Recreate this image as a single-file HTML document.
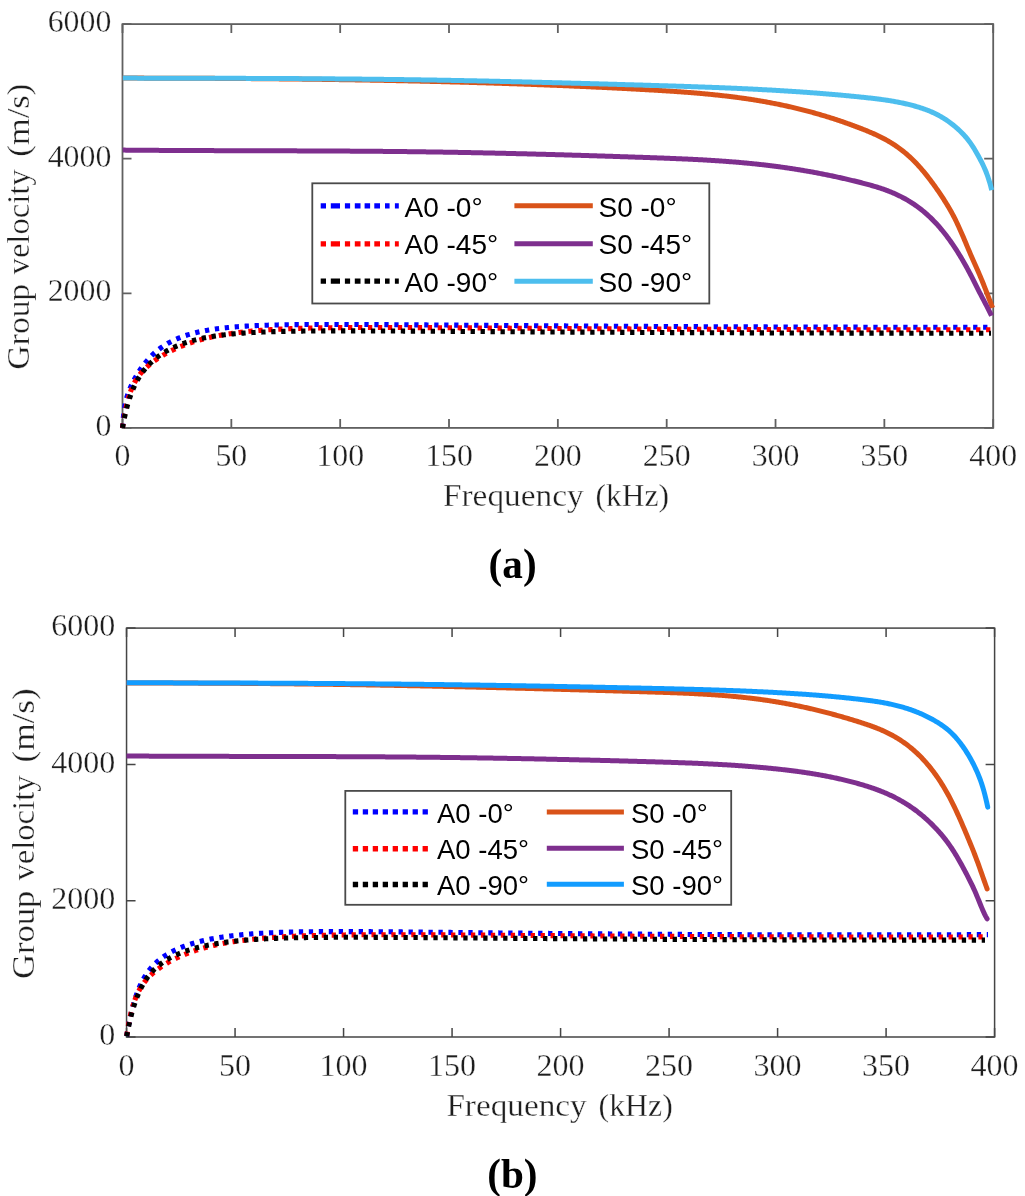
<!DOCTYPE html>
<html><head><meta charset="utf-8"><title>Group velocity</title>
<style>
html,body{margin:0;padding:0;background:#fff;}
svg{display:block;}
text{font-family:'Liberation Serif', 'DejaVu Serif', serif;fill:#1e1e1e;stroke:#fff;stroke-width:0.3px;paint-order:normal;}
text.sans{font-family:'Liberation Sans', Arial, sans-serif;fill:#000;stroke:none;}
text.lab{fill:#000;font-weight:bold;stroke:none;}
</style></head>
<body>
<svg width="1025" height="1196" viewBox="0 0 1025 1196">
<rect width="1025" height="1196" fill="#fff"/>
<rect x="122.5" y="24.1" width="870.70" height="403.80" fill="none" stroke="#606060" stroke-width="1.8"/>
<path d="M122.50,427.9V418.90M122.50,24.1V33.10M231.34,427.9V418.90M231.34,24.1V33.10M340.18,427.9V418.90M340.18,24.1V33.10M449.01,427.9V418.90M449.01,24.1V33.10M557.85,427.9V418.90M557.85,24.1V33.10M666.69,427.9V418.90M666.69,24.1V33.10M775.53,427.9V418.90M775.53,24.1V33.10M884.36,427.9V418.90M884.36,24.1V33.10M993.20,427.9V418.90M993.20,24.1V33.10M122.5,427.90H131.50M993.2,427.90H984.20M122.5,293.30H131.50M993.2,293.30H984.20M122.5,158.70H131.50M993.2,158.70H984.20M122.5,24.10H131.50M993.2,24.10H984.20" stroke="#606060" stroke-width="1.8" fill="none"/>
<clipPath id="clipa"><rect x="119.5" y="21.1" width="876.7" height="409.79999999999995"/></clipPath>
<clipPath id="clipsa"><rect x="122.5" y="21.1" width="873.7" height="409.79999999999995"/></clipPath>
<g clip-path="url(#clipa)" fill="none">
<path d="M122.50,427.90L122.70,425.09L122.90,422.52L123.10,420.17L123.30,418.02L123.50,416.05L123.70,414.23L123.90,412.55L124.10,411.00L124.30,409.56L124.50,408.22L124.70,406.97L124.90,405.80L125.10,404.71L125.30,403.68L125.50,402.71L125.70,401.79L125.90,400.91L126.10,400.08L126.30,399.29L126.50,398.54L126.70,397.81L126.90,397.11L127.10,396.44L127.30,395.79L127.50,395.16L127.70,394.56L127.90,393.96L128.10,393.39L128.30,392.83L128.50,392.28L128.70,391.75L128.90,391.22L129.10,390.71L129.30,390.21L129.50,389.71L129.70,389.22L129.90,388.75L130.10,388.28L130.30,387.81L130.50,387.35L130.70,386.90L130.90,386.46L131.10,386.01L131.30,385.58L131.50,385.15L131.70,384.72L131.90,384.30L132.10,383.89L132.30,383.47L132.50,383.06L132.70,382.66L132.90,382.26L133.10,381.86L133.30,381.47L133.50,381.08L133.70,380.69L133.90,380.31L134.10,379.93L134.30,379.55L134.50,379.18L134.70,378.81L134.90,378.44L135.10,378.08L135.30,377.72L135.50,377.36L135.70,377.00L135.90,376.65L136.10,376.30L136.30,375.95L136.50,375.61L136.70,375.27L136.90,374.93L137.10,374.59L137.30,374.25L137.50,373.92L137.70,373.59L137.90,373.27L138.10,372.94L138.30,372.62L138.50,372.30L138.70,371.99L138.90,371.67L139.10,371.36L139.30,371.05L139.50,370.74L139.70,370.44L139.90,370.13L140.10,369.83L140.30,369.53L140.50,369.24L140.70,368.94L140.90,368.65L141.10,368.36L141.30,368.07L141.50,367.79L141.70,367.50L141.90,367.22L142.10,366.94L142.30,366.67L142.50,366.39L142.70,366.12L142.90,365.85L143.10,365.58L143.30,365.31L143.50,365.04L143.70,364.78L143.90,364.52L144.10,364.26L144.30,364.00L144.50,363.74L144.70,363.49L144.90,363.24L145.10,362.99L145.30,362.74L145.50,362.49L145.70,362.25L145.90,362.00L146.10,361.76L146.30,361.52L146.50,361.28L146.70,361.05L146.90,360.81L147.10,360.58L147.30,360.35L147.50,360.12L148.50,358.99L149.50,357.90L150.50,356.85L151.50,355.84L152.50,354.86L153.50,353.92L154.50,353.01L155.50,352.12L156.50,351.27L157.50,350.45L158.50,349.65L159.50,348.88L160.50,348.14L161.50,347.42L162.50,346.72L163.50,346.05L164.50,345.39L165.50,344.76L166.50,344.15L167.50,343.56L168.50,342.99L169.50,342.43L170.50,341.90L171.50,341.38L172.50,340.87L173.50,340.39L174.50,339.91L175.50,339.45L176.50,339.01L177.50,338.58L178.50,338.16L179.50,337.76L180.50,337.37L181.50,336.99L182.50,336.62L183.50,336.26L184.50,335.91L185.50,335.58L186.50,335.25L187.50,334.93L188.50,334.62L189.50,334.33L190.50,334.04L191.50,333.76L192.50,333.48L193.50,333.22L194.50,332.96L195.50,332.71L196.50,332.47L197.50,332.23L198.50,332.00L199.50,331.78L200.50,331.56L201.50,331.36L202.50,331.15L203.50,330.95L204.50,330.76L205.50,330.57L206.50,330.39L207.50,330.22L208.50,330.05L209.50,329.88L210.50,329.72L211.50,329.56L212.50,329.41L213.50,329.26L214.50,329.11L215.50,328.97L216.50,328.84L217.50,328.70L218.50,328.57L219.50,328.45L220.50,328.33L221.50,328.21L222.50,328.09L223.50,327.98L224.50,327.87L225.50,327.77L226.50,327.66L227.50,327.56L228.50,327.47L229.50,327.37L230.50,327.28L231.50,327.19L232.50,327.10L233.50,327.02L234.50,326.94L235.50,326.86L236.50,326.78L237.50,326.70L238.50,326.63L239.50,326.56L240.50,326.49L241.50,326.42L242.50,326.36L243.50,326.29L244.50,326.23L245.50,326.17L246.50,326.11L247.50,326.05L248.50,326.00L249.50,325.95L250.50,325.89L251.50,325.84L252.50,325.79L253.50,325.75L254.50,325.70L255.50,325.65L256.50,325.61L257.50,325.57L258.50,325.53L259.50,325.49L260.50,325.45L261.50,325.41L262.50,325.37L263.50,325.34L264.50,325.30L265.50,325.27L266.50,325.24L267.50,325.21L268.50,325.17L269.50,325.14L270.50,325.12L271.50,325.09L272.50,325.06L273.50,325.04L274.50,325.01L275.50,324.99L276.50,324.96L277.50,324.94L278.50,324.92L279.50,324.90L280.50,324.87L281.50,324.85L282.50,324.84L283.50,324.82L284.50,324.80L285.50,324.78L286.50,324.76L287.50,324.75L288.50,324.73L289.50,324.72L290.50,324.70L291.50,324.69L292.50,324.67L293.50,324.66L294.50,324.65L295.50,324.64L296.50,324.63L297.50,324.61L298.50,324.60L299.50,324.59L300.50,324.58L301.50,324.58L302.50,324.57L303.50,324.56L304.50,324.55L305.50,324.54L306.50,324.54L307.50,324.53L308.50,324.52L309.50,324.52L310.50,324.51L311.50,324.50L312.50,324.50L313.50,324.49L314.50,324.49L315.50,324.49L316.50,324.48L317.50,324.48L318.50,324.47L319.50,324.47L320.50,324.47L321.50,324.47L322.50,324.46L323.50,324.46L324.50,324.46L325.50,324.46L326.50,324.46L327.50,324.46L328.50,324.45L329.50,324.45L330.50,324.45L331.50,324.45L332.50,324.45L333.50,324.45L334.50,324.45L335.50,324.45L336.50,324.45L337.50,324.46L338.50,324.46L339.50,324.46L340.50,324.46L341.50,324.46L342.50,324.46L343.50,324.46L344.50,324.47L345.50,324.47L346.50,324.47L347.50,324.47L348.50,324.48L349.50,324.48L350.50,324.48L351.50,324.48L352.50,324.49L353.50,324.49L354.50,324.49L355.50,324.50L356.50,324.50L357.50,324.51L358.50,324.51L359.50,324.51L360.50,324.52L361.50,324.52L362.50,324.53L363.50,324.53L364.50,324.53L365.50,324.54L366.50,324.54L367.50,324.55L368.50,324.55L369.50,324.56L370.50,324.56L371.50,324.57L372.50,324.57L373.50,324.58L374.50,324.58L375.50,324.59L376.50,324.59L377.50,324.60L378.50,324.61L379.50,324.61L380.50,324.62L381.50,324.62L382.50,324.63L383.50,324.63L384.50,324.64L385.50,324.65L386.50,324.65L387.50,324.66L388.50,324.66L389.50,324.67L390.50,324.68L391.50,324.68L392.50,324.69L393.50,324.69L394.50,324.70L395.50,324.71L396.50,324.71L397.50,324.72L398.50,324.73L399.50,324.73L400.50,324.74L401.50,324.75L402.50,324.75L403.50,324.76L404.50,324.77L405.50,324.77L406.50,324.78L407.50,324.79L408.50,324.79L409.50,324.80L410.50,324.81L411.50,324.82L412.50,324.82L413.50,324.83L414.50,324.84L415.50,324.84L416.50,324.85L417.50,324.86L418.50,324.86L419.50,324.87L420.50,324.88L421.50,324.89L422.50,324.89L423.50,324.90L424.50,324.91L425.50,324.92L426.50,324.92L427.50,324.93L428.50,324.94L429.50,324.94L430.50,324.95L431.50,324.96L432.50,324.97L433.50,324.97L434.50,324.98L435.50,324.99L436.50,325.00L437.50,325.00L438.50,325.01L439.50,325.02L440.50,325.03L441.50,325.03L442.50,325.04L443.50,325.05L444.50,325.05L445.50,325.06L446.50,325.07L447.50,325.08L448.50,325.08L449.50,325.09L450.50,325.10L451.50,325.11L452.50,325.11L453.50,325.12L454.50,325.13L455.50,325.14L456.50,325.14L457.50,325.15L458.50,325.16L459.50,325.17L460.50,325.17L461.50,325.18L462.50,325.19L463.50,325.20L464.50,325.20L465.50,325.21L466.50,325.22L467.50,325.23L468.50,325.23L469.50,325.24L470.50,325.25L471.50,325.26L472.50,325.26L473.50,325.27L474.50,325.28L475.50,325.29L476.50,325.29L477.50,325.30L478.50,325.31L479.50,325.32L480.50,325.32L481.50,325.33L482.50,325.34L483.50,325.35L484.50,325.35L485.50,325.36L486.50,325.37L487.50,325.38L488.50,325.38L489.50,325.39L490.50,325.40L491.50,325.40L492.50,325.41L493.50,325.42L494.50,325.43L495.50,325.43L496.50,325.44L497.50,325.45L498.50,325.46L499.50,325.46L500.50,325.47L501.50,325.48L502.50,325.48L503.50,325.49L504.50,325.50L505.50,325.51L506.50,325.51L507.50,325.52L508.50,325.53L509.50,325.54L510.50,325.54L511.50,325.55L512.50,325.56L513.50,325.56L514.50,325.57L515.50,325.58L516.50,325.59L517.50,325.59L518.50,325.60L519.50,325.61L520.50,325.61L521.50,325.62L522.50,325.63L523.50,325.63L524.50,325.64L525.50,325.65L526.50,325.66L527.50,325.66L528.50,325.67L529.50,325.68L530.50,325.68L531.50,325.69L532.50,325.70L533.50,325.70L534.50,325.71L535.50,325.72L536.50,325.73L537.50,325.73L538.50,325.74L539.50,325.75L540.50,325.75L541.50,325.76L542.50,325.77L543.50,325.77L544.50,325.78L545.50,325.79L546.50,325.79L547.50,325.80L548.50,325.81L549.50,325.81L550.50,325.82L551.50,325.83L552.50,325.83L553.50,325.84L554.50,325.85L555.50,325.85L556.50,325.86L557.50,325.87L558.50,325.87L559.50,325.88L560.50,325.89L561.50,325.89L562.50,325.90L563.50,325.91L564.50,325.91L565.50,325.92L566.50,325.93L567.50,325.93L568.50,325.94L569.50,325.95L570.50,325.95L571.50,325.96L572.50,325.96L573.50,325.97L574.50,325.98L575.50,325.98L576.50,325.99L577.50,326.00L578.50,326.00L579.50,326.01L580.50,326.02L581.50,326.02L582.50,326.03L583.50,326.03L584.50,326.04L585.50,326.05L586.50,326.05L587.50,326.06L588.50,326.07L589.50,326.07L590.50,326.08L591.50,326.08L592.50,326.09L593.50,326.10L594.50,326.10L595.50,326.11L596.50,326.11L597.50,326.12L598.50,326.13L599.50,326.13L600.50,326.14L601.50,326.14L602.50,326.15L603.50,326.16L604.50,326.16L605.50,326.17L606.50,326.17L607.50,326.18L608.50,326.19L609.50,326.19L610.50,326.20L611.50,326.20L612.50,326.21L613.50,326.22L614.50,326.22L615.50,326.23L616.50,326.23L617.50,326.24L618.50,326.24L619.50,326.25L620.50,326.26L621.50,326.26L622.50,326.27L623.50,326.27L624.50,326.28L625.50,326.28L626.50,326.29L627.50,326.29L628.50,326.30L629.50,326.31L630.50,326.31L631.50,326.32L632.50,326.32L633.50,326.33L634.50,326.33L635.50,326.34L636.50,326.34L637.50,326.35L638.50,326.36L639.50,326.36L640.50,326.37L641.50,326.37L642.50,326.38L643.50,326.38L644.50,326.39L645.50,326.39L646.50,326.40L647.50,326.40L648.50,326.41L649.50,326.41L650.50,326.42L651.50,326.42L652.50,326.43L653.50,326.44L654.50,326.44L655.50,326.45L656.50,326.45L657.50,326.46L658.50,326.46L659.50,326.47L660.50,326.47L661.50,326.48L662.50,326.48L663.50,326.49L664.50,326.49L665.50,326.50L666.50,326.50L667.50,326.51L668.50,326.51L669.50,326.52L670.50,326.52L671.50,326.53L672.50,326.53L673.50,326.54L674.50,326.54L675.50,326.55L676.50,326.55L677.50,326.56L678.50,326.56L679.50,326.57L680.50,326.57L681.50,326.57L682.50,326.58L683.50,326.58L684.50,326.59L685.50,326.59L686.50,326.60L687.50,326.60L688.50,326.61L689.50,326.61L690.50,326.62L691.50,326.62L692.50,326.63L693.50,326.63L694.50,326.64L695.50,326.64L696.50,326.64L697.50,326.65L698.50,326.65L699.50,326.66L700.50,326.66L701.50,326.67L702.50,326.67L703.50,326.68L704.50,326.68L705.50,326.68L706.50,326.69L707.50,326.69L708.50,326.70L709.50,326.70L710.50,326.71L711.50,326.71L712.50,326.72L713.50,326.72L714.50,326.72L715.50,326.73L716.50,326.73L717.50,326.74L718.50,326.74L719.50,326.74L720.50,326.75L721.50,326.75L722.50,326.76L723.50,326.76L724.50,326.77L725.50,326.77L726.50,326.77L727.50,326.78L728.50,326.78L729.50,326.79L730.50,326.79L731.50,326.79L732.50,326.80L733.50,326.80L734.50,326.81L735.50,326.81L736.50,326.81L737.50,326.82L738.50,326.82L739.50,326.82L740.50,326.83L741.50,326.83L742.50,326.84L743.50,326.84L744.50,326.84L745.50,326.85L746.50,326.85L747.50,326.86L748.50,326.86L749.50,326.86L750.50,326.87L751.50,326.87L752.50,326.87L753.50,326.88L754.50,326.88L755.50,326.88L756.50,326.89L757.50,326.89L758.50,326.90L759.50,326.90L760.50,326.90L761.50,326.91L762.50,326.91L763.50,326.91L764.50,326.92L765.50,326.92L766.50,326.92L767.50,326.93L768.50,326.93L769.50,326.93L770.50,326.94L771.50,326.94L772.50,326.94L773.50,326.95L774.50,326.95L775.50,326.95L776.50,326.96L777.50,326.96L778.50,326.96L779.50,326.97L780.50,326.97L781.50,326.97L782.50,326.98L783.50,326.98L784.50,326.98L785.50,326.99L786.50,326.99L787.50,326.99L788.50,327.00L789.50,327.00L790.50,327.00L791.50,327.00L792.50,327.01L793.50,327.01L794.50,327.01L795.50,327.02L796.50,327.02L797.50,327.02L798.50,327.03L799.50,327.03L800.50,327.03L801.50,327.03L802.50,327.04L803.50,327.04L804.50,327.04L805.50,327.05L806.50,327.05L807.50,327.05L808.50,327.05L809.50,327.06L810.50,327.06L811.50,327.06L812.50,327.06L813.50,327.07L814.50,327.07L815.50,327.07L816.50,327.08L817.50,327.08L818.50,327.08L819.50,327.08L820.50,327.09L821.50,327.09L822.50,327.09L823.50,327.09L824.50,327.10L825.50,327.10L826.50,327.10L827.50,327.10L828.50,327.11L829.50,327.11L830.50,327.11L831.50,327.11L832.50,327.12L833.50,327.12L834.50,327.12L835.50,327.12L836.50,327.13L837.50,327.13L838.50,327.13L839.50,327.13L840.50,327.13L841.50,327.14L842.50,327.14L843.50,327.14L844.50,327.14L845.50,327.15L846.50,327.15L847.50,327.15L848.50,327.15L849.50,327.15L850.50,327.16L851.50,327.16L852.50,327.16L853.50,327.16L854.50,327.16L855.50,327.17L856.50,327.17L857.50,327.17L858.50,327.17L859.50,327.17L860.50,327.18L861.50,327.18L862.50,327.18L863.50,327.18L864.50,327.18L865.50,327.19L866.50,327.19L867.50,327.19L868.50,327.19L869.50,327.19L870.50,327.20L871.50,327.20L872.50,327.20L873.50,327.20L874.50,327.20L875.50,327.20L876.50,327.21L877.50,327.21L878.50,327.21L879.50,327.21L880.50,327.21L881.50,327.21L882.50,327.22L883.50,327.22L884.50,327.22L885.50,327.22L886.50,327.22L887.50,327.22L888.50,327.23L889.50,327.23L890.50,327.23L891.50,327.23L892.50,327.23L893.50,327.23L894.50,327.23L895.50,327.24L896.50,327.24L897.50,327.24L898.50,327.24L899.50,327.24L900.50,327.24L901.50,327.24L902.50,327.25L903.50,327.25L904.50,327.25L905.50,327.25L906.50,327.25L907.50,327.25L908.50,327.25L909.50,327.25L910.50,327.25L911.50,327.26L912.50,327.26L913.50,327.26L914.50,327.26L915.50,327.26L916.50,327.26L917.50,327.26L918.50,327.26L919.50,327.26L920.50,327.27L921.50,327.27L922.50,327.27L923.50,327.27L924.50,327.27L925.50,327.27L926.50,327.27L927.50,327.27L928.50,327.27L929.50,327.27L930.50,327.28L931.50,327.28L932.50,327.28L933.50,327.28L934.50,327.28L935.50,327.28L936.50,327.28L937.50,327.28L938.50,327.28L939.50,327.28L940.50,327.28L941.50,327.28L942.50,327.28L943.50,327.28L944.50,327.29L945.50,327.29L946.50,327.29L947.50,327.29L948.50,327.29L949.50,327.29L950.50,327.29L951.50,327.29L952.50,327.29L953.50,327.29L954.50,327.29L955.50,327.29L956.50,327.29L957.50,327.29L958.50,327.29L959.50,327.29L960.50,327.29L961.50,327.29L962.50,327.29L963.50,327.29L964.50,327.30L965.50,327.30L966.50,327.30L967.50,327.30L968.50,327.30L969.50,327.30L970.50,327.30L971.50,327.30L972.50,327.30L973.50,327.30L974.50,327.30L975.50,327.30L976.50,327.30L977.50,327.30L978.50,327.30L979.50,327.30L980.50,327.30L981.50,327.30L982.50,327.30L983.50,327.30L984.50,327.30L985.50,327.30L986.50,327.30L987.50,327.30L988.50,327.30L989.50,327.30L990.50,327.30L991.00,327.30" stroke="#0000FF" stroke-width="5.1" stroke-linejoin="round" stroke-dasharray="4.3 5.68" stroke-dashoffset="0"/>
<path d="M122.50,427.90L122.70,426.47L122.90,425.07L123.10,423.72L123.30,422.40L123.50,421.12L123.70,419.87L123.90,418.65L124.10,417.46L124.30,416.31L124.50,415.19L124.70,414.09L124.90,413.03L125.10,411.99L125.30,410.97L125.50,409.99L125.70,409.02L125.90,408.09L126.10,407.17L126.30,406.28L126.50,405.41L126.70,404.56L126.90,403.73L127.10,402.92L127.30,402.13L127.50,401.36L127.70,400.61L127.90,399.88L128.10,399.16L128.30,398.46L128.50,397.77L128.70,397.10L128.90,396.45L129.10,395.81L129.30,395.18" stroke="#FF0000" stroke-width="5.1" stroke-linejoin="round" stroke-dasharray="4.3 5.67" stroke-dashoffset="0"/>
<path d="M129.30,395.18L129.50,394.57L129.70,393.97L129.90,393.38L130.10,392.81L130.30,392.25L130.50,391.70L130.70,391.16L130.90,390.63L131.10,390.12L131.30,389.61L131.50,389.12L131.70,388.63L131.90,388.15L132.10,387.69L132.30,387.23L132.50,386.78L132.70,386.34L132.90,385.90L133.10,385.48L133.30,385.06L133.50,384.65L133.70,384.25L133.90,383.85L134.10,383.46L134.30,383.08L134.50,382.70L134.70,382.33L134.90,381.97L135.10,381.61L135.30,381.26L135.50,380.91L135.70,380.57L135.90,380.24L136.10,379.91L136.30,379.58L136.50,379.26L136.70,378.95L136.90,378.63L137.10,378.33L137.30,378.03L137.50,377.73L137.70,377.43L137.90,377.14L138.10,376.86L138.30,376.57L138.50,376.30L138.70,376.02L138.90,375.75L139.10,375.48L139.30,375.22L139.50,374.95L139.70,374.70L139.90,374.44L140.10,374.19L140.30,373.94L140.50,373.69L140.70,373.45L140.90,373.21L141.10,372.97L141.30,372.73L141.50,372.50L141.70,372.27L141.90,372.04L142.10,371.81L142.30,371.59L142.50,371.37L142.70,371.15L142.90,370.93L143.10,370.71L143.30,370.50L143.50,370.29L143.70,370.08L143.90,369.87L144.10,369.67L144.30,369.46L144.50,369.26L144.70,369.06L144.90,368.86L145.10,368.66L145.30,368.47L145.50,368.27L145.70,368.08L145.90,367.89L146.10,367.70L146.30,367.51L146.50,367.33L146.70,367.14L146.90,366.96L147.10,366.78L147.30,366.60L147.50,366.42L148.50,365.54L149.50,364.69L150.50,363.86L151.50,363.07L152.50,362.29L153.50,361.54L154.50,360.80L155.50,360.09L156.50,359.39L157.50,358.71L158.50,358.05L159.50,357.40L160.50,356.77L161.50,356.15L162.50,355.55L163.50,354.95L164.50,354.37L165.50,353.81L166.50,353.25L167.50,352.71L168.50,352.18L169.50,351.66L170.50,351.15L171.50,350.65L172.50,350.16L173.50,349.68L174.50,349.21L175.50,348.75L176.50,348.30L177.50,347.85L178.50,347.42L179.50,347.00L180.50,346.58L181.50,346.17L182.50,345.77L183.50,345.38L184.50,345.00L185.50,344.62L186.50,344.26L187.50,343.89L188.50,343.54L189.50,343.19L190.50,342.85L191.50,342.52L192.50,342.19L193.50,341.87L194.50,341.56L195.50,341.25L196.50,340.95L197.50,340.66L198.50,340.37L199.50,340.09L200.50,339.81L201.50,339.54L202.50,339.27L203.50,339.01L204.50,338.75L205.50,338.50L206.50,338.26L207.50,338.02L208.50,337.78L209.50,337.55L210.50,337.32L211.50,337.10L212.50,336.88L213.50,336.67L214.50,336.46L215.50,336.26L216.50,336.06L217.50,335.86L218.50,335.67L219.50,335.48L220.50,335.30L221.50,335.12L222.50,334.94L223.50,334.77L224.50,334.60L225.50,334.43L226.50,334.27L227.50,334.11L228.50,333.95L229.50,333.80L230.50,333.65L231.50,333.50L232.50,333.36L233.50,333.22L234.50,333.08L235.50,332.94L236.50,332.81L237.50,332.68L238.50,332.56L239.50,332.43L240.50,332.31L241.50,332.19L242.50,332.07L243.50,331.96L244.50,331.85L245.50,331.74L246.50,331.63L247.50,331.53L248.50,331.43L249.50,331.33L250.50,331.23L251.50,331.13L252.50,331.04L253.50,330.95L254.50,330.86L255.50,330.77L256.50,330.68L257.50,330.60L258.50,330.51L259.50,330.43L260.50,330.35L261.50,330.28L262.50,330.20L263.50,330.13L264.50,330.06L265.50,329.98L266.50,329.92L267.50,329.85L268.50,329.78L269.50,329.72L270.50,329.65L271.50,329.59L272.50,329.53L273.50,329.47L274.50,329.42L275.50,329.36L276.50,329.30L277.50,329.25L278.50,329.20L279.50,329.15L280.50,329.10L281.50,329.05L282.50,329.00L283.50,328.95L284.50,328.91L285.50,328.86L286.50,328.82L287.50,328.78L288.50,328.73L289.50,328.69L290.50,328.65L291.50,328.62L292.50,328.58L293.50,328.54L294.50,328.51L295.50,328.47L296.50,328.44L297.50,328.40L298.50,328.37L299.50,328.34L300.50,328.31L301.50,328.28L302.50,328.25L303.50,328.22L304.50,328.19L305.50,328.17L306.50,328.14L307.50,328.11L308.50,328.09L309.50,328.07L310.50,328.04L311.50,328.02L312.50,328.00L313.50,327.98L314.50,327.95L315.50,327.93L316.50,327.91L317.50,327.89L318.50,327.88L319.50,327.86L320.50,327.84L321.50,327.82L322.50,327.81L323.50,327.79L324.50,327.77L325.50,327.76L326.50,327.75L327.50,327.73L328.50,327.72L329.50,327.70L330.50,327.69L331.50,327.68L332.50,327.67L333.50,327.66L334.50,327.64L335.50,327.63L336.50,327.62L337.50,327.61L338.50,327.60L339.50,327.59L340.50,327.59L341.50,327.58L342.50,327.57L343.50,327.56L344.50,327.55L345.50,327.55L346.50,327.54L347.50,327.53L348.50,327.53L349.50,327.52L350.50,327.52L351.50,327.51L352.50,327.51L353.50,327.50L354.50,327.50L355.50,327.49L356.50,327.49L357.50,327.48L358.50,327.48L359.50,327.48L360.50,327.47L361.50,327.47L362.50,327.47L363.50,327.47L364.50,327.47L365.50,327.46L366.50,327.46L367.50,327.46L368.50,327.46L369.50,327.46L370.50,327.46L371.50,327.46L372.50,327.46L373.50,327.46L374.50,327.46L375.50,327.46L376.50,327.46L377.50,327.46L378.50,327.46L379.50,327.46L380.50,327.46L381.50,327.46L382.50,327.46L383.50,327.46L384.50,327.46L385.50,327.47L386.50,327.47L387.50,327.47L388.50,327.47L389.50,327.47L390.50,327.48L391.50,327.48L392.50,327.48L393.50,327.48L394.50,327.49L395.50,327.49L396.50,327.49L397.50,327.50L398.50,327.50L399.50,327.50L400.50,327.51L401.50,327.51L402.50,327.51L403.50,327.52L404.50,327.52L405.50,327.53L406.50,327.53L407.50,327.53L408.50,327.54L409.50,327.54L410.50,327.55L411.50,327.55L412.50,327.56L413.50,327.56L414.50,327.56L415.50,327.57L416.50,327.57L417.50,327.58L418.50,327.58L419.50,327.59L420.50,327.59L421.50,327.60L422.50,327.60L423.50,327.61L424.50,327.61L425.50,327.62L426.50,327.63L427.50,327.63L428.50,327.64L429.50,327.64L430.50,327.65L431.50,327.65L432.50,327.66L433.50,327.66L434.50,327.67L435.50,327.68L436.50,327.68L437.50,327.69L438.50,327.69L439.50,327.70L440.50,327.71L441.50,327.71L442.50,327.72L443.50,327.72L444.50,327.73L445.50,327.74L446.50,327.74L447.50,327.75L448.50,327.76L449.50,327.76L450.50,327.77L451.50,327.78L452.50,327.78L453.50,327.79L454.50,327.79L455.50,327.80L456.50,327.81L457.50,327.81L458.50,327.82L459.50,327.83L460.50,327.83L461.50,327.84L462.50,327.85L463.50,327.85L464.50,327.86L465.50,327.87L466.50,327.87L467.50,327.88L468.50,327.89L469.50,327.89L470.50,327.90L471.50,327.91L472.50,327.91L473.50,327.92L474.50,327.93L475.50,327.93L476.50,327.94L477.50,327.95L478.50,327.96L479.50,327.96L480.50,327.97L481.50,327.98L482.50,327.98L483.50,327.99L484.50,328.00L485.50,328.00L486.50,328.01L487.50,328.02L488.50,328.02L489.50,328.03L490.50,328.04L491.50,328.05L492.50,328.05L493.50,328.06L494.50,328.07L495.50,328.07L496.50,328.08L497.50,328.09L498.50,328.09L499.50,328.10L500.50,328.11L501.50,328.11L502.50,328.12L503.50,328.13L504.50,328.14L505.50,328.14L506.50,328.15L507.50,328.16L508.50,328.16L509.50,328.17L510.50,328.18L511.50,328.18L512.50,328.19L513.50,328.20L514.50,328.20L515.50,328.21L516.50,328.22L517.50,328.22L518.50,328.23L519.50,328.24L520.50,328.25L521.50,328.25L522.50,328.26L523.50,328.27L524.50,328.27L525.50,328.28L526.50,328.29L527.50,328.29L528.50,328.30L529.50,328.31L530.50,328.31L531.50,328.32L532.50,328.33L533.50,328.33L534.50,328.34L535.50,328.35L536.50,328.35L537.50,328.36L538.50,328.37L539.50,328.37L540.50,328.38L541.50,328.39L542.50,328.39L543.50,328.40L544.50,328.41L545.50,328.41L546.50,328.42L547.50,328.43L548.50,328.43L549.50,328.44L550.50,328.45L551.50,328.45L552.50,328.46L553.50,328.47L554.50,328.47L555.50,328.48L556.50,328.49L557.50,328.49L558.50,328.50L559.50,328.51L560.50,328.51L561.50,328.52L562.50,328.52L563.50,328.53L564.50,328.54L565.50,328.54L566.50,328.55L567.50,328.56L568.50,328.56L569.50,328.57L570.50,328.58L571.50,328.58L572.50,328.59L573.50,328.59L574.50,328.60L575.50,328.61L576.50,328.61L577.50,328.62L578.50,328.63L579.50,328.63L580.50,328.64L581.50,328.64L582.50,328.65L583.50,328.66L584.50,328.66L585.50,328.67L586.50,328.67L587.50,328.68L588.50,328.69L589.50,328.69L590.50,328.70L591.50,328.70L592.50,328.71L593.50,328.72L594.50,328.72L595.50,328.73L596.50,328.73L597.50,328.74L598.50,328.75L599.50,328.75L600.50,328.76L601.50,328.76L602.50,328.77L603.50,328.78L604.50,328.78L605.50,328.79L606.50,328.79L607.50,328.80L608.50,328.80L609.50,328.81L610.50,328.82L611.50,328.82L612.50,328.83L613.50,328.83L614.50,328.84L615.50,328.84L616.50,328.85L617.50,328.86L618.50,328.86L619.50,328.87L620.50,328.87L621.50,328.88L622.50,328.88L623.50,328.89L624.50,328.89L625.50,328.90L626.50,328.91L627.50,328.91L628.50,328.92L629.50,328.92L630.50,328.93L631.50,328.93L632.50,328.94L633.50,328.94L634.50,328.95L635.50,328.95L636.50,328.96L637.50,328.96L638.50,328.97L639.50,328.97L640.50,328.98L641.50,328.98L642.50,328.99L643.50,329.00L644.50,329.00L645.50,329.01L646.50,329.01L647.50,329.02L648.50,329.02L649.50,329.03L650.50,329.03L651.50,329.04L652.50,329.04L653.50,329.05L654.50,329.05L655.50,329.06L656.50,329.06L657.50,329.07L658.50,329.07L659.50,329.08L660.50,329.08L661.50,329.08L662.50,329.09L663.50,329.09L664.50,329.10L665.50,329.10L666.50,329.11L667.50,329.11L668.50,329.12L669.50,329.12L670.50,329.13L671.50,329.13L672.50,329.14L673.50,329.14L674.50,329.15L675.50,329.15L676.50,329.16L677.50,329.16L678.50,329.16L679.50,329.17L680.50,329.17L681.50,329.18L682.50,329.18L683.50,329.19L684.50,329.19L685.50,329.20L686.50,329.20L687.50,329.20L688.50,329.21L689.50,329.21L690.50,329.22L691.50,329.22L692.50,329.23L693.50,329.23L694.50,329.23L695.50,329.24L696.50,329.24L697.50,329.25L698.50,329.25L699.50,329.26L700.50,329.26L701.50,329.26L702.50,329.27L703.50,329.27L704.50,329.28L705.50,329.28L706.50,329.28L707.50,329.29L708.50,329.29L709.50,329.30L710.50,329.30L711.50,329.30L712.50,329.31L713.50,329.31L714.50,329.32L715.50,329.32L716.50,329.32L717.50,329.33L718.50,329.33L719.50,329.34L720.50,329.34L721.50,329.34L722.50,329.35L723.50,329.35L724.50,329.35L725.50,329.36L726.50,329.36L727.50,329.37L728.50,329.37L729.50,329.37L730.50,329.38L731.50,329.38L732.50,329.38L733.50,329.39L734.50,329.39L735.50,329.39L736.50,329.40L737.50,329.40L738.50,329.40L739.50,329.41L740.50,329.41L741.50,329.41L742.50,329.42L743.50,329.42L744.50,329.42L745.50,329.43L746.50,329.43L747.50,329.43L748.50,329.44L749.50,329.44L750.50,329.44L751.50,329.45L752.50,329.45L753.50,329.45L754.50,329.46L755.50,329.46L756.50,329.46L757.50,329.47L758.50,329.47L759.50,329.47L760.50,329.48L761.50,329.48L762.50,329.48L763.50,329.48L764.50,329.49L765.50,329.49L766.50,329.49L767.50,329.50L768.50,329.50L769.50,329.50L770.50,329.51L771.50,329.51L772.50,329.51L773.50,329.51L774.50,329.52L775.50,329.52L776.50,329.52L777.50,329.52L778.50,329.53L779.50,329.53L780.50,329.53L781.50,329.54L782.50,329.54L783.50,329.54L784.50,329.54L785.50,329.55L786.50,329.55L787.50,329.55L788.50,329.55L789.50,329.56L790.50,329.56L791.50,329.56L792.50,329.56L793.50,329.57L794.50,329.57L795.50,329.57L796.50,329.57L797.50,329.58L798.50,329.58L799.50,329.58L800.50,329.58L801.50,329.59L802.50,329.59L803.50,329.59L804.50,329.59L805.50,329.59L806.50,329.60L807.50,329.60L808.50,329.60L809.50,329.60L810.50,329.61L811.50,329.61L812.50,329.61L813.50,329.61L814.50,329.61L815.50,329.62L816.50,329.62L817.50,329.62L818.50,329.62L819.50,329.62L820.50,329.63L821.50,329.63L822.50,329.63L823.50,329.63L824.50,329.63L825.50,329.64L826.50,329.64L827.50,329.64L828.50,329.64L829.50,329.64L830.50,329.64L831.50,329.65L832.50,329.65L833.50,329.65L834.50,329.65L835.50,329.65L836.50,329.65L837.50,329.66L838.50,329.66L839.50,329.66L840.50,329.66L841.50,329.66L842.50,329.66L843.50,329.67L844.50,329.67L845.50,329.67L846.50,329.67L847.50,329.67L848.50,329.67L849.50,329.67L850.50,329.68L851.50,329.68L852.50,329.68L853.50,329.68L854.50,329.68L855.50,329.68L856.50,329.68L857.50,329.69L858.50,329.69L859.50,329.69L860.50,329.69L861.50,329.69L862.50,329.69L863.50,329.69L864.50,329.69L865.50,329.70L866.50,329.70L867.50,329.70L868.50,329.70L869.50,329.70L870.50,329.70L871.50,329.70L872.50,329.70L873.50,329.70L874.50,329.70L875.50,329.71L876.50,329.71L877.50,329.71L878.50,329.71L879.50,329.71L880.50,329.71L881.50,329.71L882.50,329.71L883.50,329.71L884.50,329.71L885.50,329.71L886.50,329.71L887.50,329.72L888.50,329.72L889.50,329.72L890.50,329.72L891.50,329.72L892.50,329.72L893.50,329.72L894.50,329.72L895.50,329.72L896.50,329.72L897.50,329.72L898.50,329.72L899.50,329.72L900.50,329.72L901.50,329.72L902.50,329.72L903.50,329.72L904.50,329.73L905.50,329.73L906.50,329.73L907.50,329.73L908.50,329.73L909.50,329.73L910.50,329.73L911.50,329.73L912.50,329.73L913.50,329.73L914.50,329.73L915.50,329.73L916.50,329.73L917.50,329.73L918.50,329.73L919.50,329.73L920.50,329.73L921.50,329.73L922.50,329.73L923.50,329.73L924.50,329.73L925.50,329.73L926.50,329.73L927.50,329.73L928.50,329.73L929.50,329.73L930.50,329.73L931.50,329.73L932.50,329.73L933.50,329.73L934.50,329.73L935.50,329.73L936.50,329.73L937.50,329.73L938.50,329.73L939.50,329.73L940.50,329.73L941.50,329.73L942.50,329.73L943.50,329.73L944.50,329.73L945.50,329.73L946.50,329.73L947.50,329.73L948.50,329.73L949.50,329.73L950.50,329.72L951.50,329.72L952.50,329.72L953.50,329.72L954.50,329.72L955.50,329.72L956.50,329.72L957.50,329.72L958.50,329.72L959.50,329.72L960.50,329.72L961.50,329.72L962.50,329.72L963.50,329.72L964.50,329.72L965.50,329.72L966.50,329.72L967.50,329.71L968.50,329.71L969.50,329.71L970.50,329.71L971.50,329.71L972.50,329.71L973.50,329.71L974.50,329.71L975.50,329.71L976.50,329.71L977.50,329.71L978.50,329.71L979.50,329.70L980.50,329.70L981.50,329.70L982.50,329.70L983.50,329.70L984.50,329.70L985.50,329.70L986.50,329.70L987.50,329.70L988.50,329.70L989.50,329.69L990.50,329.69L991.00,329.69" stroke="#FF0000" stroke-width="5.1" stroke-linejoin="round" stroke-dasharray="4.3 5.67" stroke-dashoffset="36.46"/>
<path d="M122.50,427.90L122.70,426.76L122.90,425.64L123.10,424.55L123.30,423.48L123.50,422.42L123.70,421.39L123.90,420.38L124.10,419.39L124.30,418.42L124.50,417.47L124.70,416.54L124.90,415.62L125.10,414.72L125.30,413.84L125.50,412.97L125.70,412.12L125.90,411.29L126.10,410.47L126.30,409.66L126.50,408.87L126.70,408.09L126.90,407.33L127.10,406.58L127.30,405.85L127.50,405.12L127.70,404.41L127.90,403.71L128.10,403.02L128.30,402.35L128.50,401.68L128.70,401.03L128.90,400.39L129.10,399.75L129.30,399.13L129.50,398.52L129.70,397.91L129.90,397.32L130.10,396.73L130.30,396.16L130.50,395.59L130.70,395.03L130.90,394.48L131.10,393.94L131.30,393.41L131.50,392.88L131.70,392.36L131.90,391.85L132.10,391.35L132.30,390.85L132.50,390.36L132.70,389.88L132.90,389.40L133.10,388.93L133.30,388.47L133.50,388.01L133.70,387.56L133.90,387.12L134.10,386.68L134.30,386.24L134.50,385.82L134.70,385.39L134.90,384.98L135.10,384.56L135.30,384.16L135.50,383.76L135.70,383.36L135.90,382.97L136.10,382.58L136.30,382.20L136.50,381.82L136.70,381.45L136.90,381.08L137.10,380.71L137.30,380.35L137.50,380.00L137.70,379.64L137.90,379.30L138.10,378.95L138.30,378.61L138.50,378.27L138.70,377.94L138.90,377.61L139.10,377.28L139.30,376.96L139.50,376.64L139.70,376.33L139.90,376.01L140.10,375.70L140.30,375.40L140.50,375.10L140.70,374.80L140.90,374.50L141.10,374.20L141.30,373.91L141.50,373.63L141.70,373.34L141.90,373.06L142.10,372.78L142.30,372.50L142.50,372.23L142.70,371.95L142.90,371.68L143.10,371.42L143.30,371.15L143.50,370.89L143.70,370.63L143.90,370.37L144.10,370.12L144.30,369.87L144.50,369.62L144.70,369.37L144.90,369.12L145.10,368.88L145.30,368.64L145.50,368.40L145.70,368.16L145.90,367.93L146.10,367.69L146.30,367.46L146.50,367.23L146.70,367.00L146.90,366.78L147.10,366.55L147.30,366.33L147.50,366.11L148.50,365.04L149.50,364.00L150.50,363.01L151.50,362.06L152.50,361.14L153.50,360.25L154.50,359.39L155.50,358.56L156.50,357.76L157.50,356.99L158.50,356.25L159.50,355.52L160.50,354.82L161.50,354.15L162.50,353.49L163.50,352.86L164.50,352.24L165.50,351.64L166.50,351.06L167.50,350.50L168.50,349.96L169.50,349.43L170.50,348.92L171.50,348.42L172.50,347.93L173.50,347.46L174.50,347.01L175.50,346.56L176.50,346.13L177.50,345.71L178.50,345.30L179.50,344.91L180.50,344.52L181.50,344.15L182.50,343.79L183.50,343.43L184.50,343.09L185.50,342.75L186.50,342.43L187.50,342.11L188.50,341.80L189.50,341.51L190.50,341.21L191.50,340.93L192.50,340.65L193.50,340.39L194.50,340.12L195.50,339.87L196.50,339.62L197.50,339.38L198.50,339.15L199.50,338.92L200.50,338.70L201.50,338.48L202.50,338.27L203.50,338.07L204.50,337.87L205.50,337.67L206.50,337.48L207.50,337.30L208.50,337.12L209.50,336.94L210.50,336.77L211.50,336.61L212.50,336.45L213.50,336.29L214.50,336.14L215.50,335.99L216.50,335.85L217.50,335.70L218.50,335.57L219.50,335.43L220.50,335.30L221.50,335.18L222.50,335.05L223.50,334.93L224.50,334.81L225.50,334.70L226.50,334.59L227.50,334.48L228.50,334.38L229.50,334.27L230.50,334.17L231.50,334.08L232.50,333.98L233.50,333.89L234.50,333.80L235.50,333.71L236.50,333.63L237.50,333.54L238.50,333.46L239.50,333.38L240.50,333.31L241.50,333.23L242.50,333.16L243.50,333.09L244.50,333.02L245.50,332.95L246.50,332.89L247.50,332.83L248.50,332.76L249.50,332.70L250.50,332.65L251.50,332.59L252.50,332.53L253.50,332.48L254.50,332.43L255.50,332.38L256.50,332.33L257.50,332.28L258.50,332.23L259.50,332.19L260.50,332.14L261.50,332.10L262.50,332.06L263.50,332.02L264.50,331.98L265.50,331.94L266.50,331.90L267.50,331.86L268.50,331.83L269.50,331.79L270.50,331.76L271.50,331.73L272.50,331.70L273.50,331.66L274.50,331.63L275.50,331.61L276.50,331.58L277.50,331.55L278.50,331.52L279.50,331.50L280.50,331.47L281.50,331.45L282.50,331.43L283.50,331.40L284.50,331.38L285.50,331.36L286.50,331.34L287.50,331.32L288.50,331.30L289.50,331.28L290.50,331.26L291.50,331.24L292.50,331.23L293.50,331.21L294.50,331.20L295.50,331.18L296.50,331.17L297.50,331.15L298.50,331.14L299.50,331.12L300.50,331.11L301.50,331.10L302.50,331.09L303.50,331.07L304.50,331.06L305.50,331.05L306.50,331.04L307.50,331.03L308.50,331.02L309.50,331.01L310.50,331.01L311.50,331.00L312.50,330.99L313.50,330.98L314.50,330.97L315.50,330.97L316.50,330.96L317.50,330.95L318.50,330.95L319.50,330.94L320.50,330.94L321.50,330.93L322.50,330.93L323.50,330.92L324.50,330.92L325.50,330.91L326.50,330.91L327.50,330.91L328.50,330.90L329.50,330.90L330.50,330.90L331.50,330.90L332.50,330.89L333.50,330.89L334.50,330.89L335.50,330.89L336.50,330.89L337.50,330.88L338.50,330.88L339.50,330.88L340.50,330.88L341.50,330.88L342.50,330.88L343.50,330.88L344.50,330.88L345.50,330.88L346.50,330.88L347.50,330.88L348.50,330.88L349.50,330.88L350.50,330.88L351.50,330.89L352.50,330.89L353.50,330.89L354.50,330.89L355.50,330.89L356.50,330.89L357.50,330.90L358.50,330.90L359.50,330.90L360.50,330.90L361.50,330.90L362.50,330.91L363.50,330.91L364.50,330.91L365.50,330.91L366.50,330.92L367.50,330.92L368.50,330.92L369.50,330.93L370.50,330.93L371.50,330.93L372.50,330.94L373.50,330.94L374.50,330.94L375.50,330.95L376.50,330.95L377.50,330.96L378.50,330.96L379.50,330.96L380.50,330.97L381.50,330.97L382.50,330.98L383.50,330.98L384.50,330.98L385.50,330.99L386.50,330.99L387.50,331.00L388.50,331.00L389.50,331.01L390.50,331.01L391.50,331.02L392.50,331.02L393.50,331.03L394.50,331.03L395.50,331.04L396.50,331.04L397.50,331.05L398.50,331.05L399.50,331.06L400.50,331.06L401.50,331.07L402.50,331.07L403.50,331.08L404.50,331.08L405.50,331.09L406.50,331.09L407.50,331.10L408.50,331.11L409.50,331.11L410.50,331.12L411.50,331.12L412.50,331.13L413.50,331.13L414.50,331.14L415.50,331.14L416.50,331.15L417.50,331.16L418.50,331.16L419.50,331.17L420.50,331.17L421.50,331.18L422.50,331.19L423.50,331.19L424.50,331.20L425.50,331.20L426.50,331.21L427.50,331.22L428.50,331.22L429.50,331.23L430.50,331.23L431.50,331.24L432.50,331.25L433.50,331.25L434.50,331.26L435.50,331.26L436.50,331.27L437.50,331.28L438.50,331.28L439.50,331.29L440.50,331.29L441.50,331.30L442.50,331.31L443.50,331.31L444.50,331.32L445.50,331.33L446.50,331.33L447.50,331.34L448.50,331.34L449.50,331.35L450.50,331.36L451.50,331.36L452.50,331.37L453.50,331.38L454.50,331.38L455.50,331.39L456.50,331.40L457.50,331.40L458.50,331.41L459.50,331.41L460.50,331.42L461.50,331.43L462.50,331.43L463.50,331.44L464.50,331.45L465.50,331.45L466.50,331.46L467.50,331.47L468.50,331.47L469.50,331.48L470.50,331.48L471.50,331.49L472.50,331.50L473.50,331.50L474.50,331.51L475.50,331.52L476.50,331.52L477.50,331.53L478.50,331.53L479.50,331.54L480.50,331.55L481.50,331.55L482.50,331.56L483.50,331.57L484.50,331.57L485.50,331.58L486.50,331.59L487.50,331.59L488.50,331.60L489.50,331.60L490.50,331.61L491.50,331.62L492.50,331.62L493.50,331.63L494.50,331.64L495.50,331.64L496.50,331.65L497.50,331.65L498.50,331.66L499.50,331.67L500.50,331.67L501.50,331.68L502.50,331.69L503.50,331.69L504.50,331.70L505.50,331.70L506.50,331.71L507.50,331.72L508.50,331.72L509.50,331.73L510.50,331.74L511.50,331.74L512.50,331.75L513.50,331.75L514.50,331.76L515.50,331.77L516.50,331.77L517.50,331.78L518.50,331.78L519.50,331.79L520.50,331.80L521.50,331.80L522.50,331.81L523.50,331.81L524.50,331.82L525.50,331.83L526.50,331.83L527.50,331.84L528.50,331.85L529.50,331.85L530.50,331.86L531.50,331.86L532.50,331.87L533.50,331.87L534.50,331.88L535.50,331.89L536.50,331.89L537.50,331.90L538.50,331.90L539.50,331.91L540.50,331.92L541.50,331.92L542.50,331.93L543.50,331.93L544.50,331.94L545.50,331.95L546.50,331.95L547.50,331.96L548.50,331.96L549.50,331.97L550.50,331.97L551.50,331.98L552.50,331.99L553.50,331.99L554.50,332.00L555.50,332.00L556.50,332.01L557.50,332.01L558.50,332.02L559.50,332.03L560.50,332.03L561.50,332.04L562.50,332.04L563.50,332.05L564.50,332.05L565.50,332.06L566.50,332.07L567.50,332.07L568.50,332.08L569.50,332.08L570.50,332.09L571.50,332.09L572.50,332.10L573.50,332.10L574.50,332.11L575.50,332.12L576.50,332.12L577.50,332.13L578.50,332.13L579.50,332.14L580.50,332.14L581.50,332.15L582.50,332.15L583.50,332.16L584.50,332.16L585.50,332.17L586.50,332.17L587.50,332.18L588.50,332.19L589.50,332.19L590.50,332.20L591.50,332.20L592.50,332.21L593.50,332.21L594.50,332.22L595.50,332.22L596.50,332.23L597.50,332.23L598.50,332.24L599.50,332.24L600.50,332.25L601.50,332.25L602.50,332.26L603.50,332.26L604.50,332.27L605.50,332.27L606.50,332.28L607.50,332.28L608.50,332.29L609.50,332.29L610.50,332.30L611.50,332.30L612.50,332.31L613.50,332.31L614.50,332.32L615.50,332.32L616.50,332.33L617.50,332.33L618.50,332.34L619.50,332.34L620.50,332.35L621.50,332.35L622.50,332.36L623.50,332.36L624.50,332.37L625.50,332.37L626.50,332.38L627.50,332.38L628.50,332.39L629.50,332.39L630.50,332.40L631.50,332.40L632.50,332.41L633.50,332.41L634.50,332.42L635.50,332.42L636.50,332.43L637.50,332.43L638.50,332.43L639.50,332.44L640.50,332.44L641.50,332.45L642.50,332.45L643.50,332.46L644.50,332.46L645.50,332.47L646.50,332.47L647.50,332.48L648.50,332.48L649.50,332.48L650.50,332.49L651.50,332.49L652.50,332.50L653.50,332.50L654.50,332.51L655.50,332.51L656.50,332.52L657.50,332.52L658.50,332.52L659.50,332.53L660.50,332.53L661.50,332.54L662.50,332.54L663.50,332.55L664.50,332.55L665.50,332.55L666.50,332.56L667.50,332.56L668.50,332.57L669.50,332.57L670.50,332.58L671.50,332.58L672.50,332.58L673.50,332.59L674.50,332.59L675.50,332.60L676.50,332.60L677.50,332.61L678.50,332.61L679.50,332.61L680.50,332.62L681.50,332.62L682.50,332.63L683.50,332.63L684.50,332.63L685.50,332.64L686.50,332.64L687.50,332.65L688.50,332.65L689.50,332.65L690.50,332.66L691.50,332.66L692.50,332.67L693.50,332.67L694.50,332.67L695.50,332.68L696.50,332.68L697.50,332.68L698.50,332.69L699.50,332.69L700.50,332.70L701.50,332.70L702.50,332.70L703.50,332.71L704.50,332.71L705.50,332.71L706.50,332.72L707.50,332.72L708.50,332.73L709.50,332.73L710.50,332.73L711.50,332.74L712.50,332.74L713.50,332.74L714.50,332.75L715.50,332.75L716.50,332.75L717.50,332.76L718.50,332.76L719.50,332.77L720.50,332.77L721.50,332.77L722.50,332.78L723.50,332.78L724.50,332.78L725.50,332.79L726.50,332.79L727.50,332.79L728.50,332.80L729.50,332.80L730.50,332.80L731.50,332.81L732.50,332.81L733.50,332.81L734.50,332.82L735.50,332.82L736.50,332.82L737.50,332.83L738.50,332.83L739.50,332.83L740.50,332.84L741.50,332.84L742.50,332.84L743.50,332.85L744.50,332.85L745.50,332.85L746.50,332.85L747.50,332.86L748.50,332.86L749.50,332.86L750.50,332.87L751.50,332.87L752.50,332.87L753.50,332.88L754.50,332.88L755.50,332.88L756.50,332.89L757.50,332.89L758.50,332.89L759.50,332.89L760.50,332.90L761.50,332.90L762.50,332.90L763.50,332.91L764.50,332.91L765.50,332.91L766.50,332.91L767.50,332.92L768.50,332.92L769.50,332.92L770.50,332.93L771.50,332.93L772.50,332.93L773.50,332.93L774.50,332.94L775.50,332.94L776.50,332.94L777.50,332.94L778.50,332.95L779.50,332.95L780.50,332.95L781.50,332.96L782.50,332.96L783.50,332.96L784.50,332.96L785.50,332.97L786.50,332.97L787.50,332.97L788.50,332.97L789.50,332.98L790.50,332.98L791.50,332.98L792.50,332.98L793.50,332.99L794.50,332.99L795.50,332.99L796.50,332.99L797.50,333.00L798.50,333.00L799.50,333.00L800.50,333.00L801.50,333.01L802.50,333.01L803.50,333.01L804.50,333.01L805.50,333.01L806.50,333.02L807.50,333.02L808.50,333.02L809.50,333.02L810.50,333.03L811.50,333.03L812.50,333.03L813.50,333.03L814.50,333.03L815.50,333.04L816.50,333.04L817.50,333.04L818.50,333.04L819.50,333.05L820.50,333.05L821.50,333.05L822.50,333.05L823.50,333.05L824.50,333.06L825.50,333.06L826.50,333.06L827.50,333.06L828.50,333.06L829.50,333.07L830.50,333.07L831.50,333.07L832.50,333.07L833.50,333.07L834.50,333.08L835.50,333.08L836.50,333.08L837.50,333.08L838.50,333.08L839.50,333.08L840.50,333.09L841.50,333.09L842.50,333.09L843.50,333.09L844.50,333.09L845.50,333.09L846.50,333.10L847.50,333.10L848.50,333.10L849.50,333.10L850.50,333.10L851.50,333.11L852.50,333.11L853.50,333.11L854.50,333.11L855.50,333.11L856.50,333.11L857.50,333.11L858.50,333.12L859.50,333.12L860.50,333.12L861.50,333.12L862.50,333.12L863.50,333.12L864.50,333.13L865.50,333.13L866.50,333.13L867.50,333.13L868.50,333.13L869.50,333.13L870.50,333.13L871.50,333.13L872.50,333.14L873.50,333.14L874.50,333.14L875.50,333.14L876.50,333.14L877.50,333.14L878.50,333.14L879.50,333.15L880.50,333.15L881.50,333.15L882.50,333.15L883.50,333.15L884.50,333.15L885.50,333.15L886.50,333.15L887.50,333.15L888.50,333.16L889.50,333.16L890.50,333.16L891.50,333.16L892.50,333.16L893.50,333.16L894.50,333.16L895.50,333.16L896.50,333.16L897.50,333.17L898.50,333.17L899.50,333.17L900.50,333.17L901.50,333.17L902.50,333.17L903.50,333.17L904.50,333.17L905.50,333.17L906.50,333.17L907.50,333.17L908.50,333.18L909.50,333.18L910.50,333.18L911.50,333.18L912.50,333.18L913.50,333.18L914.50,333.18L915.50,333.18L916.50,333.18L917.50,333.18L918.50,333.18L919.50,333.18L920.50,333.18L921.50,333.18L922.50,333.19L923.50,333.19L924.50,333.19L925.50,333.19L926.50,333.19L927.50,333.19L928.50,333.19L929.50,333.19L930.50,333.19L931.50,333.19L932.50,333.19L933.50,333.19L934.50,333.19L935.50,333.19L936.50,333.19L937.50,333.19L938.50,333.19L939.50,333.19L940.50,333.19L941.50,333.19L942.50,333.20L943.50,333.20L944.50,333.20L945.50,333.20L946.50,333.20L947.50,333.20L948.50,333.20L949.50,333.20L950.50,333.20L951.50,333.20L952.50,333.20L953.50,333.20L954.50,333.20L955.50,333.20L956.50,333.20L957.50,333.20L958.50,333.20L959.50,333.20L960.50,333.20L961.50,333.20L962.50,333.20L963.50,333.20L964.50,333.20L965.50,333.20L966.50,333.20L967.50,333.20L968.50,333.20L969.50,333.20L970.50,333.20L971.50,333.20L972.50,333.20L973.50,333.20L974.50,333.20L975.50,333.20L976.50,333.20L977.50,333.20L978.50,333.20L979.50,333.20L980.50,333.20L981.50,333.20L982.50,333.20L983.50,333.20L984.50,333.20L985.50,333.20L986.50,333.20L987.50,333.20L988.50,333.20L989.50,333.20L990.50,333.20L991.00,333.19" stroke="#000000" stroke-width="5.1" stroke-linejoin="round" stroke-dasharray="4.3 5.67" stroke-dashoffset="0"/>
<path d="M122.50,78.10L122.70,78.10L122.90,78.10L123.10,78.10L123.30,78.10L123.50,78.10L123.70,78.10L123.90,78.10L124.10,78.10L124.30,78.10L124.50,78.10L124.70,78.10L124.90,78.10L125.10,78.10L125.30,78.10L125.50,78.10L125.70,78.10L125.90,78.10L126.10,78.10L126.30,78.10L126.50,78.10L126.70,78.10L126.90,78.10L127.10,78.10L127.30,78.10L127.50,78.10L127.70,78.10L127.90,78.10L128.10,78.10L128.30,78.10L128.50,78.10L128.70,78.10L128.90,78.10L129.10,78.11L129.30,78.11L129.50,78.11L129.70,78.11L129.90,78.11L130.10,78.11L130.30,78.11L130.50,78.11L130.70,78.11L130.90,78.11L131.10,78.11L131.30,78.11L131.50,78.11L131.70,78.11L131.90,78.11L132.10,78.11L132.30,78.11L132.50,78.11L132.70,78.11L132.90,78.11L133.10,78.11L133.30,78.11L133.50,78.11L133.70,78.11L133.90,78.11L134.10,78.11L134.30,78.11L134.50,78.11L134.70,78.11L134.90,78.11L135.10,78.11L135.30,78.11L135.50,78.11L135.70,78.11L135.90,78.11L136.10,78.11L136.30,78.11L136.50,78.11L136.70,78.11L136.90,78.11L137.10,78.11L137.30,78.11L137.50,78.12L137.70,78.12L137.90,78.12L138.10,78.12L138.30,78.12L138.50,78.12L138.70,78.12L138.90,78.12L139.10,78.12L139.30,78.12L139.50,78.12L139.70,78.12L139.90,78.12L140.10,78.12L140.30,78.12L140.50,78.12L140.70,78.12L140.90,78.12L141.10,78.12L141.30,78.12L141.50,78.12L141.70,78.12L141.90,78.12L142.10,78.12L142.30,78.12L142.50,78.12L142.70,78.12L142.90,78.12L143.10,78.12L143.30,78.12L143.50,78.12L143.70,78.12L143.90,78.12L144.10,78.13L144.30,78.13L144.50,78.13L144.70,78.13L144.90,78.13L145.10,78.13L145.30,78.13L145.50,78.13L145.70,78.13L145.90,78.13L146.10,78.13L146.30,78.13L146.50,78.13L146.70,78.13L146.90,78.13L147.10,78.13L147.30,78.13L147.50,78.13L148.50,78.13L149.50,78.14L150.50,78.14L151.50,78.14L152.50,78.14L153.50,78.14L154.50,78.15L155.50,78.15L156.50,78.15L157.50,78.15L158.50,78.15L159.50,78.16L160.50,78.16L161.50,78.16L162.50,78.16L163.50,78.17L164.50,78.17L165.50,78.17L166.50,78.18L167.50,78.18L168.50,78.18L169.50,78.18L170.50,78.19L171.50,78.19L172.50,78.19L173.50,78.20L174.50,78.20L175.50,78.20L176.50,78.21L177.50,78.21L178.50,78.21L179.50,78.22L180.50,78.22L181.50,78.22L182.50,78.23L183.50,78.23L184.50,78.23L185.50,78.24L186.50,78.24L187.50,78.25L188.50,78.25L189.50,78.25L190.50,78.26L191.50,78.26L192.50,78.27L193.50,78.27L194.50,78.28L195.50,78.28L196.50,78.28L197.50,78.29L198.50,78.29L199.50,78.30L200.50,78.30L201.50,78.31L202.50,78.31L203.50,78.32L204.50,78.32L205.50,78.33L206.50,78.33L207.50,78.34L208.50,78.34L209.50,78.35L210.50,78.35L211.50,78.36L212.50,78.36L213.50,78.37L214.50,78.37L215.50,78.38L216.50,78.39L217.50,78.39L218.50,78.40L219.50,78.40L220.50,78.41L221.50,78.42L222.50,78.42L223.50,78.43L224.50,78.43L225.50,78.44L226.50,78.45L227.50,78.45L228.50,78.46L229.50,78.47L230.50,78.47L231.50,78.48L232.50,78.49L233.50,78.49L234.50,78.50L235.50,78.51L236.50,78.51L237.50,78.52L238.50,78.53L239.50,78.53L240.50,78.54L241.50,78.55L242.50,78.56L243.50,78.56L244.50,78.57L245.50,78.58L246.50,78.59L247.50,78.59L248.50,78.60L249.50,78.61L250.50,78.62L251.50,78.63L252.50,78.63L253.50,78.64L254.50,78.65L255.50,78.66L256.50,78.67L257.50,78.67L258.50,78.68L259.50,78.69L260.50,78.70L261.50,78.71L262.50,78.72L263.50,78.73L264.50,78.74L265.50,78.74L266.50,78.75L267.50,78.76L268.50,78.77L269.50,78.78L270.50,78.79L271.50,78.80L272.50,78.81L273.50,78.82L274.50,78.83L275.50,78.84L276.50,78.85L277.50,78.86L278.50,78.87L279.50,78.88L280.50,78.89L281.50,78.90L282.50,78.91L283.50,78.92L284.50,78.93L285.50,78.94L286.50,78.95L287.50,78.96L288.50,78.97L289.50,78.98L290.50,78.99L291.50,79.00L292.50,79.02L293.50,79.03L294.50,79.04L295.50,79.05L296.50,79.06L297.50,79.07L298.50,79.08L299.50,79.09L300.50,79.11L301.50,79.12L302.50,79.13L303.50,79.14L304.50,79.15L305.50,79.17L306.50,79.18L307.50,79.19L308.50,79.20L309.50,79.22L310.50,79.23L311.50,79.24L312.50,79.25L313.50,79.27L314.50,79.28L315.50,79.29L316.50,79.30L317.50,79.32L318.50,79.33L319.50,79.34L320.50,79.36L321.50,79.37L322.50,79.38L323.50,79.40L324.50,79.41L325.50,79.42L326.50,79.44L327.50,79.45L328.50,79.47L329.50,79.48L330.50,79.49L331.50,79.51L332.50,79.52L333.50,79.54L334.50,79.55L335.50,79.57L336.50,79.58L337.50,79.60L338.50,79.61L339.50,79.63L340.50,79.64L341.50,79.66L342.50,79.67L343.50,79.69L344.50,79.70L345.50,79.72L346.50,79.73L347.50,79.75L348.50,79.76L349.50,79.78L350.50,79.80L351.50,79.81L352.50,79.83L353.50,79.84L354.50,79.86L355.50,79.88L356.50,79.89L357.50,79.91L358.50,79.93L359.50,79.94L360.50,79.96L361.50,79.98L362.50,79.99L363.50,80.01L364.50,80.03L365.50,80.05L366.50,80.06L367.50,80.08L368.50,80.10L369.50,80.12L370.50,80.13L371.50,80.15L372.50,80.17L373.50,80.19L374.50,80.21L375.50,80.22L376.50,80.24L377.50,80.26L378.50,80.28L379.50,80.30L380.50,80.32L381.50,80.33L382.50,80.35L383.50,80.37L384.50,80.39L385.50,80.41L386.50,80.43L387.50,80.45L388.50,80.47L389.50,80.49L390.50,80.51L391.50,80.53L392.50,80.55L393.50,80.57L394.50,80.59L395.50,80.61L396.50,80.63L397.50,80.65L398.50,80.67L399.50,80.69L400.50,80.71L401.50,80.73L402.50,80.75L403.50,80.77L404.50,80.79L405.50,80.82L406.50,80.84L407.50,80.86L408.50,80.88L409.50,80.90L410.50,80.92L411.50,80.95L412.50,80.97L413.50,80.99L414.50,81.01L415.50,81.03L416.50,81.06L417.50,81.08L418.50,81.10L419.50,81.12L420.50,81.15L421.50,81.17L422.50,81.19L423.50,81.21L424.50,81.24L425.50,81.26L426.50,81.28L427.50,81.31L428.50,81.33L429.50,81.36L430.50,81.38L431.50,81.40L432.50,81.43L433.50,81.45L434.50,81.48L435.50,81.50L436.50,81.52L437.50,81.55L438.50,81.57L439.50,81.60L440.50,81.62L441.50,81.65L442.50,81.67L443.50,81.70L444.50,81.72L445.50,81.75L446.50,81.77L447.50,81.80L448.50,81.83L449.50,81.85L450.50,81.88L451.50,81.90L452.50,81.93L453.50,81.96L454.50,81.98L455.50,82.01L456.50,82.04L457.50,82.06L458.50,82.09L459.50,82.12L460.50,82.14L461.50,82.17L462.50,82.20L463.50,82.23L464.50,82.25L465.50,82.28L466.50,82.31L467.50,82.34L468.50,82.37L469.50,82.39L470.50,82.42L471.50,82.45L472.50,82.48L473.50,82.51L474.50,82.54L475.50,82.57L476.50,82.60L477.50,82.63L478.50,82.65L479.50,82.68L480.50,82.71L481.50,82.74L482.50,82.77L483.50,82.80L484.50,82.83L485.50,82.86L486.50,82.89L487.50,82.93L488.50,82.96L489.50,82.99L490.50,83.02L491.50,83.05L492.50,83.08L493.50,83.11L494.50,83.14L495.50,83.17L496.50,83.21L497.50,83.24L498.50,83.27L499.50,83.30L500.50,83.33L501.50,83.37L502.50,83.40L503.50,83.43L504.50,83.46L505.50,83.50L506.50,83.53L507.50,83.56L508.50,83.60L509.50,83.63L510.50,83.66L511.50,83.70L512.50,83.73L513.50,83.77L514.50,83.80L515.50,83.84L516.50,83.87L517.50,83.90L518.50,83.94L519.50,83.97L520.50,84.01L521.50,84.04L522.50,84.08L523.50,84.12L524.50,84.15L525.50,84.19L526.50,84.22L527.50,84.26L528.50,84.30L529.50,84.33L530.50,84.37L531.50,84.40L532.50,84.44L533.50,84.48L534.50,84.52L535.50,84.55L536.50,84.59L537.50,84.63L538.50,84.67L539.50,84.70L540.50,84.74L541.50,84.78L542.50,84.82L543.50,84.86L544.50,84.90L545.50,84.93L546.50,84.97L547.50,85.01L548.50,85.05L549.50,85.09L550.50,85.13L551.50,85.17L552.50,85.21L553.50,85.25L554.50,85.29L555.50,85.33L556.50,85.37L557.50,85.41L558.50,85.45L559.50,85.49L560.50,85.53L561.50,85.58L562.50,85.62L563.50,85.66L564.50,85.70L565.50,85.74L566.50,85.78L567.50,85.83L568.50,85.87L569.50,85.91L570.50,85.95L571.50,86.00L572.50,86.04L573.50,86.08L574.50,86.13L575.50,86.17L576.50,86.21L577.50,86.26L578.50,86.30L579.50,86.35L580.50,86.39L581.50,86.44L582.50,86.48L583.50,86.53L584.50,86.57L585.50,86.62L586.50,86.66L587.50,86.71L588.50,86.75L589.50,86.80L590.50,86.85L591.50,86.89L592.50,86.94L593.50,86.98L594.50,87.03L595.50,87.08L596.50,87.13L597.50,87.17L598.50,87.22L599.50,87.27L600.50,87.32L601.50,87.36L602.50,87.41L603.50,87.46L604.50,87.51L605.50,87.56L606.50,87.61L607.50,87.66L608.50,87.71L609.50,87.75L610.50,87.80L611.50,87.85L612.50,87.90L613.50,87.95L614.50,88.00L615.50,88.06L616.50,88.11L617.50,88.16L618.50,88.21L619.50,88.26L620.50,88.31L621.50,88.36L622.50,88.41L623.50,88.47L624.50,88.52L625.50,88.57L626.50,88.62L627.50,88.68L628.50,88.73L629.50,88.78L630.50,88.84L631.50,88.89L632.50,88.94L633.50,89.00L634.50,89.05L635.50,89.11L636.50,89.16L637.50,89.21L638.50,89.27L639.50,89.32L640.50,89.38L641.50,89.43L642.50,89.49L643.50,89.55L644.50,89.60L645.50,89.66L646.50,89.71L647.50,89.77L648.50,89.83L649.50,89.89L650.50,89.94L651.50,90.00L652.50,90.06L653.50,90.12L654.50,90.17L655.50,90.23L656.50,90.29L657.50,90.35L658.50,90.41L659.50,90.47L660.50,90.53L661.50,90.59L662.50,90.66L663.50,90.72L664.50,90.78L665.50,90.84L666.50,90.91L667.50,90.97L668.50,91.04L669.50,91.10L670.50,91.17L671.50,91.23L672.50,91.30L673.50,91.37L674.50,91.43L675.50,91.50L676.50,91.57L677.50,91.64L678.50,91.71L679.50,91.78L680.50,91.85L681.50,91.92L682.50,92.00L683.50,92.07L684.50,92.15L685.50,92.22L686.50,92.30L687.50,92.37L688.50,92.45L689.50,92.53L690.50,92.61L691.50,92.69L692.50,92.77L693.50,92.85L694.50,92.93L695.50,93.02L696.50,93.10L697.50,93.18L698.50,93.27L699.50,93.36L700.50,93.45L701.50,93.53L702.50,93.62L703.50,93.71L704.50,93.81L705.50,93.90L706.50,93.99L707.50,94.09L708.50,94.18L709.50,94.28L710.50,94.38L711.50,94.48L712.50,94.58L713.50,94.68L714.50,94.78L715.50,94.89L716.50,94.99L717.50,95.10L718.50,95.20L719.50,95.31L720.50,95.42L721.50,95.53L722.50,95.64L723.50,95.76L724.50,95.87L725.50,95.99L726.50,96.10L727.50,96.22L728.50,96.34L729.50,96.46L730.50,96.59L731.50,96.71L732.50,96.84L733.50,96.96L734.50,97.09L735.50,97.22L736.50,97.35L737.50,97.48L738.50,97.62L739.50,97.75L740.50,97.89L741.50,98.03L742.50,98.17L743.50,98.31L744.50,98.45L745.50,98.59L746.50,98.74L747.50,98.89L748.50,99.04L749.50,99.19L750.50,99.34L751.50,99.49L752.50,99.65L753.50,99.81L754.50,99.97L755.50,100.13L756.50,100.29L757.50,100.45L758.50,100.62L759.50,100.79L760.50,100.96L761.50,101.13L762.50,101.30L763.50,101.48L764.50,101.65L765.50,101.83L766.50,102.01L767.50,102.19L768.50,102.38L769.50,102.56L770.50,102.75L771.50,102.94L772.50,103.13L773.50,103.33L774.50,103.52L775.50,103.72L776.50,103.92L777.50,104.12L778.50,104.32L779.50,104.53L780.50,104.74L781.50,104.94L782.50,105.16L783.50,105.37L784.50,105.58L785.50,105.80L786.50,106.02L787.50,106.24L788.50,106.47L789.50,106.69L790.50,106.92L791.50,107.15L792.50,107.38L793.50,107.62L794.50,107.85L795.50,108.09L796.50,108.33L797.50,108.57L798.50,108.82L799.50,109.06L800.50,109.31L801.50,109.56L802.50,109.82L803.50,110.07L804.50,110.33L805.50,110.59L806.50,110.85L807.50,111.11L808.50,111.38L809.50,111.64L810.50,111.92L811.50,112.19L812.50,112.46L813.50,112.74L814.50,113.02L815.50,113.30L816.50,113.58L817.50,113.87L818.50,114.15L819.50,114.44L820.50,114.74L821.50,115.03L822.50,115.33L823.50,115.63L824.50,115.93L825.50,116.23L826.50,116.54L827.50,116.84L828.50,117.15L829.50,117.47L830.50,117.78L831.50,118.10L832.50,118.42L833.50,118.74L834.50,119.06L835.50,119.39L836.50,119.72L837.50,120.05L838.50,120.38L839.50,120.72L840.50,121.06L841.50,121.40L842.50,121.74L843.50,122.08L844.50,122.43L845.50,122.78L846.50,123.13L847.50,123.49L848.50,123.84L849.50,124.20L850.50,124.57L851.50,124.93L852.50,125.30L853.50,125.67L854.50,126.04L855.50,126.41L856.50,126.79L857.50,127.17L858.50,127.55L859.50,127.93L860.50,128.32L861.50,128.70L862.50,129.10L863.50,129.49L864.50,129.89L865.50,130.29L866.50,130.69L867.50,131.10L868.50,131.51L869.50,131.93L870.50,132.35L871.50,132.78L872.50,133.21L873.50,133.65L874.50,134.10L875.50,134.55L876.50,135.01L877.50,135.48L878.50,135.95L879.50,136.44L880.50,136.93L881.50,137.43L882.50,137.95L883.50,138.47L884.50,139.00L885.50,139.54L886.50,140.10L887.50,140.66L888.50,141.24L889.50,141.83L890.50,142.43L891.50,143.04L892.50,143.67L893.50,144.31L894.50,144.96L895.50,145.63L896.50,146.31L897.50,147.01L898.50,147.72L899.50,148.45L900.50,149.19L901.50,149.95L902.50,150.73L903.50,151.52L904.50,152.33L905.50,153.16L906.50,154.01L907.50,154.88L908.50,155.76L909.50,156.66L910.50,157.59L911.50,158.53L912.50,159.49L913.50,160.48L914.50,161.48L915.50,162.51L916.50,163.56L917.50,164.62L918.50,165.71L919.50,166.82L920.50,167.95L921.50,169.10L922.50,170.27L923.50,171.46L924.50,172.66L925.50,173.89L926.50,175.14L927.50,176.40L928.50,177.68L929.50,178.98L930.50,180.30L931.50,181.63L932.50,182.99L933.50,184.36L934.50,185.74L935.50,187.15L936.50,188.57L937.50,190.00L938.50,191.46L939.50,192.93L940.50,194.41L941.50,195.91L942.50,197.43L943.50,198.97L944.50,200.53L945.50,202.12L946.50,203.73L947.50,205.38L948.50,207.06L949.50,208.77L950.50,210.52L951.50,212.32L952.50,214.15L953.50,216.03L954.50,217.96L955.50,219.94L956.50,221.98L957.50,224.06L958.50,226.21L959.50,228.41L960.50,230.65L961.50,232.94L962.50,235.25L963.50,237.60L964.50,239.96L965.50,242.34L966.50,244.72L967.50,247.10L968.50,249.47L969.50,251.83L970.50,254.16L971.50,256.47L972.50,258.75L973.50,261.01L974.50,263.26L975.50,265.51L976.50,267.76L977.50,270.03L978.50,272.31L979.50,274.63L980.50,276.97L981.50,279.36L982.50,281.80L983.50,284.29L984.50,286.83L985.50,289.40L986.50,292.00L987.50,294.61L988.50,297.24L989.50,299.86L990.50,302.48L991.50,305.08L992.50,307.65L992.60,307.91" stroke="#D95319" stroke-width="5.0" stroke-linejoin="round" clip-path="url(#clipsa)"/>
<path d="M122.50,150.10L122.70,150.10L122.90,150.10L123.10,150.10L123.30,150.11L123.50,150.11L123.70,150.11L123.90,150.11L124.10,150.11L124.30,150.12L124.50,150.12L124.70,150.12L124.90,150.12L125.10,150.12L125.30,150.12L125.50,150.13L125.70,150.13L125.90,150.13L126.10,150.13L126.30,150.13L126.50,150.14L126.70,150.14L126.90,150.14L127.10,150.14L127.30,150.14L127.50,150.14L127.70,150.15L127.90,150.15L128.10,150.15L128.30,150.15L128.50,150.15L128.70,150.15L128.90,150.16L129.10,150.16L129.30,150.16L129.50,150.16L129.70,150.16L129.90,150.16L130.10,150.17L130.30,150.17L130.50,150.17L130.70,150.17L130.90,150.17L131.10,150.17L131.30,150.18L131.50,150.18L131.70,150.18L131.90,150.18L132.10,150.18L132.30,150.18L132.50,150.19L132.70,150.19L132.90,150.19L133.10,150.19L133.30,150.19L133.50,150.19L133.70,150.20L133.90,150.20L134.10,150.20L134.30,150.20L134.50,150.20L134.70,150.20L134.90,150.21L135.10,150.21L135.30,150.21L135.50,150.21L135.70,150.21L135.90,150.21L136.10,150.22L136.30,150.22L136.50,150.22L136.70,150.22L136.90,150.22L137.10,150.22L137.30,150.23L137.50,150.23L137.70,150.23L137.90,150.23L138.10,150.23L138.30,150.23L138.50,150.23L138.70,150.24L138.90,150.24L139.10,150.24L139.30,150.24L139.50,150.24L139.70,150.24L139.90,150.25L140.10,150.25L140.30,150.25L140.50,150.25L140.70,150.25L140.90,150.25L141.10,150.25L141.30,150.26L141.50,150.26L141.70,150.26L141.90,150.26L142.10,150.26L142.30,150.26L142.50,150.26L142.70,150.27L142.90,150.27L143.10,150.27L143.30,150.27L143.50,150.27L143.70,150.27L143.90,150.27L144.10,150.28L144.30,150.28L144.50,150.28L144.70,150.28L144.90,150.28L145.10,150.28L145.30,150.29L145.50,150.29L145.70,150.29L145.90,150.29L146.10,150.29L146.30,150.29L146.50,150.29L146.70,150.29L146.90,150.30L147.10,150.30L147.30,150.30L147.50,150.30L148.50,150.31L149.50,150.31L150.50,150.32L151.50,150.33L152.50,150.33L153.50,150.34L154.50,150.35L155.50,150.35L156.50,150.36L157.50,150.37L158.50,150.37L159.50,150.38L160.50,150.38L161.50,150.39L162.50,150.40L163.50,150.40L164.50,150.41L165.50,150.41L166.50,150.42L167.50,150.43L168.50,150.43L169.50,150.44L170.50,150.44L171.50,150.45L172.50,150.45L173.50,150.46L174.50,150.46L175.50,150.47L176.50,150.47L177.50,150.48L178.50,150.48L179.50,150.49L180.50,150.49L181.50,150.50L182.50,150.50L183.50,150.51L184.50,150.51L185.50,150.52L186.50,150.52L187.50,150.52L188.50,150.53L189.50,150.53L190.50,150.54L191.50,150.54L192.50,150.55L193.50,150.55L194.50,150.55L195.50,150.56L196.50,150.56L197.50,150.57L198.50,150.57L199.50,150.57L200.50,150.58L201.50,150.58L202.50,150.59L203.50,150.59L204.50,150.59L205.50,150.60L206.50,150.60L207.50,150.60L208.50,150.61L209.50,150.61L210.50,150.61L211.50,150.62L212.50,150.62L213.50,150.62L214.50,150.63L215.50,150.63L216.50,150.63L217.50,150.64L218.50,150.64L219.50,150.64L220.50,150.65L221.50,150.65L222.50,150.65L223.50,150.66L224.50,150.66L225.50,150.66L226.50,150.67L227.50,150.67L228.50,150.67L229.50,150.68L230.50,150.68L231.50,150.68L232.50,150.68L233.50,150.69L234.50,150.69L235.50,150.69L236.50,150.70L237.50,150.70L238.50,150.70L239.50,150.70L240.50,150.71L241.50,150.71L242.50,150.71L243.50,150.72L244.50,150.72L245.50,150.72L246.50,150.72L247.50,150.73L248.50,150.73L249.50,150.73L250.50,150.74L251.50,150.74L252.50,150.74L253.50,150.74L254.50,150.75L255.50,150.75L256.50,150.75L257.50,150.76L258.50,150.76L259.50,150.76L260.50,150.76L261.50,150.77L262.50,150.77L263.50,150.77L264.50,150.78L265.50,150.78L266.50,150.78L267.50,150.78L268.50,150.79L269.50,150.79L270.50,150.79L271.50,150.80L272.50,150.80L273.50,150.80L274.50,150.80L275.50,150.81L276.50,150.81L277.50,150.81L278.50,150.82L279.50,150.82L280.50,150.82L281.50,150.83L282.50,150.83L283.50,150.83L284.50,150.83L285.50,150.84L286.50,150.84L287.50,150.84L288.50,150.85L289.50,150.85L290.50,150.85L291.50,150.86L292.50,150.86L293.50,150.86L294.50,150.87L295.50,150.87L296.50,150.87L297.50,150.88L298.50,150.88L299.50,150.89L300.50,150.89L301.50,150.89L302.50,150.90L303.50,150.90L304.50,150.90L305.50,150.91L306.50,150.91L307.50,150.92L308.50,150.92L309.50,150.92L310.50,150.93L311.50,150.93L312.50,150.94L313.50,150.94L314.50,150.94L315.50,150.95L316.50,150.95L317.50,150.96L318.50,150.96L319.50,150.96L320.50,150.97L321.50,150.97L322.50,150.98L323.50,150.98L324.50,150.99L325.50,150.99L326.50,151.00L327.50,151.00L328.50,151.01L329.50,151.01L330.50,151.02L331.50,151.02L332.50,151.03L333.50,151.03L334.50,151.04L335.50,151.04L336.50,151.05L337.50,151.05L338.50,151.06L339.50,151.06L340.50,151.07L341.50,151.08L342.50,151.08L343.50,151.09L344.50,151.09L345.50,151.10L346.50,151.11L347.50,151.11L348.50,151.12L349.50,151.12L350.50,151.13L351.50,151.14L352.50,151.14L353.50,151.15L354.50,151.16L355.50,151.16L356.50,151.17L357.50,151.18L358.50,151.18L359.50,151.19L360.50,151.20L361.50,151.20L362.50,151.21L363.50,151.22L364.50,151.23L365.50,151.23L366.50,151.24L367.50,151.25L368.50,151.26L369.50,151.26L370.50,151.27L371.50,151.28L372.50,151.29L373.50,151.30L374.50,151.30L375.50,151.31L376.50,151.32L377.50,151.33L378.50,151.34L379.50,151.35L380.50,151.36L381.50,151.37L382.50,151.37L383.50,151.38L384.50,151.39L385.50,151.40L386.50,151.41L387.50,151.42L388.50,151.43L389.50,151.44L390.50,151.45L391.50,151.46L392.50,151.47L393.50,151.48L394.50,151.49L395.50,151.50L396.50,151.51L397.50,151.52L398.50,151.53L399.50,151.54L400.50,151.55L401.50,151.56L402.50,151.58L403.50,151.59L404.50,151.60L405.50,151.61L406.50,151.62L407.50,151.63L408.50,151.64L409.50,151.66L410.50,151.67L411.50,151.68L412.50,151.69L413.50,151.70L414.50,151.72L415.50,151.73L416.50,151.74L417.50,151.76L418.50,151.77L419.50,151.78L420.50,151.79L421.50,151.81L422.50,151.82L423.50,151.84L424.50,151.85L425.50,151.86L426.50,151.88L427.50,151.89L428.50,151.91L429.50,151.92L430.50,151.93L431.50,151.95L432.50,151.96L433.50,151.98L434.50,151.99L435.50,152.01L436.50,152.02L437.50,152.04L438.50,152.05L439.50,152.07L440.50,152.09L441.50,152.10L442.50,152.12L443.50,152.13L444.50,152.15L445.50,152.17L446.50,152.18L447.50,152.20L448.50,152.22L449.50,152.23L450.50,152.25L451.50,152.27L452.50,152.28L453.50,152.30L454.50,152.32L455.50,152.34L456.50,152.35L457.50,152.37L458.50,152.39L459.50,152.41L460.50,152.43L461.50,152.45L462.50,152.46L463.50,152.48L464.50,152.50L465.50,152.52L466.50,152.54L467.50,152.56L468.50,152.58L469.50,152.60L470.50,152.62L471.50,152.63L472.50,152.65L473.50,152.67L474.50,152.69L475.50,152.71L476.50,152.73L477.50,152.75L478.50,152.77L479.50,152.79L480.50,152.82L481.50,152.84L482.50,152.86L483.50,152.88L484.50,152.90L485.50,152.92L486.50,152.94L487.50,152.96L488.50,152.98L489.50,153.00L490.50,153.03L491.50,153.05L492.50,153.07L493.50,153.09L494.50,153.11L495.50,153.14L496.50,153.16L497.50,153.18L498.50,153.20L499.50,153.23L500.50,153.25L501.50,153.27L502.50,153.29L503.50,153.32L504.50,153.34L505.50,153.36L506.50,153.39L507.50,153.41L508.50,153.43L509.50,153.46L510.50,153.48L511.50,153.50L512.50,153.53L513.50,153.55L514.50,153.58L515.50,153.60L516.50,153.63L517.50,153.65L518.50,153.67L519.50,153.70L520.50,153.72L521.50,153.75L522.50,153.77L523.50,153.80L524.50,153.82L525.50,153.85L526.50,153.87L527.50,153.90L528.50,153.92L529.50,153.95L530.50,153.98L531.50,154.00L532.50,154.03L533.50,154.05L534.50,154.08L535.50,154.11L536.50,154.13L537.50,154.16L538.50,154.19L539.50,154.21L540.50,154.24L541.50,154.26L542.50,154.29L543.50,154.32L544.50,154.35L545.50,154.37L546.50,154.40L547.50,154.43L548.50,154.45L549.50,154.48L550.50,154.51L551.50,154.54L552.50,154.56L553.50,154.59L554.50,154.62L555.50,154.65L556.50,154.68L557.50,154.70L558.50,154.73L559.50,154.76L560.50,154.79L561.50,154.82L562.50,154.85L563.50,154.87L564.50,154.90L565.50,154.93L566.50,154.96L567.50,154.99L568.50,155.02L569.50,155.05L570.50,155.08L571.50,155.11L572.50,155.14L573.50,155.17L574.50,155.20L575.50,155.23L576.50,155.25L577.50,155.28L578.50,155.31L579.50,155.34L580.50,155.37L581.50,155.40L582.50,155.43L583.50,155.46L584.50,155.50L585.50,155.53L586.50,155.56L587.50,155.59L588.50,155.62L589.50,155.65L590.50,155.68L591.50,155.71L592.50,155.74L593.50,155.77L594.50,155.80L595.50,155.83L596.50,155.87L597.50,155.90L598.50,155.93L599.50,155.96L600.50,155.99L601.50,156.02L602.50,156.05L603.50,156.09L604.50,156.12L605.50,156.15L606.50,156.18L607.50,156.21L608.50,156.25L609.50,156.28L610.50,156.31L611.50,156.34L612.50,156.37L613.50,156.41L614.50,156.44L615.50,156.47L616.50,156.50L617.50,156.54L618.50,156.57L619.50,156.60L620.50,156.64L621.50,156.67L622.50,156.70L623.50,156.73L624.50,156.77L625.50,156.80L626.50,156.83L627.50,156.87L628.50,156.90L629.50,156.93L630.50,156.97L631.50,157.00L632.50,157.04L633.50,157.07L634.50,157.10L635.50,157.14L636.50,157.17L637.50,157.20L638.50,157.24L639.50,157.27L640.50,157.31L641.50,157.34L642.50,157.37L643.50,157.41L644.50,157.44L645.50,157.48L646.50,157.51L647.50,157.55L648.50,157.58L649.50,157.62L650.50,157.65L651.50,157.69L652.50,157.72L653.50,157.76L654.50,157.79L655.50,157.83L656.50,157.86L657.50,157.90L658.50,157.94L659.50,157.97L660.50,158.01L661.50,158.04L662.50,158.08L663.50,158.12L664.50,158.16L665.50,158.19L666.50,158.23L667.50,158.27L668.50,158.31L669.50,158.35L670.50,158.39L671.50,158.43L672.50,158.47L673.50,158.51L674.50,158.55L675.50,158.59L676.50,158.63L677.50,158.67L678.50,158.71L679.50,158.76L680.50,158.80L681.50,158.84L682.50,158.89L683.50,158.93L684.50,158.98L685.50,159.02L686.50,159.07L687.50,159.11L688.50,159.16L689.50,159.21L690.50,159.26L691.50,159.30L692.50,159.35L693.50,159.40L694.50,159.45L695.50,159.50L696.50,159.55L697.50,159.61L698.50,159.66L699.50,159.71L700.50,159.76L701.50,159.82L702.50,159.87L703.50,159.93L704.50,159.99L705.50,160.04L706.50,160.10L707.50,160.16L708.50,160.22L709.50,160.28L710.50,160.34L711.50,160.40L712.50,160.46L713.50,160.52L714.50,160.59L715.50,160.65L716.50,160.72L717.50,160.78L718.50,160.85L719.50,160.91L720.50,160.98L721.50,161.05L722.50,161.12L723.50,161.19L724.50,161.26L725.50,161.34L726.50,161.41L727.50,161.48L728.50,161.56L729.50,161.64L730.50,161.71L731.50,161.79L732.50,161.87L733.50,161.95L734.50,162.03L735.50,162.11L736.50,162.19L737.50,162.28L738.50,162.36L739.50,162.45L740.50,162.54L741.50,162.62L742.50,162.71L743.50,162.80L744.50,162.89L745.50,162.99L746.50,163.08L747.50,163.17L748.50,163.27L749.50,163.37L750.50,163.46L751.50,163.56L752.50,163.66L753.50,163.76L754.50,163.87L755.50,163.97L756.50,164.07L757.50,164.18L758.50,164.29L759.50,164.40L760.50,164.51L761.50,164.62L762.50,164.73L763.50,164.84L764.50,164.96L765.50,165.07L766.50,165.19L767.50,165.31L768.50,165.43L769.50,165.55L770.50,165.67L771.50,165.80L772.50,165.92L773.50,166.05L774.50,166.18L775.50,166.31L776.50,166.44L777.50,166.57L778.50,166.70L779.50,166.84L780.50,166.97L781.50,167.11L782.50,167.25L783.50,167.39L784.50,167.53L785.50,167.68L786.50,167.82L787.50,167.97L788.50,168.12L789.50,168.26L790.50,168.41L791.50,168.57L792.50,168.72L793.50,168.87L794.50,169.03L795.50,169.19L796.50,169.35L797.50,169.51L798.50,169.67L799.50,169.83L800.50,170.00L801.50,170.16L802.50,170.33L803.50,170.50L804.50,170.67L805.50,170.84L806.50,171.01L807.50,171.19L808.50,171.36L809.50,171.54L810.50,171.72L811.50,171.90L812.50,172.08L813.50,172.27L814.50,172.45L815.50,172.64L816.50,172.82L817.50,173.01L818.50,173.20L819.50,173.40L820.50,173.59L821.50,173.78L822.50,173.98L823.50,174.18L824.50,174.38L825.50,174.58L826.50,174.78L827.50,174.98L828.50,175.19L829.50,175.40L830.50,175.60L831.50,175.81L832.50,176.03L833.50,176.24L834.50,176.45L835.50,176.67L836.50,176.88L837.50,177.10L838.50,177.32L839.50,177.54L840.50,177.77L841.50,177.99L842.50,178.22L843.50,178.44L844.50,178.67L845.50,178.90L846.50,179.14L847.50,179.37L848.50,179.60L849.50,179.84L850.50,180.08L851.50,180.32L852.50,180.56L853.50,180.80L854.50,181.04L855.50,181.29L856.50,181.54L857.50,181.78L858.50,182.03L859.50,182.29L860.50,182.54L861.50,182.79L862.50,183.05L863.50,183.31L864.50,183.57L865.50,183.83L866.50,184.09L867.50,184.36L868.50,184.63L869.50,184.91L870.50,185.19L871.50,185.47L872.50,185.75L873.50,186.04L874.50,186.34L875.50,186.64L876.50,186.94L877.50,187.25L878.50,187.56L879.50,187.89L880.50,188.21L881.50,188.55L882.50,188.88L883.50,189.23L884.50,189.58L885.50,189.94L886.50,190.31L887.50,190.69L888.50,191.07L889.50,191.46L890.50,191.86L891.50,192.27L892.50,192.69L893.50,193.12L894.50,193.55L895.50,194.00L896.50,194.46L897.50,194.92L898.50,195.40L899.50,195.89L900.50,196.38L901.50,196.89L902.50,197.41L903.50,197.95L904.50,198.49L905.50,199.05L906.50,199.62L907.50,200.20L908.50,200.79L909.50,201.40L910.50,202.02L911.50,202.65L912.50,203.30L913.50,203.96L914.50,204.64L915.50,205.33L916.50,206.03L917.50,206.76L918.50,207.49L919.50,208.24L920.50,209.01L921.50,209.80L922.50,210.60L923.50,211.42L924.50,212.26L925.50,213.12L926.50,213.99L927.50,214.88L928.50,215.80L929.50,216.73L930.50,217.68L931.50,218.65L932.50,219.64L933.50,220.65L934.50,221.69L935.50,222.74L936.50,223.82L937.50,224.92L938.50,226.04L939.50,227.18L940.50,228.35L941.50,229.54L942.50,230.75L943.50,231.99L944.50,233.25L945.50,234.53L946.50,235.83L947.50,237.16L948.50,238.52L949.50,239.89L950.50,241.30L951.50,242.72L952.50,244.17L953.50,245.64L954.50,247.14L955.50,248.66L956.50,250.20L957.50,251.77L958.50,253.36L959.50,254.98L960.50,256.63L961.50,258.29L962.50,259.99L963.50,261.71L964.50,263.46L965.50,265.23L966.50,267.03L967.50,268.86L968.50,270.72L969.50,272.60L970.50,274.51L971.50,276.45L972.50,278.41L973.50,280.38L974.50,282.37L975.50,284.36L976.50,286.35L977.50,288.33L978.50,290.31L979.50,292.27L980.50,294.22L981.50,296.14L982.50,298.04L983.50,299.93L984.50,301.82L985.50,303.71L986.50,305.62L987.50,307.56L988.50,309.54L989.50,311.57L990.50,313.65L991.50,315.80" stroke="#7E2F8E" stroke-width="5.0" stroke-linejoin="round" clip-path="url(#clipsa)"/>
<path d="M122.50,78.10L122.70,78.10L122.90,78.10L123.10,78.10L123.30,78.10L123.50,78.10L123.70,78.10L123.90,78.10L124.10,78.10L124.30,78.10L124.50,78.10L124.70,78.10L124.90,78.10L125.10,78.10L125.30,78.10L125.50,78.10L125.70,78.11L125.90,78.11L126.10,78.11L126.30,78.11L126.50,78.11L126.70,78.11L126.90,78.11L127.10,78.11L127.30,78.11L127.50,78.11L127.70,78.11L127.90,78.11L128.10,78.11L128.30,78.11L128.50,78.11L128.70,78.11L128.90,78.11L129.10,78.11L129.30,78.11L129.50,78.11L129.70,78.11L129.90,78.11L130.10,78.11L130.30,78.11L130.50,78.11L130.70,78.11L130.90,78.11L131.10,78.11L131.30,78.11L131.50,78.12L131.70,78.12L131.90,78.12L132.10,78.12L132.30,78.12L132.50,78.12L132.70,78.12L132.90,78.12L133.10,78.12L133.30,78.12L133.50,78.12L133.70,78.12L133.90,78.12L134.10,78.12L134.30,78.12L134.50,78.12L134.70,78.12L134.90,78.12L135.10,78.12L135.30,78.12L135.50,78.12L135.70,78.12L135.90,78.12L136.10,78.12L136.30,78.12L136.50,78.12L136.70,78.12L136.90,78.12L137.10,78.12L137.30,78.12L137.50,78.13L137.70,78.13L137.90,78.13L138.10,78.13L138.30,78.13L138.50,78.13L138.70,78.13L138.90,78.13L139.10,78.13L139.30,78.13L139.50,78.13L139.70,78.13L139.90,78.13L140.10,78.13L140.30,78.13L140.50,78.13L140.70,78.13L140.90,78.13L141.10,78.13L141.30,78.13L141.50,78.13L141.70,78.13L141.90,78.13L142.10,78.13L142.30,78.13L142.50,78.13L142.70,78.13L142.90,78.13L143.10,78.13L143.30,78.13L143.50,78.14L143.70,78.14L143.90,78.14L144.10,78.14L144.30,78.14L144.50,78.14L144.70,78.14L144.90,78.14L145.10,78.14L145.30,78.14L145.50,78.14L145.70,78.14L145.90,78.14L146.10,78.14L146.30,78.14L146.50,78.14L146.70,78.14L146.90,78.14L147.10,78.14L147.30,78.14L147.50,78.14L148.50,78.14L149.50,78.15L150.50,78.15L151.50,78.15L152.50,78.15L153.50,78.15L154.50,78.15L155.50,78.16L156.50,78.16L157.50,78.16L158.50,78.16L159.50,78.16L160.50,78.16L161.50,78.17L162.50,78.17L163.50,78.17L164.50,78.17L165.50,78.17L166.50,78.17L167.50,78.18L168.50,78.18L169.50,78.18L170.50,78.18L171.50,78.18L172.50,78.19L173.50,78.19L174.50,78.19L175.50,78.19L176.50,78.19L177.50,78.20L178.50,78.20L179.50,78.20L180.50,78.20L181.50,78.20L182.50,78.20L183.50,78.21L184.50,78.21L185.50,78.21L186.50,78.21L187.50,78.21L188.50,78.22L189.50,78.22L190.50,78.22L191.50,78.22L192.50,78.23L193.50,78.23L194.50,78.23L195.50,78.23L196.50,78.23L197.50,78.24L198.50,78.24L199.50,78.24L200.50,78.24L201.50,78.25L202.50,78.25L203.50,78.25L204.50,78.25L205.50,78.25L206.50,78.26L207.50,78.26L208.50,78.26L209.50,78.26L210.50,78.27L211.50,78.27L212.50,78.27L213.50,78.27L214.50,78.28L215.50,78.28L216.50,78.28L217.50,78.29L218.50,78.29L219.50,78.29L220.50,78.29L221.50,78.30L222.50,78.30L223.50,78.30L224.50,78.30L225.50,78.31L226.50,78.31L227.50,78.31L228.50,78.32L229.50,78.32L230.50,78.32L231.50,78.33L232.50,78.33L233.50,78.33L234.50,78.33L235.50,78.34L236.50,78.34L237.50,78.34L238.50,78.35L239.50,78.35L240.50,78.35L241.50,78.36L242.50,78.36L243.50,78.37L244.50,78.37L245.50,78.37L246.50,78.38L247.50,78.38L248.50,78.38L249.50,78.39L250.50,78.39L251.50,78.39L252.50,78.40L253.50,78.40L254.50,78.41L255.50,78.41L256.50,78.41L257.50,78.42L258.50,78.42L259.50,78.43L260.50,78.43L261.50,78.43L262.50,78.44L263.50,78.44L264.50,78.45L265.50,78.45L266.50,78.46L267.50,78.46L268.50,78.46L269.50,78.47L270.50,78.47L271.50,78.48L272.50,78.48L273.50,78.49L274.50,78.49L275.50,78.50L276.50,78.50L277.50,78.51L278.50,78.51L279.50,78.52L280.50,78.52L281.50,78.53L282.50,78.53L283.50,78.54L284.50,78.54L285.50,78.55L286.50,78.55L287.50,78.56L288.50,78.56L289.50,78.57L290.50,78.57L291.50,78.58L292.50,78.59L293.50,78.59L294.50,78.60L295.50,78.60L296.50,78.61L297.50,78.62L298.50,78.62L299.50,78.63L300.50,78.63L301.50,78.64L302.50,78.65L303.50,78.65L304.50,78.66L305.50,78.66L306.50,78.67L307.50,78.68L308.50,78.68L309.50,78.69L310.50,78.70L311.50,78.70L312.50,78.71L313.50,78.72L314.50,78.72L315.50,78.73L316.50,78.74L317.50,78.74L318.50,78.75L319.50,78.76L320.50,78.77L321.50,78.77L322.50,78.78L323.50,78.79L324.50,78.80L325.50,78.80L326.50,78.81L327.50,78.82L328.50,78.83L329.50,78.83L330.50,78.84L331.50,78.85L332.50,78.86L333.50,78.87L334.50,78.87L335.50,78.88L336.50,78.89L337.50,78.90L338.50,78.91L339.50,78.92L340.50,78.93L341.50,78.93L342.50,78.94L343.50,78.95L344.50,78.96L345.50,78.97L346.50,78.98L347.50,78.99L348.50,79.00L349.50,79.01L350.50,79.01L351.50,79.02L352.50,79.03L353.50,79.04L354.50,79.05L355.50,79.06L356.50,79.07L357.50,79.08L358.50,79.09L359.50,79.10L360.50,79.11L361.50,79.12L362.50,79.13L363.50,79.14L364.50,79.15L365.50,79.16L366.50,79.17L367.50,79.18L368.50,79.19L369.50,79.20L370.50,79.22L371.50,79.23L372.50,79.24L373.50,79.25L374.50,79.26L375.50,79.27L376.50,79.28L377.50,79.29L378.50,79.31L379.50,79.32L380.50,79.33L381.50,79.34L382.50,79.35L383.50,79.36L384.50,79.38L385.50,79.39L386.50,79.40L387.50,79.41L388.50,79.42L389.50,79.44L390.50,79.45L391.50,79.46L392.50,79.47L393.50,79.49L394.50,79.50L395.50,79.51L396.50,79.53L397.50,79.54L398.50,79.55L399.50,79.57L400.50,79.58L401.50,79.59L402.50,79.61L403.50,79.62L404.50,79.63L405.50,79.65L406.50,79.66L407.50,79.67L408.50,79.69L409.50,79.70L410.50,79.72L411.50,79.73L412.50,79.75L413.50,79.76L414.50,79.77L415.50,79.79L416.50,79.80L417.50,79.82L418.50,79.83L419.50,79.85L420.50,79.86L421.50,79.88L422.50,79.90L423.50,79.91L424.50,79.93L425.50,79.94L426.50,79.96L427.50,79.97L428.50,79.99L429.50,80.01L430.50,80.02L431.50,80.04L432.50,80.06L433.50,80.07L434.50,80.09L435.50,80.10L436.50,80.12L437.50,80.14L438.50,80.16L439.50,80.17L440.50,80.19L441.50,80.21L442.50,80.22L443.50,80.24L444.50,80.26L445.50,80.28L446.50,80.29L447.50,80.31L448.50,80.33L449.50,80.35L450.50,80.37L451.50,80.39L452.50,80.40L453.50,80.42L454.50,80.44L455.50,80.46L456.50,80.48L457.50,80.50L458.50,80.51L459.50,80.53L460.50,80.55L461.50,80.57L462.50,80.59L463.50,80.61L464.50,80.63L465.50,80.65L466.50,80.67L467.50,80.69L468.50,80.71L469.50,80.73L470.50,80.75L471.50,80.77L472.50,80.79L473.50,80.81L474.50,80.83L475.50,80.85L476.50,80.87L477.50,80.89L478.50,80.91L479.50,80.93L480.50,80.95L481.50,80.97L482.50,80.99L483.50,81.01L484.50,81.03L485.50,81.06L486.50,81.08L487.50,81.10L488.50,81.12L489.50,81.14L490.50,81.16L491.50,81.18L492.50,81.21L493.50,81.23L494.50,81.25L495.50,81.27L496.50,81.29L497.50,81.31L498.50,81.34L499.50,81.36L500.50,81.38L501.50,81.40L502.50,81.43L503.50,81.45L504.50,81.47L505.50,81.49L506.50,81.52L507.50,81.54L508.50,81.56L509.50,81.58L510.50,81.61L511.50,81.63L512.50,81.65L513.50,81.68L514.50,81.70L515.50,81.72L516.50,81.75L517.50,81.77L518.50,81.79L519.50,81.82L520.50,81.84L521.50,81.87L522.50,81.89L523.50,81.91L524.50,81.94L525.50,81.96L526.50,81.98L527.50,82.01L528.50,82.03L529.50,82.06L530.50,82.08L531.50,82.11L532.50,82.13L533.50,82.15L534.50,82.18L535.50,82.20L536.50,82.23L537.50,82.25L538.50,82.28L539.50,82.30L540.50,82.33L541.50,82.35L542.50,82.38L543.50,82.40L544.50,82.43L545.50,82.45L546.50,82.48L547.50,82.50L548.50,82.53L549.50,82.56L550.50,82.58L551.50,82.61L552.50,82.63L553.50,82.66L554.50,82.68L555.50,82.71L556.50,82.73L557.50,82.76L558.50,82.79L559.50,82.81L560.50,82.84L561.50,82.87L562.50,82.89L563.50,82.92L564.50,82.94L565.50,82.97L566.50,83.00L567.50,83.02L568.50,83.05L569.50,83.08L570.50,83.10L571.50,83.13L572.50,83.16L573.50,83.18L574.50,83.21L575.50,83.24L576.50,83.26L577.50,83.29L578.50,83.32L579.50,83.34L580.50,83.37L581.50,83.40L582.50,83.43L583.50,83.45L584.50,83.48L585.50,83.51L586.50,83.53L587.50,83.56L588.50,83.59L589.50,83.62L590.50,83.64L591.50,83.67L592.50,83.70L593.50,83.73L594.50,83.75L595.50,83.78L596.50,83.81L597.50,83.84L598.50,83.87L599.50,83.89L600.50,83.92L601.50,83.95L602.50,83.98L603.50,84.01L604.50,84.03L605.50,84.06L606.50,84.09L607.50,84.12L608.50,84.15L609.50,84.17L610.50,84.20L611.50,84.23L612.50,84.26L613.50,84.29L614.50,84.32L615.50,84.34L616.50,84.37L617.50,84.40L618.50,84.43L619.50,84.46L620.50,84.49L621.50,84.52L622.50,84.54L623.50,84.57L624.50,84.60L625.50,84.63L626.50,84.66L627.50,84.69L628.50,84.72L629.50,84.75L630.50,84.78L631.50,84.80L632.50,84.83L633.50,84.86L634.50,84.89L635.50,84.92L636.50,84.95L637.50,84.98L638.50,85.01L639.50,85.04L640.50,85.07L641.50,85.10L642.50,85.12L643.50,85.15L644.50,85.18L645.50,85.21L646.50,85.24L647.50,85.27L648.50,85.30L649.50,85.33L650.50,85.36L651.50,85.39L652.50,85.42L653.50,85.45L654.50,85.48L655.50,85.51L656.50,85.54L657.50,85.57L658.50,85.60L659.50,85.63L660.50,85.66L661.50,85.69L662.50,85.72L663.50,85.75L664.50,85.78L665.50,85.81L666.50,85.84L667.50,85.87L668.50,85.90L669.50,85.93L670.50,85.96L671.50,85.99L672.50,86.02L673.50,86.06L674.50,86.09L675.50,86.12L676.50,86.15L677.50,86.18L678.50,86.21L679.50,86.25L680.50,86.28L681.50,86.31L682.50,86.34L683.50,86.37L684.50,86.41L685.50,86.44L686.50,86.47L687.50,86.51L688.50,86.54L689.50,86.57L690.50,86.61L691.50,86.64L692.50,86.67L693.50,86.71L694.50,86.74L695.50,86.78L696.50,86.81L697.50,86.85L698.50,86.88L699.50,86.92L700.50,86.95L701.50,86.99L702.50,87.02L703.50,87.06L704.50,87.09L705.50,87.13L706.50,87.17L707.50,87.20L708.50,87.24L709.50,87.28L710.50,87.31L711.50,87.35L712.50,87.39L713.50,87.43L714.50,87.47L715.50,87.50L716.50,87.54L717.50,87.58L718.50,87.62L719.50,87.66L720.50,87.70L721.50,87.74L722.50,87.78L723.50,87.82L724.50,87.86L725.50,87.90L726.50,87.94L727.50,87.98L728.50,88.03L729.50,88.07L730.50,88.11L731.50,88.15L732.50,88.20L733.50,88.24L734.50,88.28L735.50,88.33L736.50,88.37L737.50,88.41L738.50,88.46L739.50,88.50L740.50,88.55L741.50,88.59L742.50,88.64L743.50,88.69L744.50,88.73L745.50,88.78L746.50,88.83L747.50,88.87L748.50,88.92L749.50,88.97L750.50,89.02L751.50,89.07L752.50,89.12L753.50,89.17L754.50,89.22L755.50,89.27L756.50,89.32L757.50,89.37L758.50,89.42L759.50,89.47L760.50,89.52L761.50,89.57L762.50,89.63L763.50,89.68L764.50,89.73L765.50,89.79L766.50,89.84L767.50,89.90L768.50,89.95L769.50,90.01L770.50,90.06L771.50,90.12L772.50,90.17L773.50,90.23L774.50,90.29L775.50,90.35L776.50,90.41L777.50,90.46L778.50,90.52L779.50,90.58L780.50,90.64L781.50,90.70L782.50,90.76L783.50,90.82L784.50,90.89L785.50,90.95L786.50,91.01L787.50,91.07L788.50,91.14L789.50,91.20L790.50,91.26L791.50,91.33L792.50,91.39L793.50,91.46L794.50,91.53L795.50,91.59L796.50,91.66L797.50,91.73L798.50,91.79L799.50,91.86L800.50,91.93L801.50,92.00L802.50,92.07L803.50,92.14L804.50,92.21L805.50,92.28L806.50,92.36L807.50,92.43L808.50,92.50L809.50,92.57L810.50,92.65L811.50,92.72L812.50,92.80L813.50,92.87L814.50,92.95L815.50,93.02L816.50,93.10L817.50,93.18L818.50,93.26L819.50,93.33L820.50,93.41L821.50,93.49L822.50,93.57L823.50,93.65L824.50,93.73L825.50,93.82L826.50,93.90L827.50,93.98L828.50,94.06L829.50,94.15L830.50,94.23L831.50,94.32L832.50,94.40L833.50,94.49L834.50,94.58L835.50,94.66L836.50,94.75L837.50,94.84L838.50,94.93L839.50,95.02L840.50,95.11L841.50,95.20L842.50,95.29L843.50,95.38L844.50,95.47L845.50,95.57L846.50,95.66L847.50,95.76L848.50,95.85L849.50,95.95L850.50,96.04L851.50,96.14L852.50,96.24L853.50,96.33L854.50,96.43L855.50,96.53L856.50,96.63L857.50,96.73L858.50,96.83L859.50,96.93L860.50,97.04L861.50,97.14L862.50,97.24L863.50,97.35L864.50,97.45L865.50,97.56L866.50,97.67L867.50,97.78L868.50,97.89L869.50,98.00L870.50,98.11L871.50,98.22L872.50,98.34L873.50,98.46L874.50,98.58L875.50,98.70L876.50,98.82L877.50,98.94L878.50,99.07L879.50,99.20L880.50,99.33L881.50,99.47L882.50,99.61L883.50,99.75L884.50,99.89L885.50,100.04L886.50,100.19L887.50,100.34L888.50,100.49L889.50,100.65L890.50,100.81L891.50,100.98L892.50,101.15L893.50,101.32L894.50,101.50L895.50,101.68L896.50,101.86L897.50,102.05L898.50,102.25L899.50,102.44L900.50,102.64L901.50,102.85L902.50,103.06L903.50,103.28L904.50,103.50L905.50,103.72L906.50,103.95L907.50,104.19L908.50,104.43L909.50,104.67L910.50,104.92L911.50,105.18L912.50,105.44L913.50,105.71L914.50,105.98L915.50,106.26L916.50,106.55L917.50,106.84L918.50,107.14L919.50,107.45L920.50,107.77L921.50,108.09L922.50,108.43L923.50,108.77L924.50,109.12L925.50,109.49L926.50,109.86L927.50,110.24L928.50,110.64L929.50,111.05L930.50,111.47L931.50,111.90L932.50,112.34L933.50,112.80L934.50,113.27L935.50,113.75L936.50,114.25L937.50,114.77L938.50,115.30L939.50,115.84L940.50,116.40L941.50,116.98L942.50,117.57L943.50,118.18L944.50,118.81L945.50,119.45L946.50,120.12L947.50,120.80L948.50,121.49L949.50,122.21L950.50,122.95L951.50,123.70L952.50,124.48L953.50,125.28L954.50,126.09L955.50,126.93L956.50,127.79L957.50,128.66L958.50,129.57L959.50,130.49L960.50,131.45L961.50,132.43L962.50,133.46L963.50,134.51L964.50,135.61L965.50,136.75L966.50,137.93L967.50,139.16L968.50,140.44L969.50,141.77L970.50,143.16L971.50,144.61L972.50,146.11L973.50,147.67L974.50,149.27L975.50,150.93L976.50,152.64L977.50,154.40L978.50,156.21L979.50,158.07L980.50,159.97L981.50,161.91L982.50,163.91L983.50,165.99L984.50,168.18L985.50,170.52L986.50,173.03L987.50,175.75L988.50,178.70L989.50,181.92L990.50,185.44L991.50,189.28L991.70,190.09" stroke="#4DBEEE" stroke-width="5.0" stroke-linejoin="round" clip-path="url(#clipsa)"/>
</g>
<text x="122.50" y="466.3" text-anchor="middle" font-size="31.8">0</text>
<text x="231.34" y="466.3" text-anchor="middle" font-size="31.8">50</text>
<text x="340.18" y="466.3" text-anchor="middle" font-size="31.8">100</text>
<text x="449.01" y="466.3" text-anchor="middle" font-size="31.8">150</text>
<text x="557.85" y="466.3" text-anchor="middle" font-size="31.8">200</text>
<text x="666.69" y="466.3" text-anchor="middle" font-size="31.8">250</text>
<text x="775.53" y="466.3" text-anchor="middle" font-size="31.8">300</text>
<text x="884.36" y="466.3" text-anchor="middle" font-size="31.8">350</text>
<text x="993.20" y="466.3" text-anchor="middle" font-size="31.8">400</text>
<text x="111.3" y="435.70" text-anchor="end" font-size="31.8">0</text>
<text x="111.3" y="301.10" text-anchor="end" font-size="31.8">2000</text>
<text x="111.3" y="166.50" text-anchor="end" font-size="31.8">4000</text>
<text x="111.3" y="31.90" text-anchor="end" font-size="31.8">6000</text>
<text x="443.00" y="505.6" font-size="31" textLength="140.60" lengthAdjust="spacingAndGlyphs">Frequency</text>
<text x="595.40" y="505.6" font-size="31" textLength="73.60" lengthAdjust="spacingAndGlyphs">(kHz)</text>
<g transform="translate(29.2,0) rotate(-90)">
<text x="-369.40" y="0" font-size="31" textLength="85.50" lengthAdjust="spacingAndGlyphs">Group</text>
<text x="-274.40" y="0" font-size="31" textLength="104.90" lengthAdjust="spacingAndGlyphs">velocity</text>
<text x="-156.80" y="0" font-size="31" textLength="73.20" lengthAdjust="spacingAndGlyphs">(m/s)</text>
</g>
<rect x="312.3" y="183.3" width="397.00" height="120.20" fill="#fff" stroke="#4a4a4a" stroke-width="1.8"/>
<path d="M320.7,205.95H326M330.8,205.95H340M344.9,205.95H350.1M354.8,205.95H360.5M364.6,205.95H370.1M374.3,205.95H380M385,205.95H389.6M394.9,205.95H398.8" stroke="#0000FF" stroke-width="5.3" fill="none"/>
<text x="404.5" y="216.6" class="sans" font-size="28">A0 -0°</text>
<path d="M320.7,243.95H326M330.8,243.95H340M344.9,243.95H350.1M354.8,243.95H360.5M364.6,243.95H370.1M374.3,243.95H380M385,243.95H389.6M394.9,243.95H398.8" stroke="#FF0000" stroke-width="5.3" fill="none"/>
<text x="404.5" y="254.2" class="sans" font-size="28">A0 -45°</text>
<path d="M320.7,281.05H326M330.8,281.05H340M344.9,281.05H350.1M354.8,281.05H360.5M364.6,281.05H370.1M374.3,281.05H380M385,281.05H389.6M394.9,281.05H398.8" stroke="#000000" stroke-width="5.3" fill="none"/>
<text x="404.5" y="291.9" class="sans" font-size="28">A0 -90°</text>
<line x1="514.4" y1="205.8" x2="592.8" y2="205.8" stroke="#D95319" stroke-width="5.0"/>
<text x="598.5" y="216.6" class="sans" font-size="28">S0 -0°</text>
<line x1="514.4" y1="243.8" x2="592.8" y2="243.8" stroke="#7E2F8E" stroke-width="5.0"/>
<text x="598.5" y="254.2" class="sans" font-size="28">S0 -45°</text>
<line x1="514.4" y1="281.2" x2="592.8" y2="281.2" stroke="#4DBEEE" stroke-width="5.0"/>
<text x="598.5" y="291.9" class="sans" font-size="28">S0 -90°</text>
<text x="512.6" y="578" text-anchor="middle" class="lab" font-size="41.2">(a)</text>
<rect x="126.55" y="628.1" width="868.05" height="408.90" fill="none" stroke="#454545" stroke-width="1.5"/>
<path d="M126.55,1037.0V1028.00M126.55,628.1V637.10M235.06,1037.0V1028.00M235.06,628.1V637.10M343.56,1037.0V1028.00M343.56,628.1V637.10M452.07,1037.0V1028.00M452.07,628.1V637.10M560.58,1037.0V1028.00M560.58,628.1V637.10M669.08,1037.0V1028.00M669.08,628.1V637.10M777.59,1037.0V1028.00M777.59,628.1V637.10M886.09,1037.0V1028.00M886.09,628.1V637.10M994.60,1037.0V1028.00M994.60,628.1V637.10M126.55,1037.00H135.55M994.6,1037.00H985.60M126.55,900.70H135.55M994.6,900.70H985.60M126.55,764.40H135.55M994.6,764.40H985.60M126.55,628.10H135.55M994.6,628.10H985.60" stroke="#454545" stroke-width="1.5" fill="none"/>
<clipPath id="clipb"><rect x="123.55" y="625.1" width="874.0500000000001" height="414.9"/></clipPath>
<clipPath id="clipsb"><rect x="126.55" y="625.1" width="871.0500000000001" height="414.9"/></clipPath>
<g clip-path="url(#clipb)" fill="none">
<path d="M126.70,1036.07L126.90,1034.86L127.10,1033.67L127.30,1032.49L127.50,1031.34L127.70,1030.20L127.90,1029.08L128.10,1027.99L128.30,1026.91L128.50,1025.85L128.70,1024.80L128.90,1023.77L129.10,1022.76L129.30,1021.77L129.50,1020.79L129.70,1019.83L129.90,1018.88L130.10,1017.95L130.30,1017.04L130.50,1016.14L130.70,1015.25L130.90,1014.38L131.10,1013.52L131.30,1012.67L131.50,1011.84L131.70,1011.02L131.90,1010.21L132.10,1009.42L132.30,1008.64L132.50,1007.87L132.70,1007.11L132.90,1006.36L133.10,1005.63L133.30,1004.90L133.50,1004.19L133.70,1003.49L133.90,1002.80L134.10,1002.12L134.30,1001.45L134.50,1000.78L134.70,1000.13L134.90,999.49L135.10,998.86L135.30,998.24L135.50,997.62L135.70,997.02L135.90,996.42L136.10,995.83L136.30,995.25L136.50,994.68L136.70,994.12L136.90,993.56L137.10,993.01L137.30,992.47L137.50,991.94L137.70,991.42L137.90,990.90L138.10,990.39L138.30,989.89L138.50,989.39L138.70,988.90L138.90,988.42L139.10,987.94L139.30,987.47L139.50,987.00L139.70,986.55L139.90,986.10L140.10,985.65L140.30,985.21L140.50,984.77L140.70,984.35L140.90,983.92L141.10,983.51L141.30,983.09L141.50,982.69L141.70,982.28L141.90,981.89L142.10,981.50L142.30,981.11L142.50,980.73L142.70,980.35L142.90,979.98L143.10,979.61L143.30,979.24L143.50,978.88L143.70,978.53L143.90,978.18L144.10,977.83L144.30,977.49L144.50,977.15L144.70,976.82L144.90,976.49L145.10,976.16L145.30,975.84L145.50,975.52L145.70,975.20L145.90,974.89L146.10,974.58L146.30,974.28L146.50,973.98L146.70,973.68L146.90,973.38L147.10,973.09L147.30,972.81L147.50,972.52L147.70,972.24L147.90,971.96L148.10,971.68L148.30,971.41L148.50,971.14L148.70,970.87L148.90,970.61L149.10,970.35L149.30,970.09L149.50,969.83L149.70,969.58L149.90,969.33L150.10,969.08L150.30,968.84L150.50,968.59L150.70,968.35L150.90,968.11L151.10,967.88L151.30,967.65L151.50,967.41L151.70,967.19L152.70,966.07L153.70,965.01L154.70,964.00L155.70,963.04L156.70,962.11L157.70,961.23L158.70,960.38L159.70,959.56L160.70,958.78L161.70,958.02L162.70,957.30L163.70,956.60L164.70,955.93L165.70,955.28L166.70,954.65L167.70,954.04L168.70,953.45L169.70,952.88L170.70,952.33L171.70,951.80L172.70,951.28L173.70,950.78L174.70,950.29L175.70,949.81L176.70,949.35L177.70,948.91L178.70,948.47L179.70,948.05L180.70,947.64L181.70,947.23L182.70,946.84L183.70,946.46L184.70,946.09L185.70,945.73L186.70,945.38L187.70,945.04L188.70,944.70L189.70,944.38L190.70,944.06L191.70,943.75L192.70,943.44L193.70,943.15L194.70,942.86L195.70,942.58L196.70,942.30L197.70,942.03L198.70,941.77L199.70,941.51L200.70,941.26L201.70,941.02L202.70,940.78L203.70,940.55L204.70,940.32L205.70,940.10L206.70,939.88L207.70,939.67L208.70,939.46L209.70,939.26L210.70,939.06L211.70,938.87L212.70,938.68L213.70,938.49L214.70,938.31L215.70,938.14L216.70,937.96L217.70,937.80L218.70,937.63L219.70,937.47L220.70,937.31L221.70,937.16L222.70,937.01L223.70,936.86L224.70,936.72L225.70,936.58L226.70,936.44L227.70,936.31L228.70,936.18L229.70,936.05L230.70,935.93L231.70,935.81L232.70,935.69L233.70,935.57L234.70,935.46L235.70,935.35L236.70,935.24L237.70,935.14L238.70,935.03L239.70,934.93L240.70,934.84L241.70,934.74L242.70,934.65L243.70,934.55L244.70,934.47L245.70,934.38L246.70,934.29L247.70,934.21L248.70,934.13L249.70,934.05L250.70,933.97L251.70,933.90L252.70,933.83L253.70,933.75L254.70,933.69L255.70,933.62L256.70,933.55L257.70,933.49L258.70,933.42L259.70,933.36L260.70,933.30L261.70,933.24L262.70,933.19L263.70,933.13L264.70,933.08L265.70,933.03L266.70,932.97L267.70,932.92L268.70,932.88L269.70,932.83L270.70,932.78L271.70,932.74L272.70,932.69L273.70,932.65L274.70,932.61L275.70,932.57L276.70,932.53L277.70,932.49L278.70,932.46L279.70,932.42L280.70,932.39L281.70,932.35L282.70,932.32L283.70,932.29L284.70,932.26L285.70,932.23L286.70,932.20L287.70,932.17L288.70,932.14L289.70,932.12L290.70,932.09L291.70,932.07L292.70,932.04L293.70,932.02L294.70,932.00L295.70,931.98L296.70,931.96L297.70,931.93L298.70,931.92L299.70,931.90L300.70,931.88L301.70,931.86L302.70,931.84L303.70,931.83L304.70,931.81L305.70,931.80L306.70,931.78L307.70,931.77L308.70,931.76L309.70,931.74L310.70,931.73L311.70,931.72L312.70,931.71L313.70,931.70L314.70,931.69L315.70,931.68L316.70,931.67L317.70,931.66L318.70,931.65L319.70,931.64L320.70,931.64L321.70,931.63L322.70,931.62L323.70,931.62L324.70,931.61L325.70,931.61L326.70,931.60L327.70,931.60L328.70,931.59L329.70,931.59L330.70,931.59L331.70,931.58L332.70,931.58L333.70,931.58L334.70,931.58L335.70,931.58L336.70,931.57L337.70,931.57L338.70,931.57L339.70,931.57L340.70,931.57L341.70,931.57L342.70,931.57L343.70,931.57L344.70,931.57L345.70,931.57L346.70,931.58L347.70,931.58L348.70,931.58L349.70,931.58L350.70,931.58L351.70,931.59L352.70,931.59L353.70,931.59L354.70,931.60L355.70,931.60L356.70,931.60L357.70,931.61L358.70,931.61L359.70,931.62L360.70,931.62L361.70,931.62L362.70,931.63L363.70,931.63L364.70,931.64L365.70,931.64L366.70,931.65L367.70,931.66L368.70,931.66L369.70,931.67L370.70,931.67L371.70,931.68L372.70,931.69L373.70,931.69L374.70,931.70L375.70,931.71L376.70,931.71L377.70,931.72L378.70,931.73L379.70,931.73L380.70,931.74L381.70,931.75L382.70,931.76L383.70,931.76L384.70,931.77L385.70,931.78L386.70,931.79L387.70,931.80L388.70,931.80L389.70,931.81L390.70,931.82L391.70,931.83L392.70,931.84L393.70,931.85L394.70,931.85L395.70,931.86L396.70,931.87L397.70,931.88L398.70,931.89L399.70,931.90L400.70,931.91L401.70,931.92L402.70,931.93L403.70,931.94L404.70,931.95L405.70,931.95L406.70,931.96L407.70,931.97L408.70,931.98L409.70,931.99L410.70,932.00L411.70,932.01L412.70,932.02L413.70,932.03L414.70,932.04L415.70,932.05L416.70,932.06L417.70,932.07L418.70,932.08L419.70,932.09L420.70,932.10L421.70,932.11L422.70,932.12L423.70,932.13L424.70,932.14L425.70,932.15L426.70,932.16L427.70,932.17L428.70,932.18L429.70,932.19L430.70,932.20L431.70,932.22L432.70,932.23L433.70,932.24L434.70,932.25L435.70,932.26L436.70,932.27L437.70,932.28L438.70,932.29L439.70,932.30L440.70,932.31L441.70,932.32L442.70,932.33L443.70,932.34L444.70,932.35L445.70,932.36L446.70,932.37L447.70,932.38L448.70,932.39L449.70,932.41L450.70,932.42L451.70,932.43L452.70,932.44L453.70,932.45L454.70,932.46L455.70,932.47L456.70,932.48L457.70,932.49L458.70,932.50L459.70,932.51L460.70,932.52L461.70,932.53L462.70,932.54L463.70,932.56L464.70,932.57L465.70,932.58L466.70,932.59L467.70,932.60L468.70,932.61L469.70,932.62L470.70,932.63L471.70,932.64L472.70,932.65L473.70,932.66L474.70,932.67L475.70,932.68L476.70,932.69L477.70,932.70L478.70,932.72L479.70,932.73L480.70,932.74L481.70,932.75L482.70,932.76L483.70,932.77L484.70,932.78L485.70,932.79L486.70,932.80L487.70,932.81L488.70,932.82L489.70,932.83L490.70,932.84L491.70,932.85L492.70,932.86L493.70,932.87L494.70,932.88L495.70,932.89L496.70,932.90L497.70,932.91L498.70,932.92L499.70,932.94L500.70,932.95L501.70,932.96L502.70,932.97L503.70,932.98L504.70,932.99L505.70,933.00L506.70,933.01L507.70,933.02L508.70,933.03L509.70,933.04L510.70,933.05L511.70,933.06L512.70,933.07L513.70,933.08L514.70,933.09L515.70,933.10L516.70,933.11L517.70,933.12L518.70,933.13L519.70,933.14L520.70,933.15L521.70,933.16L522.70,933.17L523.70,933.18L524.70,933.19L525.70,933.20L526.70,933.21L527.70,933.22L528.70,933.23L529.70,933.24L530.70,933.25L531.70,933.26L532.70,933.27L533.70,933.27L534.70,933.28L535.70,933.29L536.70,933.30L537.70,933.31L538.70,933.32L539.70,933.33L540.70,933.34L541.70,933.35L542.70,933.36L543.70,933.37L544.70,933.38L545.70,933.39L546.70,933.40L547.70,933.41L548.70,933.42L549.70,933.43L550.70,933.43L551.70,933.44L552.70,933.45L553.70,933.46L554.70,933.47L555.70,933.48L556.70,933.49L557.70,933.50L558.70,933.51L559.70,933.52L560.70,933.53L561.70,933.53L562.70,933.54L563.70,933.55L564.70,933.56L565.70,933.57L566.70,933.58L567.70,933.59L568.70,933.60L569.70,933.60L570.70,933.61L571.70,933.62L572.70,933.63L573.70,933.64L574.70,933.65L575.70,933.66L576.70,933.66L577.70,933.67L578.70,933.68L579.70,933.69L580.70,933.70L581.70,933.71L582.70,933.72L583.70,933.72L584.70,933.73L585.70,933.74L586.70,933.75L587.70,933.76L588.70,933.76L589.70,933.77L590.70,933.78L591.70,933.79L592.70,933.80L593.70,933.81L594.70,933.81L595.70,933.82L596.70,933.83L597.70,933.84L598.70,933.85L599.70,933.85L600.70,933.86L601.70,933.87L602.70,933.88L603.70,933.88L604.70,933.89L605.70,933.90L606.70,933.91L607.70,933.91L608.70,933.92L609.70,933.93L610.70,933.94L611.70,933.94L612.70,933.95L613.70,933.96L614.70,933.97L615.70,933.97L616.70,933.98L617.70,933.99L618.70,934.00L619.70,934.00L620.70,934.01L621.70,934.02L622.70,934.03L623.70,934.03L624.70,934.04L625.70,934.05L626.70,934.05L627.70,934.06L628.70,934.07L629.70,934.07L630.70,934.08L631.70,934.09L632.70,934.10L633.70,934.10L634.70,934.11L635.70,934.12L636.70,934.12L637.70,934.13L638.70,934.14L639.70,934.14L640.70,934.15L641.70,934.16L642.70,934.16L643.70,934.17L644.70,934.18L645.70,934.18L646.70,934.19L647.70,934.20L648.70,934.20L649.70,934.21L650.70,934.21L651.70,934.22L652.70,934.23L653.70,934.23L654.70,934.24L655.70,934.25L656.70,934.25L657.70,934.26L658.70,934.26L659.70,934.27L660.70,934.28L661.70,934.28L662.70,934.29L663.70,934.29L664.70,934.30L665.70,934.31L666.70,934.31L667.70,934.32L668.70,934.32L669.70,934.33L670.70,934.33L671.70,934.34L672.70,934.35L673.70,934.35L674.70,934.36L675.70,934.36L676.70,934.37L677.70,934.37L678.70,934.38L679.70,934.39L680.70,934.39L681.70,934.40L682.70,934.40L683.70,934.41L684.70,934.41L685.70,934.42L686.70,934.42L687.70,934.43L688.70,934.43L689.70,934.44L690.70,934.44L691.70,934.45L692.70,934.45L693.70,934.46L694.70,934.46L695.70,934.47L696.70,934.47L697.70,934.48L698.70,934.48L699.70,934.49L700.70,934.49L701.70,934.50L702.70,934.50L703.70,934.51L704.70,934.51L705.70,934.52L706.70,934.52L707.70,934.53L708.70,934.53L709.70,934.53L710.70,934.54L711.70,934.54L712.70,934.55L713.70,934.55L714.70,934.56L715.70,934.56L716.70,934.57L717.70,934.57L718.70,934.57L719.70,934.58L720.70,934.58L721.70,934.59L722.70,934.59L723.70,934.59L724.70,934.60L725.70,934.60L726.70,934.61L727.70,934.61L728.70,934.61L729.70,934.62L730.70,934.62L731.70,934.63L732.70,934.63L733.70,934.63L734.70,934.64L735.70,934.64L736.70,934.65L737.70,934.65L738.70,934.65L739.70,934.66L740.70,934.66L741.70,934.66L742.70,934.67L743.70,934.67L744.70,934.67L745.70,934.68L746.70,934.68L747.70,934.68L748.70,934.69L749.70,934.69L750.70,934.69L751.70,934.70L752.70,934.70L753.70,934.70L754.70,934.71L755.70,934.71L756.70,934.71L757.70,934.72L758.70,934.72L759.70,934.72L760.70,934.72L761.70,934.73L762.70,934.73L763.70,934.73L764.70,934.74L765.70,934.74L766.70,934.74L767.70,934.74L768.70,934.75L769.70,934.75L770.70,934.75L771.70,934.75L772.70,934.76L773.70,934.76L774.70,934.76L775.70,934.77L776.70,934.77L777.70,934.77L778.70,934.77L779.70,934.77L780.70,934.78L781.70,934.78L782.70,934.78L783.70,934.78L784.70,934.79L785.70,934.79L786.70,934.79L787.70,934.79L788.70,934.79L789.70,934.80L790.70,934.80L791.70,934.80L792.70,934.80L793.70,934.80L794.70,934.81L795.70,934.81L796.70,934.81L797.70,934.81L798.70,934.81L799.70,934.82L800.70,934.82L801.70,934.82L802.70,934.82L803.70,934.82L804.70,934.82L805.70,934.83L806.70,934.83L807.70,934.83L808.70,934.83L809.70,934.83L810.70,934.83L811.70,934.83L812.70,934.84L813.70,934.84L814.70,934.84L815.70,934.84L816.70,934.84L817.70,934.84L818.70,934.84L819.70,934.84L820.70,934.84L821.70,934.85L822.70,934.85L823.70,934.85L824.70,934.85L825.70,934.85L826.70,934.85L827.70,934.85L828.70,934.85L829.70,934.85L830.70,934.85L831.70,934.85L832.70,934.86L833.70,934.86L834.70,934.86L835.70,934.86L836.70,934.86L837.70,934.86L838.70,934.86L839.70,934.86L840.70,934.86L841.70,934.86L842.70,934.86L843.70,934.86L844.70,934.86L845.70,934.86L846.70,934.86L847.70,934.86L848.70,934.86L849.70,934.86L850.70,934.86L851.70,934.86L852.70,934.86L853.70,934.86L854.70,934.86L855.70,934.86L856.70,934.86L857.70,934.86L858.70,934.86L859.70,934.86L860.70,934.86L861.70,934.86L862.70,934.86L863.70,934.86L864.70,934.86L865.70,934.86L866.70,934.86L867.70,934.86L868.70,934.86L869.70,934.86L870.70,934.86L871.70,934.86L872.70,934.86L873.70,934.86L874.70,934.86L875.70,934.86L876.70,934.86L877.70,934.86L878.70,934.85L879.70,934.85L880.70,934.85L881.70,934.85L882.70,934.85L883.70,934.85L884.70,934.85L885.70,934.85L886.70,934.85L887.70,934.85L888.70,934.85L889.70,934.85L890.70,934.84L891.70,934.84L892.70,934.84L893.70,934.84L894.70,934.84L895.70,934.84L896.70,934.84L897.70,934.84L898.70,934.83L899.70,934.83L900.70,934.83L901.70,934.83L902.70,934.83L903.70,934.83L904.70,934.83L905.70,934.82L906.70,934.82L907.70,934.82L908.70,934.82L909.70,934.82L910.70,934.82L911.70,934.81L912.70,934.81L913.70,934.81L914.70,934.81L915.70,934.81L916.70,934.80L917.70,934.80L918.70,934.80L919.70,934.80L920.70,934.80L921.70,934.79L922.70,934.79L923.70,934.79L924.70,934.79L925.70,934.79L926.70,934.78L927.70,934.78L928.70,934.78L929.70,934.78L930.70,934.77L931.70,934.77L932.70,934.77L933.70,934.77L934.70,934.77L935.70,934.76L936.70,934.76L937.70,934.76L938.70,934.76L939.70,934.75L940.70,934.75L941.70,934.75L942.70,934.74L943.70,934.74L944.70,934.74L945.70,934.74L946.70,934.73L947.70,934.73L948.70,934.73L949.70,934.72L950.70,934.72L951.70,934.72L952.70,934.72L953.70,934.71L954.70,934.71L955.70,934.71L956.70,934.70L957.70,934.70L958.70,934.70L959.70,934.69L960.70,934.69L961.70,934.69L962.70,934.68L963.70,934.68L964.70,934.68L965.70,934.67L966.70,934.67L967.70,934.67L968.70,934.66L969.70,934.66L970.70,934.66L971.70,934.65L972.70,934.65L973.70,934.65L974.70,934.64L975.70,934.64L976.70,934.63L977.70,934.63L978.70,934.63L979.70,934.62L980.70,934.62L981.70,934.61L982.70,934.61L983.70,934.61L984.70,934.60L985.70,934.60L986.70,934.59L987.70,934.59L988.00,934.59" stroke="#0000FF" stroke-width="5.1" stroke-linejoin="round" stroke-dasharray="4.3 5.67" stroke-dashoffset="0"/>
<path d="M126.70,1035.95L126.90,1034.58L127.10,1033.24L127.30,1031.94L127.50,1030.67L127.70,1029.43L127.90,1028.23L128.10,1027.05L128.30,1025.91L128.50,1024.79L128.70,1023.70L128.90,1022.63L129.10,1021.59L129.30,1020.58L129.50,1019.59L129.70,1018.62L129.90,1017.68L130.10,1016.76L130.30,1015.86L130.50,1014.98L130.70,1014.12L130.90,1013.28L131.10,1012.46L131.30,1011.66L131.50,1010.88L131.70,1010.11L131.90,1009.36L132.10,1008.63L132.30,1007.91L132.50,1007.21L132.70,1006.53L132.90,1005.85L133.10,1005.20L133.30,1004.55L133.50,1003.92L133.70,1003.31" stroke="#FF0000" stroke-width="5.1" stroke-linejoin="round" stroke-dasharray="4.3 5.65" stroke-dashoffset="0"/>
<path d="M133.70,1003.31L133.90,1002.70L134.10,1002.11L134.30,1001.53L134.50,1000.96L134.70,1000.40L134.90,999.86L135.10,999.32L135.30,998.79L135.50,998.28L135.70,997.77L135.90,997.28L136.10,996.79L136.30,996.31L136.50,995.84L136.70,995.38L136.90,994.93L137.10,994.48L137.30,994.04L137.50,993.61L137.70,993.19L137.90,992.78L138.10,992.37L138.30,991.97L138.50,991.57L138.70,991.18L138.90,990.80L139.10,990.43L139.30,990.06L139.50,989.69L139.70,989.33L139.90,988.98L140.10,988.63L140.30,988.29L140.50,987.95L140.70,987.62L140.90,987.29L141.10,986.97L141.30,986.65L141.50,986.33L141.70,986.02L141.90,985.72L142.10,985.41L142.30,985.12L142.50,984.82L142.70,984.53L142.90,984.25L143.10,983.96L143.30,983.68L143.50,983.41L143.70,983.14L143.90,982.87L144.10,982.60L144.30,982.34L144.50,982.08L144.70,981.82L144.90,981.57L145.10,981.32L145.30,981.07L145.50,980.82L145.70,980.58L145.90,980.34L146.10,980.10L146.30,979.87L146.50,979.64L146.70,979.41L146.90,979.18L147.10,978.95L147.30,978.73L147.50,978.51L147.70,978.29L147.90,978.07L148.10,977.86L148.30,977.64L148.50,977.43L148.70,977.22L148.90,977.02L149.10,976.81L149.30,976.61L149.50,976.41L149.70,976.21L149.90,976.01L150.10,975.81L150.30,975.62L150.50,975.42L150.70,975.23L150.90,975.04L151.10,974.85L151.30,974.66L151.50,974.48L151.70,974.29L152.70,973.39L153.70,972.52L154.70,971.69L155.70,970.87L156.70,970.09L157.70,969.33L158.70,968.59L159.70,967.87L160.70,967.17L161.70,966.49L162.70,965.82L163.70,965.18L164.70,964.54L165.70,963.93L166.70,963.33L167.70,962.74L168.70,962.16L169.70,961.60L170.70,961.05L171.70,960.52L172.70,959.99L173.70,959.47L174.70,958.97L175.70,958.48L176.70,957.99L177.70,957.52L178.70,957.06L179.70,956.60L180.70,956.16L181.70,955.72L182.70,955.29L183.70,954.87L184.70,954.46L185.70,954.06L186.70,953.66L187.70,953.28L188.70,952.90L189.70,952.52L190.70,952.16L191.70,951.80L192.70,951.45L193.70,951.11L194.70,950.77L195.70,950.44L196.70,950.11L197.70,949.79L198.70,949.48L199.70,949.18L200.70,948.88L201.70,948.58L202.70,948.29L203.70,948.01L204.70,947.73L205.70,947.46L206.70,947.19L207.70,946.93L208.70,946.67L209.70,946.42L210.70,946.17L211.70,945.93L212.70,945.69L213.70,945.46L214.70,945.23L215.70,945.01L216.70,944.79L217.70,944.57L218.70,944.36L219.70,944.15L220.70,943.95L221.70,943.75L222.70,943.55L223.70,943.36L224.70,943.17L225.70,942.99L226.70,942.81L227.70,942.63L228.70,942.46L229.70,942.29L230.70,942.12L231.70,941.96L232.70,941.79L233.70,941.64L234.70,941.48L235.70,941.33L236.70,941.18L237.70,941.04L238.70,940.89L239.70,940.75L240.70,940.62L241.70,940.48L242.70,940.35L243.70,940.22L244.70,940.10L245.70,939.97L246.70,939.85L247.70,939.73L248.70,939.61L249.70,939.50L250.70,939.39L251.70,939.28L252.70,939.17L253.70,939.06L254.70,938.96L255.70,938.86L256.70,938.76L257.70,938.66L258.70,938.57L259.70,938.47L260.70,938.38L261.70,938.29L262.70,938.20L263.70,938.12L264.70,938.03L265.70,937.95L266.70,937.87L267.70,937.79L268.70,937.71L269.70,937.64L270.70,937.56L271.70,937.49L272.70,937.42L273.70,937.35L274.70,937.28L275.70,937.21L276.70,937.15L277.70,937.08L278.70,937.02L279.70,936.96L280.70,936.90L281.70,936.84L282.70,936.78L283.70,936.73L284.70,936.67L285.70,936.62L286.70,936.56L287.70,936.51L288.70,936.46L289.70,936.41L290.70,936.36L291.70,936.32L292.70,936.27L293.70,936.23L294.70,936.18L295.70,936.14L296.70,936.10L297.70,936.05L298.70,936.01L299.70,935.97L300.70,935.94L301.70,935.90L302.70,935.86L303.70,935.83L304.70,935.79L305.70,935.76L306.70,935.72L307.70,935.69L308.70,935.66L309.70,935.63L310.70,935.60L311.70,935.57L312.70,935.54L313.70,935.51L314.70,935.48L315.70,935.46L316.70,935.43L317.70,935.40L318.70,935.38L319.70,935.36L320.70,935.33L321.70,935.31L322.70,935.29L323.70,935.27L324.70,935.24L325.70,935.22L326.70,935.20L327.70,935.18L328.70,935.16L329.70,935.15L330.70,935.13L331.70,935.11L332.70,935.09L333.70,935.08L334.70,935.06L335.70,935.05L336.70,935.03L337.70,935.02L338.70,935.00L339.70,934.99L340.70,934.98L341.70,934.96L342.70,934.95L343.70,934.94L344.70,934.93L345.70,934.91L346.70,934.90L347.70,934.89L348.70,934.88L349.70,934.87L350.70,934.86L351.70,934.86L352.70,934.85L353.70,934.84L354.70,934.83L355.70,934.82L356.70,934.81L357.70,934.81L358.70,934.80L359.70,934.79L360.70,934.79L361.70,934.78L362.70,934.78L363.70,934.77L364.70,934.77L365.70,934.76L366.70,934.76L367.70,934.75L368.70,934.75L369.70,934.74L370.70,934.74L371.70,934.74L372.70,934.73L373.70,934.73L374.70,934.73L375.70,934.73L376.70,934.72L377.70,934.72L378.70,934.72L379.70,934.72L380.70,934.72L381.70,934.72L382.70,934.72L383.70,934.71L384.70,934.71L385.70,934.71L386.70,934.71L387.70,934.71L388.70,934.71L389.70,934.71L390.70,934.71L391.70,934.71L392.70,934.71L393.70,934.72L394.70,934.72L395.70,934.72L396.70,934.72L397.70,934.72L398.70,934.72L399.70,934.72L400.70,934.73L401.70,934.73L402.70,934.73L403.70,934.73L404.70,934.73L405.70,934.74L406.70,934.74L407.70,934.74L408.70,934.75L409.70,934.75L410.70,934.75L411.70,934.75L412.70,934.76L413.70,934.76L414.70,934.76L415.70,934.77L416.70,934.77L417.70,934.78L418.70,934.78L419.70,934.78L420.70,934.79L421.70,934.79L422.70,934.80L423.70,934.80L424.70,934.81L425.70,934.81L426.70,934.81L427.70,934.82L428.70,934.82L429.70,934.83L430.70,934.83L431.70,934.84L432.70,934.84L433.70,934.85L434.70,934.85L435.70,934.86L436.70,934.86L437.70,934.87L438.70,934.87L439.70,934.88L440.70,934.89L441.70,934.89L442.70,934.90L443.70,934.90L444.70,934.91L445.70,934.91L446.70,934.92L447.70,934.93L448.70,934.93L449.70,934.94L450.70,934.94L451.70,934.95L452.70,934.96L453.70,934.96L454.70,934.97L455.70,934.97L456.70,934.98L457.70,934.99L458.70,934.99L459.70,935.00L460.70,935.01L461.70,935.01L462.70,935.02L463.70,935.02L464.70,935.03L465.70,935.04L466.70,935.04L467.70,935.05L468.70,935.06L469.70,935.06L470.70,935.07L471.70,935.08L472.70,935.08L473.70,935.09L474.70,935.10L475.70,935.10L476.70,935.11L477.70,935.12L478.70,935.13L479.70,935.13L480.70,935.14L481.70,935.15L482.70,935.15L483.70,935.16L484.70,935.17L485.70,935.17L486.70,935.18L487.70,935.19L488.70,935.19L489.70,935.20L490.70,935.21L491.70,935.22L492.70,935.22L493.70,935.23L494.70,935.24L495.70,935.24L496.70,935.25L497.70,935.26L498.70,935.27L499.70,935.27L500.70,935.28L501.70,935.29L502.70,935.29L503.70,935.30L504.70,935.31L505.70,935.32L506.70,935.32L507.70,935.33L508.70,935.34L509.70,935.34L510.70,935.35L511.70,935.36L512.70,935.37L513.70,935.37L514.70,935.38L515.70,935.39L516.70,935.39L517.70,935.40L518.70,935.41L519.70,935.42L520.70,935.42L521.70,935.43L522.70,935.44L523.70,935.45L524.70,935.45L525.70,935.46L526.70,935.47L527.70,935.47L528.70,935.48L529.70,935.49L530.70,935.50L531.70,935.50L532.70,935.51L533.70,935.52L534.70,935.52L535.70,935.53L536.70,935.54L537.70,935.55L538.70,935.55L539.70,935.56L540.70,935.57L541.70,935.57L542.70,935.58L543.70,935.59L544.70,935.60L545.70,935.60L546.70,935.61L547.70,935.62L548.70,935.62L549.70,935.63L550.70,935.64L551.70,935.64L552.70,935.65L553.70,935.66L554.70,935.67L555.70,935.67L556.70,935.68L557.70,935.69L558.70,935.69L559.70,935.70L560.70,935.71L561.70,935.71L562.70,935.72L563.70,935.73L564.70,935.74L565.70,935.74L566.70,935.75L567.70,935.76L568.70,935.76L569.70,935.77L570.70,935.78L571.70,935.78L572.70,935.79L573.70,935.80L574.70,935.80L575.70,935.81L576.70,935.82L577.70,935.82L578.70,935.83L579.70,935.84L580.70,935.84L581.70,935.85L582.70,935.86L583.70,935.86L584.70,935.87L585.70,935.88L586.70,935.88L587.70,935.89L588.70,935.90L589.70,935.90L590.70,935.91L591.70,935.92L592.70,935.92L593.70,935.93L594.70,935.94L595.70,935.94L596.70,935.95L597.70,935.96L598.70,935.96L599.70,935.97L600.70,935.97L601.70,935.98L602.70,935.99L603.70,935.99L604.70,936.00L605.70,936.01L606.70,936.01L607.70,936.02L608.70,936.03L609.70,936.03L610.70,936.04L611.70,936.04L612.70,936.05L613.70,936.06L614.70,936.06L615.70,936.07L616.70,936.07L617.70,936.08L618.70,936.09L619.70,936.09L620.70,936.10L621.70,936.11L622.70,936.11L623.70,936.12L624.70,936.12L625.70,936.13L626.70,936.13L627.70,936.14L628.70,936.15L629.70,936.15L630.70,936.16L631.70,936.16L632.70,936.17L633.70,936.18L634.70,936.18L635.70,936.19L636.70,936.19L637.70,936.20L638.70,936.20L639.70,936.21L640.70,936.22L641.70,936.22L642.70,936.23L643.70,936.23L644.70,936.24L645.70,936.24L646.70,936.25L647.70,936.26L648.70,936.26L649.70,936.27L650.70,936.27L651.70,936.28L652.70,936.28L653.70,936.29L654.70,936.29L655.70,936.30L656.70,936.30L657.70,936.31L658.70,936.31L659.70,936.32L660.70,936.33L661.70,936.33L662.70,936.34L663.70,936.34L664.70,936.35L665.70,936.35L666.70,936.36L667.70,936.36L668.70,936.37L669.70,936.37L670.70,936.38L671.70,936.38L672.70,936.39L673.70,936.39L674.70,936.40L675.70,936.40L676.70,936.41L677.70,936.41L678.70,936.42L679.70,936.42L680.70,936.43L681.70,936.43L682.70,936.44L683.70,936.44L684.70,936.45L685.70,936.45L686.70,936.46L687.70,936.46L688.70,936.47L689.70,936.47L690.70,936.47L691.70,936.48L692.70,936.48L693.70,936.49L694.70,936.49L695.70,936.50L696.70,936.50L697.70,936.51L698.70,936.51L699.70,936.52L700.70,936.52L701.70,936.52L702.70,936.53L703.70,936.53L704.70,936.54L705.70,936.54L706.70,936.55L707.70,936.55L708.70,936.56L709.70,936.56L710.70,936.56L711.70,936.57L712.70,936.57L713.70,936.58L714.70,936.58L715.70,936.58L716.70,936.59L717.70,936.59L718.70,936.60L719.70,936.60L720.70,936.61L721.70,936.61L722.70,936.61L723.70,936.62L724.70,936.62L725.70,936.63L726.70,936.63L727.70,936.63L728.70,936.64L729.70,936.64L730.70,936.64L731.70,936.65L732.70,936.65L733.70,936.66L734.70,936.66L735.70,936.66L736.70,936.67L737.70,936.67L738.70,936.67L739.70,936.68L740.70,936.68L741.70,936.68L742.70,936.69L743.70,936.69L744.70,936.70L745.70,936.70L746.70,936.70L747.70,936.71L748.70,936.71L749.70,936.71L750.70,936.72L751.70,936.72L752.70,936.72L753.70,936.73L754.70,936.73L755.70,936.73L756.70,936.74L757.70,936.74L758.70,936.74L759.70,936.75L760.70,936.75L761.70,936.75L762.70,936.76L763.70,936.76L764.70,936.76L765.70,936.76L766.70,936.77L767.70,936.77L768.70,936.77L769.70,936.78L770.70,936.78L771.70,936.78L772.70,936.79L773.70,936.79L774.70,936.79L775.70,936.79L776.70,936.80L777.70,936.80L778.70,936.80L779.70,936.80L780.70,936.81L781.70,936.81L782.70,936.81L783.70,936.82L784.70,936.82L785.70,936.82L786.70,936.82L787.70,936.83L788.70,936.83L789.70,936.83L790.70,936.83L791.70,936.84L792.70,936.84L793.70,936.84L794.70,936.84L795.70,936.85L796.70,936.85L797.70,936.85L798.70,936.85L799.70,936.86L800.70,936.86L801.70,936.86L802.70,936.86L803.70,936.86L804.70,936.87L805.70,936.87L806.70,936.87L807.70,936.87L808.70,936.88L809.70,936.88L810.70,936.88L811.70,936.88L812.70,936.88L813.70,936.89L814.70,936.89L815.70,936.89L816.70,936.89L817.70,936.89L818.70,936.89L819.70,936.90L820.70,936.90L821.70,936.90L822.70,936.90L823.70,936.90L824.70,936.91L825.70,936.91L826.70,936.91L827.70,936.91L828.70,936.91L829.70,936.91L830.70,936.92L831.70,936.92L832.70,936.92L833.70,936.92L834.70,936.92L835.70,936.92L836.70,936.92L837.70,936.93L838.70,936.93L839.70,936.93L840.70,936.93L841.70,936.93L842.70,936.93L843.70,936.93L844.70,936.94L845.70,936.94L846.70,936.94L847.70,936.94L848.70,936.94L849.70,936.94L850.70,936.94L851.70,936.94L852.70,936.95L853.70,936.95L854.70,936.95L855.70,936.95L856.70,936.95L857.70,936.95L858.70,936.95L859.70,936.95L860.70,936.95L861.70,936.95L862.70,936.96L863.70,936.96L864.70,936.96L865.70,936.96L866.70,936.96L867.70,936.96L868.70,936.96L869.70,936.96L870.70,936.96L871.70,936.96L872.70,936.96L873.70,936.96L874.70,936.96L875.70,936.97L876.70,936.97L877.70,936.97L878.70,936.97L879.70,936.97L880.70,936.97L881.70,936.97L882.70,936.97L883.70,936.97L884.70,936.97L885.70,936.97L886.70,936.97L887.70,936.97L888.70,936.97L889.70,936.97L890.70,936.97L891.70,936.97L892.70,936.97L893.70,936.97L894.70,936.97L895.70,936.97L896.70,936.97L897.70,936.97L898.70,936.97L899.70,936.97L900.70,936.97L901.70,936.97L902.70,936.97L903.70,936.97L904.70,936.97L905.70,936.97L906.70,936.97L907.70,936.97L908.70,936.97L909.70,936.97L910.70,936.97L911.70,936.97L912.70,936.97L913.70,936.97L914.70,936.97L915.70,936.97L916.70,936.97L917.70,936.97L918.70,936.97L919.70,936.97L920.70,936.97L921.70,936.97L922.70,936.97L923.70,936.97L924.70,936.97L925.70,936.97L926.70,936.97L927.70,936.97L928.70,936.96L929.70,936.96L930.70,936.96L931.70,936.96L932.70,936.96L933.70,936.96L934.70,936.96L935.70,936.96L936.70,936.96L937.70,936.96L938.70,936.96L939.70,936.96L940.70,936.96L941.70,936.95L942.70,936.95L943.70,936.95L944.70,936.95L945.70,936.95L946.70,936.95L947.70,936.95L948.70,936.95L949.70,936.95L950.70,936.95L951.70,936.94L952.70,936.94L953.70,936.94L954.70,936.94L955.70,936.94L956.70,936.94L957.70,936.94L958.70,936.94L959.70,936.93L960.70,936.93L961.70,936.93L962.70,936.93L963.70,936.93L964.70,936.93L965.70,936.93L966.70,936.93L967.70,936.92L968.70,936.92L969.70,936.92L970.70,936.92L971.70,936.92L972.70,936.92L973.70,936.91L974.70,936.91L975.70,936.91L976.70,936.91L977.70,936.91L978.70,936.91L979.70,936.90L980.70,936.90L981.70,936.90L982.70,936.90L983.70,936.90L984.70,936.90L985.00,936.89" stroke="#FF0000" stroke-width="5.1" stroke-linejoin="round" stroke-dasharray="4.3 5.65" stroke-dashoffset="36.42"/>
<path d="M126.70,1036.18L126.90,1035.11L127.10,1034.05L127.30,1033.00L127.50,1031.98L127.70,1030.97L127.90,1029.97L128.10,1028.99L128.30,1028.02L128.50,1027.07L128.70,1026.13L128.90,1025.21L129.10,1024.30L129.30,1023.41L129.50,1022.53L129.70,1021.66L129.90,1020.80L130.10,1019.96L130.30,1019.13L130.50,1018.31L130.70,1017.50L130.90,1016.71L131.10,1015.93L131.30,1015.16L131.50,1014.39L131.70,1013.65L131.90,1012.91L132.10,1012.18L132.30,1011.46L132.50,1010.76L132.70,1010.06L132.90,1009.37L133.10,1008.69L133.30,1008.03L133.50,1007.37L133.70,1006.72L133.90,1006.08L134.10,1005.45L134.30,1004.82L134.50,1004.21L134.70,1003.61L134.90,1003.01L135.10,1002.42L135.30,1001.84L135.50,1001.27L135.70,1000.70L135.90,1000.14L136.10,999.59L136.30,999.05L136.50,998.52L136.70,997.99L136.90,997.47L137.10,996.95L137.30,996.44L137.50,995.94L137.70,995.45L137.90,994.96L138.10,994.48L138.30,994.00L138.50,993.53L138.70,993.07L138.90,992.61L139.10,992.16L139.30,991.72L139.50,991.28L139.70,990.84L139.90,990.41L140.10,989.99L140.30,989.57L140.50,989.16L140.70,988.75L140.90,988.34L141.10,987.95L141.30,987.55L141.50,987.16L141.70,986.78L141.90,986.40L142.10,986.02L142.30,985.65L142.50,985.29L142.70,984.93L142.90,984.57L143.10,984.21L143.30,983.87L143.50,983.52L143.70,983.18L143.90,982.84L144.10,982.51L144.30,982.18L144.50,981.85L144.70,981.53L144.90,981.21L145.10,980.90L145.30,980.58L145.50,980.28L145.70,979.97L145.90,979.67L146.10,979.37L146.30,979.08L146.50,978.79L146.70,978.50L146.90,978.21L147.10,977.93L147.30,977.65L147.50,977.37L147.70,977.10L147.90,976.83L148.10,976.56L148.30,976.30L148.50,976.03L148.70,975.77L148.90,975.52L149.10,975.26L149.30,975.01L149.50,974.76L149.70,974.51L149.90,974.27L150.10,974.03L150.30,973.79L150.50,973.55L150.70,973.32L150.90,973.08L151.10,972.85L151.30,972.63L151.50,972.40L151.70,972.18L152.70,971.09L153.70,970.05L154.70,969.06L155.70,968.11L156.70,967.20L157.70,966.33L158.70,965.50L159.70,964.70L160.70,963.92L161.70,963.18L162.70,962.47L163.70,961.78L164.70,961.11L165.70,960.47L166.70,959.85L167.70,959.26L168.70,958.68L169.70,958.12L170.70,957.57L171.70,957.05L172.70,956.54L173.70,956.04L174.70,955.56L175.70,955.10L176.70,954.65L177.70,954.21L178.70,953.78L179.70,953.37L180.70,952.96L181.70,952.57L182.70,952.19L183.70,951.81L184.70,951.45L185.70,951.10L186.70,950.76L187.70,950.42L188.70,950.09L189.70,949.78L190.70,949.47L191.70,949.16L192.70,948.87L193.70,948.58L194.70,948.30L195.70,948.03L196.70,947.76L197.70,947.50L198.70,947.24L199.70,947.00L200.70,946.75L201.70,946.52L202.70,946.29L203.70,946.06L204.70,945.84L205.70,945.63L206.70,945.42L207.70,945.21L208.70,945.01L209.70,944.82L210.70,944.63L211.70,944.44L212.70,944.26L213.70,944.08L214.70,943.91L215.70,943.74L216.70,943.57L217.70,943.41L218.70,943.25L219.70,943.10L220.70,942.94L221.70,942.80L222.70,942.65L223.70,942.51L224.70,942.38L225.70,942.24L226.70,942.11L227.70,941.98L228.70,941.86L229.70,941.74L230.70,941.62L231.70,941.50L232.70,941.39L233.70,941.27L234.70,941.17L235.70,941.06L236.70,940.96L237.70,940.86L238.70,940.76L239.70,940.66L240.70,940.57L241.70,940.47L242.70,940.38L243.70,940.30L244.70,940.21L245.70,940.13L246.70,940.05L247.70,939.97L248.70,939.89L249.70,939.81L250.70,939.74L251.70,939.67L252.70,939.60L253.70,939.53L254.70,939.46L255.70,939.39L256.70,939.33L257.70,939.27L258.70,939.21L259.70,939.15L260.70,939.09L261.70,939.03L262.70,938.98L263.70,938.92L264.70,938.87L265.70,938.82L266.70,938.77L267.70,938.72L268.70,938.67L269.70,938.63L270.70,938.58L271.70,938.54L272.70,938.50L273.70,938.46L274.70,938.41L275.70,938.38L276.70,938.34L277.70,938.30L278.70,938.26L279.70,938.23L280.70,938.19L281.70,938.16L282.70,938.13L283.70,938.09L284.70,938.06L285.70,938.03L286.70,938.00L287.70,937.98L288.70,937.95L289.70,937.92L290.70,937.90L291.70,937.87L292.70,937.85L293.70,937.82L294.70,937.80L295.70,937.78L296.70,937.75L297.70,937.73L298.70,937.71L299.70,937.69L300.70,937.67L301.70,937.66L302.70,937.64L303.70,937.62L304.70,937.60L305.70,937.59L306.70,937.57L307.70,937.56L308.70,937.54L309.70,937.53L310.70,937.51L311.70,937.50L312.70,937.49L313.70,937.48L314.70,937.46L315.70,937.45L316.70,937.44L317.70,937.43L318.70,937.42L319.70,937.41L320.70,937.40L321.70,937.39L322.70,937.39L323.70,937.38L324.70,937.37L325.70,937.36L326.70,937.36L327.70,937.35L328.70,937.34L329.70,937.34L330.70,937.33L331.70,937.33L332.70,937.32L333.70,937.32L334.70,937.31L335.70,937.31L336.70,937.30L337.70,937.30L338.70,937.30L339.70,937.30L340.70,937.29L341.70,937.29L342.70,937.29L343.70,937.29L344.70,937.28L345.70,937.28L346.70,937.28L347.70,937.28L348.70,937.28L349.70,937.28L350.70,937.28L351.70,937.28L352.70,937.28L353.70,937.28L354.70,937.28L355.70,937.28L356.70,937.28L357.70,937.28L358.70,937.28L359.70,937.29L360.70,937.29L361.70,937.29L362.70,937.29L363.70,937.29L364.70,937.30L365.70,937.30L366.70,937.30L367.70,937.30L368.70,937.31L369.70,937.31L370.70,937.31L371.70,937.32L372.70,937.32L373.70,937.32L374.70,937.33L375.70,937.33L376.70,937.33L377.70,937.34L378.70,937.34L379.70,937.35L380.70,937.35L381.70,937.36L382.70,937.36L383.70,937.37L384.70,937.37L385.70,937.38L386.70,937.38L387.70,937.39L388.70,937.39L389.70,937.40L390.70,937.40L391.70,937.41L392.70,937.41L393.70,937.42L394.70,937.42L395.70,937.43L396.70,937.43L397.70,937.44L398.70,937.45L399.70,937.45L400.70,937.46L401.70,937.47L402.70,937.47L403.70,937.48L404.70,937.48L405.70,937.49L406.70,937.50L407.70,937.50L408.70,937.51L409.70,937.52L410.70,937.52L411.70,937.53L412.70,937.54L413.70,937.54L414.70,937.55L415.70,937.56L416.70,937.56L417.70,937.57L418.70,937.58L419.70,937.59L420.70,937.59L421.70,937.60L422.70,937.61L423.70,937.61L424.70,937.62L425.70,937.63L426.70,937.64L427.70,937.64L428.70,937.65L429.70,937.66L430.70,937.67L431.70,937.67L432.70,937.68L433.70,937.69L434.70,937.70L435.70,937.70L436.70,937.71L437.70,937.72L438.70,937.73L439.70,937.74L440.70,937.74L441.70,937.75L442.70,937.76L443.70,937.77L444.70,937.77L445.70,937.78L446.70,937.79L447.70,937.80L448.70,937.81L449.70,937.81L450.70,937.82L451.70,937.83L452.70,937.84L453.70,937.85L454.70,937.85L455.70,937.86L456.70,937.87L457.70,937.88L458.70,937.89L459.70,937.89L460.70,937.90L461.70,937.91L462.70,937.92L463.70,937.93L464.70,937.93L465.70,937.94L466.70,937.95L467.70,937.96L468.70,937.97L469.70,937.97L470.70,937.98L471.70,937.99L472.70,938.00L473.70,938.01L474.70,938.01L475.70,938.02L476.70,938.03L477.70,938.04L478.70,938.05L479.70,938.05L480.70,938.06L481.70,938.07L482.70,938.08L483.70,938.09L484.70,938.09L485.70,938.10L486.70,938.11L487.70,938.12L488.70,938.13L489.70,938.13L490.70,938.14L491.70,938.15L492.70,938.16L493.70,938.17L494.70,938.17L495.70,938.18L496.70,938.19L497.70,938.20L498.70,938.21L499.70,938.21L500.70,938.22L501.70,938.23L502.70,938.24L503.70,938.25L504.70,938.25L505.70,938.26L506.70,938.27L507.70,938.28L508.70,938.29L509.70,938.29L510.70,938.30L511.70,938.31L512.70,938.32L513.70,938.33L514.70,938.33L515.70,938.34L516.70,938.35L517.70,938.36L518.70,938.37L519.70,938.37L520.70,938.38L521.70,938.39L522.70,938.40L523.70,938.40L524.70,938.41L525.70,938.42L526.70,938.43L527.70,938.43L528.70,938.44L529.70,938.45L530.70,938.46L531.70,938.47L532.70,938.47L533.70,938.48L534.70,938.49L535.70,938.50L536.70,938.50L537.70,938.51L538.70,938.52L539.70,938.53L540.70,938.53L541.70,938.54L542.70,938.55L543.70,938.56L544.70,938.56L545.70,938.57L546.70,938.58L547.70,938.59L548.70,938.59L549.70,938.60L550.70,938.61L551.70,938.62L552.70,938.62L553.70,938.63L554.70,938.64L555.70,938.65L556.70,938.65L557.70,938.66L558.70,938.67L559.70,938.68L560.70,938.68L561.70,938.69L562.70,938.70L563.70,938.70L564.70,938.71L565.70,938.72L566.70,938.73L567.70,938.73L568.70,938.74L569.70,938.75L570.70,938.75L571.70,938.76L572.70,938.77L573.70,938.78L574.70,938.78L575.70,938.79L576.70,938.80L577.70,938.80L578.70,938.81L579.70,938.82L580.70,938.82L581.70,938.83L582.70,938.84L583.70,938.85L584.70,938.85L585.70,938.86L586.70,938.87L587.70,938.87L588.70,938.88L589.70,938.89L590.70,938.89L591.70,938.90L592.70,938.91L593.70,938.91L594.70,938.92L595.70,938.93L596.70,938.93L597.70,938.94L598.70,938.95L599.70,938.95L600.70,938.96L601.70,938.97L602.70,938.97L603.70,938.98L604.70,938.99L605.70,938.99L606.70,939.00L607.70,939.01L608.70,939.01L609.70,939.02L610.70,939.02L611.70,939.03L612.70,939.04L613.70,939.04L614.70,939.05L615.70,939.06L616.70,939.06L617.70,939.07L618.70,939.08L619.70,939.08L620.70,939.09L621.70,939.09L622.70,939.10L623.70,939.11L624.70,939.11L625.70,939.12L626.70,939.12L627.70,939.13L628.70,939.14L629.70,939.14L630.70,939.15L631.70,939.16L632.70,939.16L633.70,939.17L634.70,939.17L635.70,939.18L636.70,939.19L637.70,939.19L638.70,939.20L639.70,939.20L640.70,939.21L641.70,939.21L642.70,939.22L643.70,939.23L644.70,939.23L645.70,939.24L646.70,939.24L647.70,939.25L648.70,939.26L649.70,939.26L650.70,939.27L651.70,939.27L652.70,939.28L653.70,939.28L654.70,939.29L655.70,939.29L656.70,939.30L657.70,939.31L658.70,939.31L659.70,939.32L660.70,939.32L661.70,939.33L662.70,939.33L663.70,939.34L664.70,939.34L665.70,939.35L666.70,939.36L667.70,939.36L668.70,939.37L669.70,939.37L670.70,939.38L671.70,939.38L672.70,939.39L673.70,939.39L674.70,939.40L675.70,939.40L676.70,939.41L677.70,939.41L678.70,939.42L679.70,939.42L680.70,939.43L681.70,939.43L682.70,939.44L683.70,939.44L684.70,939.45L685.70,939.45L686.70,939.46L687.70,939.46L688.70,939.47L689.70,939.47L690.70,939.48L691.70,939.48L692.70,939.49L693.70,939.49L694.70,939.50L695.70,939.50L696.70,939.51L697.70,939.51L698.70,939.52L699.70,939.52L700.70,939.53L701.70,939.53L702.70,939.54L703.70,939.54L704.70,939.55L705.70,939.55L706.70,939.56L707.70,939.56L708.70,939.56L709.70,939.57L710.70,939.57L711.70,939.58L712.70,939.58L713.70,939.59L714.70,939.59L715.70,939.60L716.70,939.60L717.70,939.60L718.70,939.61L719.70,939.61L720.70,939.62L721.70,939.62L722.70,939.63L723.70,939.63L724.70,939.64L725.70,939.64L726.70,939.64L727.70,939.65L728.70,939.65L729.70,939.66L730.70,939.66L731.70,939.66L732.70,939.67L733.70,939.67L734.70,939.68L735.70,939.68L736.70,939.69L737.70,939.69L738.70,939.69L739.70,939.70L740.70,939.70L741.70,939.71L742.70,939.71L743.70,939.71L744.70,939.72L745.70,939.72L746.70,939.72L747.70,939.73L748.70,939.73L749.70,939.74L750.70,939.74L751.70,939.74L752.70,939.75L753.70,939.75L754.70,939.76L755.70,939.76L756.70,939.76L757.70,939.77L758.70,939.77L759.70,939.77L760.70,939.78L761.70,939.78L762.70,939.78L763.70,939.79L764.70,939.79L765.70,939.79L766.70,939.80L767.70,939.80L768.70,939.81L769.70,939.81L770.70,939.81L771.70,939.82L772.70,939.82L773.70,939.82L774.70,939.83L775.70,939.83L776.70,939.83L777.70,939.84L778.70,939.84L779.70,939.84L780.70,939.84L781.70,939.85L782.70,939.85L783.70,939.85L784.70,939.86L785.70,939.86L786.70,939.86L787.70,939.87L788.70,939.87L789.70,939.87L790.70,939.88L791.70,939.88L792.70,939.88L793.70,939.88L794.70,939.89L795.70,939.89L796.70,939.89L797.70,939.90L798.70,939.90L799.70,939.90L800.70,939.90L801.70,939.91L802.70,939.91L803.70,939.91L804.70,939.92L805.70,939.92L806.70,939.92L807.70,939.92L808.70,939.93L809.70,939.93L810.70,939.93L811.70,939.93L812.70,939.94L813.70,939.94L814.70,939.94L815.70,939.95L816.70,939.95L817.70,939.95L818.70,939.95L819.70,939.96L820.70,939.96L821.70,939.96L822.70,939.96L823.70,939.96L824.70,939.97L825.70,939.97L826.70,939.97L827.70,939.97L828.70,939.98L829.70,939.98L830.70,939.98L831.70,939.98L832.70,939.99L833.70,939.99L834.70,939.99L835.70,939.99L836.70,939.99L837.70,940.00L838.70,940.00L839.70,940.00L840.70,940.00L841.70,940.00L842.70,940.01L843.70,940.01L844.70,940.01L845.70,940.01L846.70,940.01L847.70,940.02L848.70,940.02L849.70,940.02L850.70,940.02L851.70,940.02L852.70,940.03L853.70,940.03L854.70,940.03L855.70,940.03L856.70,940.03L857.70,940.03L858.70,940.04L859.70,940.04L860.70,940.04L861.70,940.04L862.70,940.04L863.70,940.04L864.70,940.05L865.70,940.05L866.70,940.05L867.70,940.05L868.70,940.05L869.70,940.05L870.70,940.05L871.70,940.06L872.70,940.06L873.70,940.06L874.70,940.06L875.70,940.06L876.70,940.06L877.70,940.06L878.70,940.07L879.70,940.07L880.70,940.07L881.70,940.07L882.70,940.07L883.70,940.07L884.70,940.07L885.70,940.07L886.70,940.08L887.70,940.08L888.70,940.08L889.70,940.08L890.70,940.08L891.70,940.08L892.70,940.08L893.70,940.08L894.70,940.08L895.70,940.09L896.70,940.09L897.70,940.09L898.70,940.09L899.70,940.09L900.70,940.09L901.70,940.09L902.70,940.09L903.70,940.09L904.70,940.09L905.70,940.09L906.70,940.09L907.70,940.10L908.70,940.10L909.70,940.10L910.70,940.10L911.70,940.10L912.70,940.10L913.70,940.10L914.70,940.10L915.70,940.10L916.70,940.10L917.70,940.10L918.70,940.10L919.70,940.10L920.70,940.10L921.70,940.10L922.70,940.10L923.70,940.11L924.70,940.11L925.70,940.11L926.70,940.11L927.70,940.11L928.70,940.11L929.70,940.11L930.70,940.11L931.70,940.11L932.70,940.11L933.70,940.11L934.70,940.11L935.70,940.11L936.70,940.11L937.70,940.11L938.70,940.11L939.70,940.11L940.70,940.11L941.70,940.11L942.70,940.11L943.70,940.11L944.70,940.11L945.70,940.11L946.70,940.11L947.70,940.11L948.70,940.11L949.70,940.11L950.70,940.11L951.70,940.11L952.70,940.11L953.70,940.11L954.70,940.11L955.70,940.11L956.70,940.11L957.70,940.11L958.70,940.11L959.70,940.11L960.70,940.11L961.70,940.11L962.70,940.11L963.70,940.11L964.70,940.11L965.70,940.11L966.70,940.11L967.70,940.11L968.70,940.11L969.70,940.11L970.70,940.10L971.70,940.10L972.70,940.10L973.70,940.10L974.70,940.10L975.70,940.10L976.70,940.10L977.70,940.10L978.70,940.10L979.70,940.10L980.70,940.10L981.70,940.10L982.70,940.10L983.70,940.10L984.70,940.10L985.00,940.10" stroke="#000000" stroke-width="5.1" stroke-linejoin="round" stroke-dasharray="4.3 5.67" stroke-dashoffset="0"/>
<path d="M126.70,683.00L126.90,683.00L127.10,683.00L127.30,683.00L127.50,683.00L127.70,683.00L127.90,683.00L128.10,683.00L128.30,683.00L128.50,683.00L128.70,683.00L128.90,683.00L129.10,683.00L129.30,683.00L129.50,683.00L129.70,683.00L129.90,683.00L130.10,683.00L130.30,683.00L130.50,683.00L130.70,683.00L130.90,683.00L131.10,683.00L131.30,683.00L131.50,683.00L131.70,683.00L131.90,683.00L132.10,683.00L132.30,683.00L132.50,683.00L132.70,683.00L132.90,683.00L133.10,683.00L133.30,683.00L133.50,683.00L133.70,683.00L133.90,683.00L134.10,683.00L134.30,683.00L134.50,683.00L134.70,683.00L134.90,683.00L135.10,683.00L135.30,683.00L135.50,683.00L135.70,683.00L135.90,683.00L136.10,683.00L136.30,683.00L136.50,683.00L136.70,683.00L136.90,683.00L137.10,683.00L137.30,683.00L137.50,683.00L137.70,683.00L137.90,683.00L138.10,683.00L138.30,683.00L138.50,683.00L138.70,683.00L138.90,683.00L139.10,683.00L139.30,683.00L139.50,683.00L139.70,683.00L139.90,683.00L140.10,683.00L140.30,683.00L140.50,683.00L140.70,683.00L140.90,683.00L141.10,683.00L141.30,683.00L141.50,683.00L141.70,683.00L141.90,683.00L142.10,683.00L142.30,683.00L142.50,683.00L142.70,683.00L142.90,683.00L143.10,683.00L143.30,683.00L143.50,683.00L143.70,683.00L143.90,683.00L144.10,683.00L144.30,683.00L144.50,683.00L144.70,683.00L144.90,683.00L145.10,683.00L145.30,683.00L145.50,683.00L145.70,683.00L145.90,683.00L146.10,683.00L146.30,683.00L146.50,683.00L146.70,683.00L146.90,683.00L147.10,683.00L147.30,683.00L147.50,683.00L147.70,683.00L147.90,683.00L148.10,683.00L148.30,683.00L148.50,683.00L148.70,683.00L148.90,683.00L149.10,683.00L149.30,683.00L149.50,683.00L149.70,683.00L149.90,683.00L150.10,683.00L150.30,683.00L150.50,683.00L150.70,683.00L150.90,683.00L151.10,683.00L151.30,683.00L151.50,683.00L151.70,683.00L152.70,683.00L153.70,683.00L154.70,683.00L155.70,683.01L156.70,683.01L157.70,683.01L158.70,683.01L159.70,683.01L160.70,683.01L161.70,683.01L162.70,683.02L163.70,683.02L164.70,683.02L165.70,683.02L166.70,683.02L167.70,683.03L168.70,683.03L169.70,683.03L170.70,683.03L171.70,683.04L172.70,683.04L173.70,683.04L174.70,683.04L175.70,683.05L176.70,683.05L177.70,683.05L178.70,683.05L179.70,683.06L180.70,683.06L181.70,683.06L182.70,683.07L183.70,683.07L184.70,683.07L185.70,683.08L186.70,683.08L187.70,683.08L188.70,683.09L189.70,683.09L190.70,683.09L191.70,683.10L192.70,683.10L193.70,683.11L194.70,683.11L195.70,683.11L196.70,683.12L197.70,683.12L198.70,683.13L199.70,683.13L200.70,683.14L201.70,683.14L202.70,683.15L203.70,683.15L204.70,683.16L205.70,683.16L206.70,683.17L207.70,683.17L208.70,683.18L209.70,683.18L210.70,683.19L211.70,683.19L212.70,683.20L213.70,683.20L214.70,683.21L215.70,683.21L216.70,683.22L217.70,683.22L218.70,683.23L219.70,683.24L220.70,683.24L221.70,683.25L222.70,683.25L223.70,683.26L224.70,683.27L225.70,683.27L226.70,683.28L227.70,683.29L228.70,683.29L229.70,683.30L230.70,683.31L231.70,683.31L232.70,683.32L233.70,683.33L234.70,683.33L235.70,683.34L236.70,683.35L237.70,683.35L238.70,683.36L239.70,683.37L240.70,683.38L241.70,683.38L242.70,683.39L243.70,683.40L244.70,683.41L245.70,683.41L246.70,683.42L247.70,683.43L248.70,683.44L249.70,683.45L250.70,683.45L251.70,683.46L252.70,683.47L253.70,683.48L254.70,683.49L255.70,683.50L256.70,683.50L257.70,683.51L258.70,683.52L259.70,683.53L260.70,683.54L261.70,683.55L262.70,683.56L263.70,683.57L264.70,683.58L265.70,683.59L266.70,683.59L267.70,683.60L268.70,683.61L269.70,683.62L270.70,683.63L271.70,683.64L272.70,683.65L273.70,683.66L274.70,683.67L275.70,683.68L276.70,683.69L277.70,683.70L278.70,683.71L279.70,683.72L280.70,683.73L281.70,683.74L282.70,683.75L283.70,683.76L284.70,683.77L285.70,683.78L286.70,683.80L287.70,683.81L288.70,683.82L289.70,683.83L290.70,683.84L291.70,683.85L292.70,683.86L293.70,683.87L294.70,683.88L295.70,683.90L296.70,683.91L297.70,683.92L298.70,683.93L299.70,683.94L300.70,683.95L301.70,683.97L302.70,683.98L303.70,683.99L304.70,684.00L305.70,684.01L306.70,684.03L307.70,684.04L308.70,684.05L309.70,684.06L310.70,684.08L311.70,684.09L312.70,684.10L313.70,684.11L314.70,684.13L315.70,684.14L316.70,684.15L317.70,684.16L318.70,684.18L319.70,684.19L320.70,684.20L321.70,684.22L322.70,684.23L323.70,684.24L324.70,684.26L325.70,684.27L326.70,684.28L327.70,684.30L328.70,684.31L329.70,684.33L330.70,684.34L331.70,684.35L332.70,684.37L333.70,684.38L334.70,684.40L335.70,684.41L336.70,684.43L337.70,684.44L338.70,684.45L339.70,684.47L340.70,684.48L341.70,684.50L342.70,684.51L343.70,684.53L344.70,684.54L345.70,684.56L346.70,684.57L347.70,684.59L348.70,684.60L349.70,684.62L350.70,684.63L351.70,684.65L352.70,684.66L353.70,684.68L354.70,684.70L355.70,684.71L356.70,684.73L357.70,684.74L358.70,684.76L359.70,684.78L360.70,684.79L361.70,684.81L362.70,684.82L363.70,684.84L364.70,684.86L365.70,684.87L366.70,684.89L367.70,684.91L368.70,684.92L369.70,684.94L370.70,684.96L371.70,684.97L372.70,684.99L373.70,685.01L374.70,685.02L375.70,685.04L376.70,685.06L377.70,685.08L378.70,685.09L379.70,685.11L380.70,685.13L381.70,685.15L382.70,685.16L383.70,685.18L384.70,685.20L385.70,685.22L386.70,685.24L387.70,685.25L388.70,685.27L389.70,685.29L390.70,685.31L391.70,685.33L392.70,685.34L393.70,685.36L394.70,685.38L395.70,685.40L396.70,685.42L397.70,685.44L398.70,685.46L399.70,685.48L400.70,685.49L401.70,685.51L402.70,685.53L403.70,685.55L404.70,685.57L405.70,685.59L406.70,685.61L407.70,685.63L408.70,685.65L409.70,685.67L410.70,685.69L411.70,685.71L412.70,685.73L413.70,685.75L414.70,685.77L415.70,685.79L416.70,685.81L417.70,685.83L418.70,685.85L419.70,685.87L420.70,685.89L421.70,685.91L422.70,685.93L423.70,685.95L424.70,685.97L425.70,685.99L426.70,686.01L427.70,686.03L428.70,686.06L429.70,686.08L430.70,686.10L431.70,686.12L432.70,686.14L433.70,686.16L434.70,686.18L435.70,686.20L436.70,686.23L437.70,686.25L438.70,686.27L439.70,686.29L440.70,686.31L441.70,686.33L442.70,686.36L443.70,686.38L444.70,686.40L445.70,686.42L446.70,686.44L447.70,686.47L448.70,686.49L449.70,686.51L450.70,686.53L451.70,686.56L452.70,686.58L453.70,686.60L454.70,686.63L455.70,686.65L456.70,686.67L457.70,686.69L458.70,686.72L459.70,686.74L460.70,686.76L461.70,686.79L462.70,686.81L463.70,686.83L464.70,686.86L465.70,686.88L466.70,686.90L467.70,686.93L468.70,686.95L469.70,686.97L470.70,687.00L471.70,687.02L472.70,687.05L473.70,687.07L474.70,687.09L475.70,687.12L476.70,687.14L477.70,687.17L478.70,687.19L479.70,687.21L480.70,687.24L481.70,687.26L482.70,687.29L483.70,687.31L484.70,687.34L485.70,687.36L486.70,687.39L487.70,687.41L488.70,687.44L489.70,687.46L490.70,687.49L491.70,687.51L492.70,687.54L493.70,687.56L494.70,687.59L495.70,687.61L496.70,687.64L497.70,687.66L498.70,687.69L499.70,687.71L500.70,687.74L501.70,687.76L502.70,687.79L503.70,687.81L504.70,687.84L505.70,687.87L506.70,687.89L507.70,687.92L508.70,687.94L509.70,687.97L510.70,687.99L511.70,688.02L512.70,688.05L513.70,688.07L514.70,688.10L515.70,688.13L516.70,688.15L517.70,688.18L518.70,688.20L519.70,688.23L520.70,688.26L521.70,688.28L522.70,688.31L523.70,688.34L524.70,688.36L525.70,688.39L526.70,688.42L527.70,688.44L528.70,688.47L529.70,688.50L530.70,688.52L531.70,688.55L532.70,688.58L533.70,688.60L534.70,688.63L535.70,688.66L536.70,688.69L537.70,688.71L538.70,688.74L539.70,688.77L540.70,688.79L541.70,688.82L542.70,688.85L543.70,688.88L544.70,688.90L545.70,688.93L546.70,688.96L547.70,688.99L548.70,689.01L549.70,689.04L550.70,689.07L551.70,689.10L552.70,689.12L553.70,689.15L554.70,689.18L555.70,689.21L556.70,689.24L557.70,689.26L558.70,689.29L559.70,689.32L560.70,689.35L561.70,689.38L562.70,689.40L563.70,689.43L564.70,689.46L565.70,689.49L566.70,689.52L567.70,689.55L568.70,689.57L569.70,689.60L570.70,689.63L571.70,689.66L572.70,689.69L573.70,689.72L574.70,689.74L575.70,689.77L576.70,689.80L577.70,689.83L578.70,689.86L579.70,689.89L580.70,689.92L581.70,689.94L582.70,689.97L583.70,690.00L584.70,690.03L585.70,690.06L586.70,690.09L587.70,690.12L588.70,690.15L589.70,690.18L590.70,690.20L591.70,690.23L592.70,690.26L593.70,690.29L594.70,690.32L595.70,690.35L596.70,690.38L597.70,690.41L598.70,690.44L599.70,690.47L600.70,690.50L601.70,690.52L602.70,690.55L603.70,690.58L604.70,690.61L605.70,690.64L606.70,690.67L607.70,690.70L608.70,690.73L609.70,690.76L610.70,690.79L611.70,690.82L612.70,690.85L613.70,690.88L614.70,690.91L615.70,690.94L616.70,690.97L617.70,691.00L618.70,691.03L619.70,691.05L620.70,691.08L621.70,691.11L622.70,691.14L623.70,691.17L624.70,691.20L625.70,691.23L626.70,691.26L627.70,691.29L628.70,691.32L629.70,691.35L630.70,691.38L631.70,691.41L632.70,691.44L633.70,691.47L634.70,691.50L635.70,691.53L636.70,691.56L637.70,691.59L638.70,691.62L639.70,691.65L640.70,691.68L641.70,691.71L642.70,691.74L643.70,691.77L644.70,691.80L645.70,691.83L646.70,691.86L647.70,691.89L648.70,691.92L649.70,691.95L650.70,691.98L651.70,692.01L652.70,692.04L653.70,692.07L654.70,692.11L655.70,692.14L656.70,692.17L657.70,692.20L658.70,692.23L659.70,692.26L660.70,692.30L661.70,692.33L662.70,692.36L663.70,692.40L664.70,692.43L665.70,692.46L666.70,692.50L667.70,692.53L668.70,692.57L669.70,692.60L670.70,692.64L671.70,692.68L672.70,692.71L673.70,692.75L674.70,692.79L675.70,692.83L676.70,692.86L677.70,692.90L678.70,692.94L679.70,692.98L680.70,693.02L681.70,693.07L682.70,693.11L683.70,693.15L684.70,693.19L685.70,693.24L686.70,693.28L687.70,693.33L688.70,693.37L689.70,693.42L690.70,693.47L691.70,693.52L692.70,693.57L693.70,693.62L694.70,693.67L695.70,693.72L696.70,693.77L697.70,693.82L698.70,693.88L699.70,693.93L700.70,693.99L701.70,694.04L702.70,694.10L703.70,694.16L704.70,694.22L705.70,694.28L706.70,694.34L707.70,694.40L708.70,694.46L709.70,694.53L710.70,694.59L711.70,694.66L712.70,694.73L713.70,694.79L714.70,694.86L715.70,694.93L716.70,695.01L717.70,695.08L718.70,695.15L719.70,695.23L720.70,695.30L721.70,695.38L722.70,695.46L723.70,695.54L724.70,695.62L725.70,695.70L726.70,695.79L727.70,695.87L728.70,695.96L729.70,696.04L730.70,696.13L731.70,696.22L732.70,696.31L733.70,696.41L734.70,696.50L735.70,696.60L736.70,696.69L737.70,696.79L738.70,696.89L739.70,696.99L740.70,697.10L741.70,697.20L742.70,697.31L743.70,697.41L744.70,697.52L745.70,697.63L746.70,697.75L747.70,697.86L748.70,697.97L749.70,698.09L750.70,698.21L751.70,698.33L752.70,698.45L753.70,698.58L754.70,698.70L755.70,698.83L756.70,698.96L757.70,699.09L758.70,699.22L759.70,699.35L760.70,699.49L761.70,699.62L762.70,699.76L763.70,699.91L764.70,700.05L765.70,700.19L766.70,700.34L767.70,700.49L768.70,700.64L769.70,700.79L770.70,700.94L771.70,701.10L772.70,701.26L773.70,701.42L774.70,701.58L775.70,701.75L776.70,701.91L777.70,702.08L778.70,702.25L779.70,702.42L780.70,702.60L781.70,702.77L782.70,702.95L783.70,703.13L784.70,703.31L785.70,703.49L786.70,703.68L787.70,703.87L788.70,704.06L789.70,704.25L790.70,704.44L791.70,704.63L792.70,704.83L793.70,705.03L794.70,705.23L795.70,705.43L796.70,705.64L797.70,705.84L798.70,706.05L799.70,706.26L800.70,706.47L801.70,706.69L802.70,706.90L803.70,707.12L804.70,707.34L805.70,707.56L806.70,707.78L807.70,708.01L808.70,708.23L809.70,708.46L810.70,708.69L811.70,708.93L812.70,709.16L813.70,709.40L814.70,709.63L815.70,709.87L816.70,710.11L817.70,710.36L818.70,710.60L819.70,710.85L820.70,711.10L821.70,711.35L822.70,711.60L823.70,711.85L824.70,712.11L825.70,712.36L826.70,712.62L827.70,712.88L828.70,713.15L829.70,713.41L830.70,713.68L831.70,713.95L832.70,714.22L833.70,714.49L834.70,714.76L835.70,715.03L836.70,715.31L837.70,715.59L838.70,715.87L839.70,716.15L840.70,716.43L841.70,716.72L842.70,717.01L843.70,717.30L844.70,717.59L845.70,717.88L846.70,718.17L847.70,718.47L848.70,718.76L849.70,719.06L850.70,719.36L851.70,719.66L852.70,719.97L853.70,720.27L854.70,720.58L855.70,720.89L856.70,721.20L857.70,721.51L858.70,721.83L859.70,722.14L860.70,722.46L861.70,722.78L862.70,723.10L863.70,723.43L864.70,723.76L865.70,724.09L866.70,724.43L867.70,724.77L868.70,725.11L869.70,725.47L870.70,725.82L871.70,726.18L872.70,726.55L873.70,726.92L874.70,727.30L875.70,727.69L876.70,728.08L877.70,728.48L878.70,728.89L879.70,729.30L880.70,729.73L881.70,730.16L882.70,730.60L883.70,731.05L884.70,731.51L885.70,731.98L886.70,732.46L887.70,732.95L888.70,733.45L889.70,733.96L890.70,734.48L891.70,735.01L892.70,735.56L893.70,736.11L894.70,736.68L895.70,737.26L896.70,737.86L897.70,738.47L898.70,739.09L899.70,739.72L900.70,740.37L901.70,741.04L902.70,741.72L903.70,742.41L904.70,743.12L905.70,743.84L906.70,744.59L907.70,745.34L908.70,746.12L909.70,746.91L910.70,747.71L911.70,748.54L912.70,749.38L913.70,750.24L914.70,751.13L915.70,752.03L916.70,752.95L917.70,753.89L918.70,754.85L919.70,755.83L920.70,756.83L921.70,757.86L922.70,758.91L923.70,759.98L924.70,761.08L925.70,762.20L926.70,763.34L927.70,764.51L928.70,765.71L929.70,766.93L930.70,768.18L931.70,769.45L932.70,770.75L933.70,772.08L934.70,773.44L935.70,774.83L936.70,776.24L937.70,777.69L938.70,779.16L939.70,780.67L940.70,782.21L941.70,783.79L942.70,785.40L943.70,787.04L944.70,788.72L945.70,790.43L946.70,792.18L947.70,793.98L948.70,795.81L949.70,797.67L950.70,799.59L951.70,801.54L952.70,803.53L953.70,805.57L954.70,807.64L955.70,809.76L956.70,811.91L957.70,814.09L958.70,816.31L959.70,818.55L960.70,820.82L961.70,823.11L962.70,825.42L963.70,827.74L964.70,830.09L965.70,832.44L966.70,834.81L967.70,837.19L968.70,839.59L969.70,842.01L970.70,844.45L971.70,846.92L972.70,849.42L973.70,851.95L974.70,854.52L975.70,857.14L976.70,859.79L977.70,862.49L978.70,865.23L979.70,868.01L980.70,870.81L981.70,873.63L982.70,876.46L983.70,879.30L984.70,882.14L985.70,884.97L986.70,887.78L987.10,888.90" stroke="#D95319" stroke-width="5.0" stroke-linejoin="round" stroke-linecap="round" clip-path="url(#clipsb)"/>
<path d="M126.70,756.00L126.90,756.00L127.10,756.00L127.30,756.00L127.50,756.01L127.70,756.01L127.90,756.01L128.10,756.01L128.30,756.01L128.50,756.01L128.70,756.01L128.90,756.01L129.10,756.01L129.30,756.02L129.50,756.02L129.70,756.02L129.90,756.02L130.10,756.02L130.30,756.02L130.50,756.02L130.70,756.02L130.90,756.03L131.10,756.03L131.30,756.03L131.50,756.03L131.70,756.03L131.90,756.03L132.10,756.03L132.30,756.03L132.50,756.04L132.70,756.04L132.90,756.04L133.10,756.04L133.30,756.04L133.50,756.04L133.70,756.04L133.90,756.04L134.10,756.04L134.30,756.05L134.50,756.05L134.70,756.05L134.90,756.05L135.10,756.05L135.30,756.05L135.50,756.05L135.70,756.05L135.90,756.06L136.10,756.06L136.30,756.06L136.50,756.06L136.70,756.06L136.90,756.06L137.10,756.06L137.30,756.06L137.50,756.06L137.70,756.07L137.90,756.07L138.10,756.07L138.30,756.07L138.50,756.07L138.70,756.07L138.90,756.07L139.10,756.07L139.30,756.07L139.50,756.08L139.70,756.08L139.90,756.08L140.10,756.08L140.30,756.08L140.50,756.08L140.70,756.08L140.90,756.08L141.10,756.08L141.30,756.09L141.50,756.09L141.70,756.09L141.90,756.09L142.10,756.09L142.30,756.09L142.50,756.09L142.70,756.09L142.90,756.09L143.10,756.09L143.30,756.10L143.50,756.10L143.70,756.10L143.90,756.10L144.10,756.10L144.30,756.10L144.50,756.10L144.70,756.10L144.90,756.10L145.10,756.11L145.30,756.11L145.50,756.11L145.70,756.11L145.90,756.11L146.10,756.11L146.30,756.11L146.50,756.11L146.70,756.11L146.90,756.11L147.10,756.12L147.30,756.12L147.50,756.12L147.70,756.12L147.90,756.12L148.10,756.12L148.30,756.12L148.50,756.12L148.70,756.12L148.90,756.12L149.10,756.13L149.30,756.13L149.50,756.13L149.70,756.13L149.90,756.13L150.10,756.13L150.30,756.13L150.50,756.13L150.70,756.13L150.90,756.13L151.10,756.13L151.30,756.14L151.50,756.14L151.70,756.14L152.70,756.14L153.70,756.15L154.70,756.15L155.70,756.16L156.70,756.16L157.70,756.16L158.70,756.17L159.70,756.17L160.70,756.18L161.70,756.18L162.70,756.19L163.70,756.19L164.70,756.19L165.70,756.20L166.70,756.20L167.70,756.21L168.70,756.21L169.70,756.21L170.70,756.22L171.70,756.22L172.70,756.22L173.70,756.23L174.70,756.23L175.70,756.24L176.70,756.24L177.70,756.24L178.70,756.25L179.70,756.25L180.70,756.25L181.70,756.26L182.70,756.26L183.70,756.26L184.70,756.27L185.70,756.27L186.70,756.27L187.70,756.27L188.70,756.28L189.70,756.28L190.70,756.28L191.70,756.29L192.70,756.29L193.70,756.29L194.70,756.30L195.70,756.30L196.70,756.30L197.70,756.30L198.70,756.31L199.70,756.31L200.70,756.31L201.70,756.31L202.70,756.32L203.70,756.32L204.70,756.32L205.70,756.32L206.70,756.33L207.70,756.33L208.70,756.33L209.70,756.33L210.70,756.34L211.70,756.34L212.70,756.34L213.70,756.34L214.70,756.34L215.70,756.35L216.70,756.35L217.70,756.35L218.70,756.35L219.70,756.36L220.70,756.36L221.70,756.36L222.70,756.36L223.70,756.36L224.70,756.37L225.70,756.37L226.70,756.37L227.70,756.37L228.70,756.37L229.70,756.38L230.70,756.38L231.70,756.38L232.70,756.38L233.70,756.38L234.70,756.39L235.70,756.39L236.70,756.39L237.70,756.39L238.70,756.39L239.70,756.40L240.70,756.40L241.70,756.40L242.70,756.40L243.70,756.40L244.70,756.40L245.70,756.41L246.70,756.41L247.70,756.41L248.70,756.41L249.70,756.41L250.70,756.42L251.70,756.42L252.70,756.42L253.70,756.42L254.70,756.42L255.70,756.42L256.70,756.43L257.70,756.43L258.70,756.43L259.70,756.43L260.70,756.43L261.70,756.44L262.70,756.44L263.70,756.44L264.70,756.44L265.70,756.44L266.70,756.44L267.70,756.45L268.70,756.45L269.70,756.45L270.70,756.45L271.70,756.45L272.70,756.46L273.70,756.46L274.70,756.46L275.70,756.46L276.70,756.46L277.70,756.47L278.70,756.47L279.70,756.47L280.70,756.47L281.70,756.47L282.70,756.48L283.70,756.48L284.70,756.48L285.70,756.48L286.70,756.48L287.70,756.49L288.70,756.49L289.70,756.49L290.70,756.49L291.70,756.49L292.70,756.50L293.70,756.50L294.70,756.50L295.70,756.50L296.70,756.51L297.70,756.51L298.70,756.51L299.70,756.51L300.70,756.52L301.70,756.52L302.70,756.52L303.70,756.52L304.70,756.53L305.70,756.53L306.70,756.53L307.70,756.53L308.70,756.54L309.70,756.54L310.70,756.54L311.70,756.54L312.70,756.55L313.70,756.55L314.70,756.55L315.70,756.56L316.70,756.56L317.70,756.56L318.70,756.56L319.70,756.57L320.70,756.57L321.70,756.57L322.70,756.58L323.70,756.58L324.70,756.58L325.70,756.59L326.70,756.59L327.70,756.59L328.70,756.60L329.70,756.60L330.70,756.60L331.70,756.61L332.70,756.61L333.70,756.61L334.70,756.62L335.70,756.62L336.70,756.63L337.70,756.63L338.70,756.63L339.70,756.64L340.70,756.64L341.70,756.65L342.70,756.65L343.70,756.65L344.70,756.66L345.70,756.66L346.70,756.67L347.70,756.67L348.70,756.68L349.70,756.68L350.70,756.68L351.70,756.69L352.70,756.69L353.70,756.70L354.70,756.70L355.70,756.71L356.70,756.71L357.70,756.72L358.70,756.72L359.70,756.73L360.70,756.73L361.70,756.74L362.70,756.74L363.70,756.75L364.70,756.75L365.70,756.76L366.70,756.76L367.70,756.77L368.70,756.77L369.70,756.78L370.70,756.79L371.70,756.79L372.70,756.80L373.70,756.80L374.70,756.81L375.70,756.82L376.70,756.82L377.70,756.83L378.70,756.83L379.70,756.84L380.70,756.85L381.70,756.85L382.70,756.86L383.70,756.87L384.70,756.87L385.70,756.88L386.70,756.89L387.70,756.89L388.70,756.90L389.70,756.91L390.70,756.91L391.70,756.92L392.70,756.93L393.70,756.94L394.70,756.94L395.70,756.95L396.70,756.96L397.70,756.97L398.70,756.97L399.70,756.98L400.70,756.99L401.70,757.00L402.70,757.01L403.70,757.01L404.70,757.02L405.70,757.03L406.70,757.04L407.70,757.05L408.70,757.06L409.70,757.07L410.70,757.07L411.70,757.08L412.70,757.09L413.70,757.10L414.70,757.11L415.70,757.12L416.70,757.13L417.70,757.14L418.70,757.15L419.70,757.16L420.70,757.17L421.70,757.18L422.70,757.19L423.70,757.20L424.70,757.21L425.70,757.22L426.70,757.23L427.70,757.24L428.70,757.25L429.70,757.26L430.70,757.27L431.70,757.28L432.70,757.29L433.70,757.30L434.70,757.31L435.70,757.32L436.70,757.34L437.70,757.35L438.70,757.36L439.70,757.37L440.70,757.38L441.70,757.39L442.70,757.41L443.70,757.42L444.70,757.43L445.70,757.44L446.70,757.45L447.70,757.47L448.70,757.48L449.70,757.49L450.70,757.50L451.70,757.52L452.70,757.53L453.70,757.54L454.70,757.56L455.70,757.57L456.70,757.58L457.70,757.60L458.70,757.61L459.70,757.62L460.70,757.64L461.70,757.65L462.70,757.66L463.70,757.68L464.70,757.69L465.70,757.71L466.70,757.72L467.70,757.73L468.70,757.75L469.70,757.76L470.70,757.78L471.70,757.79L472.70,757.81L473.70,757.82L474.70,757.84L475.70,757.85L476.70,757.87L477.70,757.88L478.70,757.90L479.70,757.91L480.70,757.93L481.70,757.94L482.70,757.96L483.70,757.97L484.70,757.99L485.70,758.01L486.70,758.02L487.70,758.04L488.70,758.05L489.70,758.07L490.70,758.09L491.70,758.10L492.70,758.12L493.70,758.14L494.70,758.15L495.70,758.17L496.70,758.19L497.70,758.20L498.70,758.22L499.70,758.24L500.70,758.25L501.70,758.27L502.70,758.29L503.70,758.31L504.70,758.32L505.70,758.34L506.70,758.36L507.70,758.38L508.70,758.40L509.70,758.41L510.70,758.43L511.70,758.45L512.70,758.47L513.70,758.49L514.70,758.50L515.70,758.52L516.70,758.54L517.70,758.56L518.70,758.58L519.70,758.60L520.70,758.62L521.70,758.64L522.70,758.66L523.70,758.67L524.70,758.69L525.70,758.71L526.70,758.73L527.70,758.75L528.70,758.77L529.70,758.79L530.70,758.81L531.70,758.83L532.70,758.85L533.70,758.87L534.70,758.89L535.70,758.91L536.70,758.93L537.70,758.95L538.70,758.97L539.70,758.99L540.70,759.01L541.70,759.03L542.70,759.06L543.70,759.08L544.70,759.10L545.70,759.12L546.70,759.14L547.70,759.16L548.70,759.18L549.70,759.20L550.70,759.22L551.70,759.25L552.70,759.27L553.70,759.29L554.70,759.31L555.70,759.33L556.70,759.35L557.70,759.38L558.70,759.40L559.70,759.42L560.70,759.44L561.70,759.46L562.70,759.49L563.70,759.51L564.70,759.53L565.70,759.55L566.70,759.58L567.70,759.60L568.70,759.62L569.70,759.65L570.70,759.67L571.70,759.69L572.70,759.72L573.70,759.74L574.70,759.76L575.70,759.78L576.70,759.81L577.70,759.83L578.70,759.86L579.70,759.88L580.70,759.90L581.70,759.93L582.70,759.95L583.70,759.97L584.70,760.00L585.70,760.02L586.70,760.05L587.70,760.07L588.70,760.10L589.70,760.12L590.70,760.14L591.70,760.17L592.70,760.19L593.70,760.22L594.70,760.24L595.70,760.27L596.70,760.29L597.70,760.32L598.70,760.34L599.70,760.37L600.70,760.39L601.70,760.42L602.70,760.44L603.70,760.47L604.70,760.49L605.70,760.52L606.70,760.55L607.70,760.57L608.70,760.60L609.70,760.62L610.70,760.65L611.70,760.68L612.70,760.70L613.70,760.73L614.70,760.75L615.70,760.78L616.70,760.81L617.70,760.83L618.70,760.86L619.70,760.89L620.70,760.91L621.70,760.94L622.70,760.97L623.70,760.99L624.70,761.02L625.70,761.05L626.70,761.07L627.70,761.10L628.70,761.13L629.70,761.16L630.70,761.18L631.70,761.21L632.70,761.24L633.70,761.26L634.70,761.29L635.70,761.32L636.70,761.35L637.70,761.38L638.70,761.40L639.70,761.43L640.70,761.46L641.70,761.49L642.70,761.52L643.70,761.54L644.70,761.57L645.70,761.60L646.70,761.63L647.70,761.66L648.70,761.69L649.70,761.71L650.70,761.74L651.70,761.77L652.70,761.80L653.70,761.83L654.70,761.86L655.70,761.89L656.70,761.92L657.70,761.95L658.70,761.98L659.70,762.01L660.70,762.04L661.70,762.07L662.70,762.10L663.70,762.13L664.70,762.16L665.70,762.20L666.70,762.23L667.70,762.26L668.70,762.29L669.70,762.32L670.70,762.36L671.70,762.39L672.70,762.42L673.70,762.46L674.70,762.49L675.70,762.53L676.70,762.56L677.70,762.59L678.70,762.63L679.70,762.67L680.70,762.70L681.70,762.74L682.70,762.77L683.70,762.81L684.70,762.85L685.70,762.89L686.70,762.92L687.70,762.96L688.70,763.00L689.70,763.04L690.70,763.08L691.70,763.12L692.70,763.16L693.70,763.20L694.70,763.25L695.70,763.29L696.70,763.33L697.70,763.37L698.70,763.42L699.70,763.46L700.70,763.51L701.70,763.55L702.70,763.60L703.70,763.64L704.70,763.69L705.70,763.74L706.70,763.78L707.70,763.83L708.70,763.88L709.70,763.93L710.70,763.98L711.70,764.03L712.70,764.08L713.70,764.13L714.70,764.19L715.70,764.24L716.70,764.29L717.70,764.35L718.70,764.40L719.70,764.46L720.70,764.51L721.70,764.57L722.70,764.63L723.70,764.69L724.70,764.75L725.70,764.81L726.70,764.87L727.70,764.93L728.70,764.99L729.70,765.05L730.70,765.11L731.70,765.18L732.70,765.24L733.70,765.31L734.70,765.37L735.70,765.44L736.70,765.51L737.70,765.58L738.70,765.65L739.70,765.72L740.70,765.79L741.70,765.86L742.70,765.93L743.70,766.01L744.70,766.08L745.70,766.16L746.70,766.23L747.70,766.31L748.70,766.39L749.70,766.46L750.70,766.54L751.70,766.62L752.70,766.71L753.70,766.79L754.70,766.87L755.70,766.96L756.70,767.04L757.70,767.13L758.70,767.21L759.70,767.30L760.70,767.39L761.70,767.48L762.70,767.57L763.70,767.66L764.70,767.75L765.70,767.85L766.70,767.94L767.70,768.04L768.70,768.14L769.70,768.23L770.70,768.33L771.70,768.43L772.70,768.53L773.70,768.64L774.70,768.74L775.70,768.84L776.70,768.95L777.70,769.06L778.70,769.16L779.70,769.27L780.70,769.38L781.70,769.49L782.70,769.61L783.70,769.72L784.70,769.84L785.70,769.95L786.70,770.07L787.70,770.19L788.70,770.31L789.70,770.43L790.70,770.56L791.70,770.68L792.70,770.81L793.70,770.94L794.70,771.07L795.70,771.20L796.70,771.34L797.70,771.47L798.70,771.61L799.70,771.75L800.70,771.89L801.70,772.03L802.70,772.17L803.70,772.32L804.70,772.46L805.70,772.61L806.70,772.76L807.70,772.92L808.70,773.07L809.70,773.23L810.70,773.39L811.70,773.55L812.70,773.71L813.70,773.87L814.70,774.04L815.70,774.21L816.70,774.38L817.70,774.55L818.70,774.73L819.70,774.91L820.70,775.09L821.70,775.27L822.70,775.45L823.70,775.64L824.70,775.83L825.70,776.02L826.70,776.21L827.70,776.41L828.70,776.60L829.70,776.80L830.70,777.01L831.70,777.21L832.70,777.42L833.70,777.63L834.70,777.84L835.70,778.06L836.70,778.28L837.70,778.50L838.70,778.72L839.70,778.95L840.70,779.17L841.70,779.41L842.70,779.64L843.70,779.88L844.70,780.12L845.70,780.36L846.70,780.60L847.70,780.85L848.70,781.10L849.70,781.35L850.70,781.61L851.70,781.87L852.70,782.13L853.70,782.40L854.70,782.67L855.70,782.94L856.70,783.21L857.70,783.49L858.70,783.77L859.70,784.05L860.70,784.34L861.70,784.63L862.70,784.93L863.70,785.22L864.70,785.53L865.70,785.83L866.70,786.15L867.70,786.46L868.70,786.78L869.70,787.11L870.70,787.44L871.70,787.77L872.70,788.11L873.70,788.46L874.70,788.81L875.70,789.17L876.70,789.54L877.70,789.91L878.70,790.29L879.70,790.67L880.70,791.06L881.70,791.46L882.70,791.86L883.70,792.28L884.70,792.70L885.70,793.12L886.70,793.56L887.70,794.00L888.70,794.45L889.70,794.91L890.70,795.38L891.70,795.86L892.70,796.35L893.70,796.84L894.70,797.35L895.70,797.86L896.70,798.38L897.70,798.92L898.70,799.46L899.70,800.01L900.70,800.57L901.70,801.15L902.70,801.73L903.70,802.33L904.70,802.93L905.70,803.55L906.70,804.18L907.70,804.82L908.70,805.47L909.70,806.13L910.70,806.81L911.70,807.49L912.70,808.19L913.70,808.90L914.70,809.63L915.70,810.37L916.70,811.12L917.70,811.88L918.70,812.66L919.70,813.45L920.70,814.26L921.70,815.08L922.70,815.92L923.70,816.77L924.70,817.63L925.70,818.51L926.70,819.41L927.70,820.32L928.70,821.25L929.70,822.20L930.70,823.16L931.70,824.13L932.70,825.13L933.70,826.14L934.70,827.17L935.70,828.21L936.70,829.28L937.70,830.36L938.70,831.47L939.70,832.59L940.70,833.74L941.70,834.92L942.70,836.11L943.70,837.34L944.70,838.59L945.70,839.88L946.70,841.19L947.70,842.54L948.70,843.92L949.70,845.33L950.70,846.79L951.70,848.27L952.70,849.80L953.70,851.36L954.70,852.97L955.70,854.61L956.70,856.28L957.70,857.98L958.70,859.72L959.70,861.48L960.70,863.27L961.70,865.08L962.70,866.91L963.70,868.76L964.70,870.63L965.70,872.52L966.70,874.42L967.70,876.34L968.70,878.29L969.70,880.27L970.70,882.28L971.70,884.33L972.70,886.44L973.70,888.59L974.70,890.80L975.70,893.08L976.70,895.42L977.70,897.84L978.70,900.30L979.70,902.78L980.70,905.25L981.70,907.67L982.70,910.03L983.70,912.28L984.70,914.41L985.70,916.37L986.70,918.15L987.10,918.80" stroke="#7E2F8E" stroke-width="5.0" stroke-linejoin="round" stroke-linecap="round" clip-path="url(#clipsb)"/>
<path d="M126.70,682.80L126.90,682.80L127.10,682.80L127.30,682.80L127.50,682.80L127.70,682.80L127.90,682.80L128.10,682.80L128.30,682.80L128.50,682.80L128.70,682.80L128.90,682.80L129.10,682.80L129.30,682.80L129.50,682.80L129.70,682.80L129.90,682.80L130.10,682.80L130.30,682.80L130.50,682.80L130.70,682.81L130.90,682.81L131.10,682.81L131.30,682.81L131.50,682.81L131.70,682.81L131.90,682.81L132.10,682.81L132.30,682.81L132.50,682.81L132.70,682.81L132.90,682.81L133.10,682.81L133.30,682.81L133.50,682.81L133.70,682.81L133.90,682.81L134.10,682.81L134.30,682.81L134.50,682.81L134.70,682.81L134.90,682.81L135.10,682.81L135.30,682.81L135.50,682.81L135.70,682.81L135.90,682.81L136.10,682.81L136.30,682.81L136.50,682.81L136.70,682.81L136.90,682.81L137.10,682.81L137.30,682.81L137.50,682.81L137.70,682.81L137.90,682.82L138.10,682.82L138.30,682.82L138.50,682.82L138.70,682.82L138.90,682.82L139.10,682.82L139.30,682.82L139.50,682.82L139.70,682.82L139.90,682.82L140.10,682.82L140.30,682.82L140.50,682.82L140.70,682.82L140.90,682.82L141.10,682.82L141.30,682.82L141.50,682.82L141.70,682.82L141.90,682.82L142.10,682.82L142.30,682.82L142.50,682.82L142.70,682.82L142.90,682.82L143.10,682.82L143.30,682.82L143.50,682.82L143.70,682.82L143.90,682.82L144.10,682.82L144.30,682.82L144.50,682.82L144.70,682.83L144.90,682.83L145.10,682.83L145.30,682.83L145.50,682.83L145.70,682.83L145.90,682.83L146.10,682.83L146.30,682.83L146.50,682.83L146.70,682.83L146.90,682.83L147.10,682.83L147.30,682.83L147.50,682.83L147.70,682.83L147.90,682.83L148.10,682.83L148.30,682.83L148.50,682.83L148.70,682.83L148.90,682.83L149.10,682.83L149.30,682.83L149.50,682.83L149.70,682.83L149.90,682.83L150.10,682.83L150.30,682.83L150.50,682.83L150.70,682.83L150.90,682.83L151.10,682.83L151.30,682.84L151.50,682.84L151.70,682.84L152.70,682.84L153.70,682.84L154.70,682.84L155.70,682.84L156.70,682.84L157.70,682.85L158.70,682.85L159.70,682.85L160.70,682.85L161.70,682.85L162.70,682.85L163.70,682.86L164.70,682.86L165.70,682.86L166.70,682.86L167.70,682.86L168.70,682.87L169.70,682.87L170.70,682.87L171.70,682.87L172.70,682.87L173.70,682.88L174.70,682.88L175.70,682.88L176.70,682.88L177.70,682.88L178.70,682.89L179.70,682.89L180.70,682.89L181.70,682.89L182.70,682.89L183.70,682.90L184.70,682.90L185.70,682.90L186.70,682.90L187.70,682.90L188.70,682.91L189.70,682.91L190.70,682.91L191.70,682.91L192.70,682.92L193.70,682.92L194.70,682.92L195.70,682.92L196.70,682.93L197.70,682.93L198.70,682.93L199.70,682.93L200.70,682.94L201.70,682.94L202.70,682.94L203.70,682.94L204.70,682.95L205.70,682.95L206.70,682.95L207.70,682.95L208.70,682.96L209.70,682.96L210.70,682.96L211.70,682.96L212.70,682.97L213.70,682.97L214.70,682.97L215.70,682.98L216.70,682.98L217.70,682.98L218.70,682.99L219.70,682.99L220.70,682.99L221.70,682.99L222.70,683.00L223.70,683.00L224.70,683.00L225.70,683.01L226.70,683.01L227.70,683.01L228.70,683.02L229.70,683.02L230.70,683.02L231.70,683.03L232.70,683.03L233.70,683.03L234.70,683.04L235.70,683.04L236.70,683.04L237.70,683.05L238.70,683.05L239.70,683.05L240.70,683.06L241.70,683.06L242.70,683.06L243.70,683.07L244.70,683.07L245.70,683.08L246.70,683.08L247.70,683.08L248.70,683.09L249.70,683.09L250.70,683.09L251.70,683.10L252.70,683.10L253.70,683.11L254.70,683.11L255.70,683.11L256.70,683.12L257.70,683.12L258.70,683.13L259.70,683.13L260.70,683.13L261.70,683.14L262.70,683.14L263.70,683.15L264.70,683.15L265.70,683.16L266.70,683.16L267.70,683.17L268.70,683.17L269.70,683.17L270.70,683.18L271.70,683.18L272.70,683.19L273.70,683.19L274.70,683.20L275.70,683.20L276.70,683.21L277.70,683.21L278.70,683.22L279.70,683.22L280.70,683.23L281.70,683.23L282.70,683.24L283.70,683.24L284.70,683.25L285.70,683.25L286.70,683.26L287.70,683.26L288.70,683.27L289.70,683.27L290.70,683.28L291.70,683.28L292.70,683.29L293.70,683.29L294.70,683.30L295.70,683.30L296.70,683.31L297.70,683.31L298.70,683.32L299.70,683.33L300.70,683.33L301.70,683.34L302.70,683.34L303.70,683.35L304.70,683.35L305.70,683.36L306.70,683.37L307.70,683.37L308.70,683.38L309.70,683.38L310.70,683.39L311.70,683.40L312.70,683.40L313.70,683.41L314.70,683.41L315.70,683.42L316.70,683.43L317.70,683.43L318.70,683.44L319.70,683.45L320.70,683.45L321.70,683.46L322.70,683.47L323.70,683.47L324.70,683.48L325.70,683.48L326.70,683.49L327.70,683.50L328.70,683.51L329.70,683.51L330.70,683.52L331.70,683.53L332.70,683.53L333.70,683.54L334.70,683.55L335.70,683.55L336.70,683.56L337.70,683.57L338.70,683.58L339.70,683.58L340.70,683.59L341.70,683.60L342.70,683.61L343.70,683.61L344.70,683.62L345.70,683.63L346.70,683.64L347.70,683.64L348.70,683.65L349.70,683.66L350.70,683.67L351.70,683.67L352.70,683.68L353.70,683.69L354.70,683.70L355.70,683.71L356.70,683.71L357.70,683.72L358.70,683.73L359.70,683.74L360.70,683.75L361.70,683.76L362.70,683.76L363.70,683.77L364.70,683.78L365.70,683.79L366.70,683.80L367.70,683.81L368.70,683.81L369.70,683.82L370.70,683.83L371.70,683.84L372.70,683.85L373.70,683.86L374.70,683.87L375.70,683.88L376.70,683.89L377.70,683.90L378.70,683.90L379.70,683.91L380.70,683.92L381.70,683.93L382.70,683.94L383.70,683.95L384.70,683.96L385.70,683.97L386.70,683.98L387.70,683.99L388.70,684.00L389.70,684.01L390.70,684.02L391.70,684.03L392.70,684.04L393.70,684.05L394.70,684.06L395.70,684.07L396.70,684.08L397.70,684.09L398.70,684.10L399.70,684.11L400.70,684.12L401.70,684.13L402.70,684.14L403.70,684.15L404.70,684.16L405.70,684.17L406.70,684.18L407.70,684.19L408.70,684.21L409.70,684.22L410.70,684.23L411.70,684.24L412.70,684.25L413.70,684.26L414.70,684.27L415.70,684.28L416.70,684.29L417.70,684.31L418.70,684.32L419.70,684.33L420.70,684.34L421.70,684.35L422.70,684.36L423.70,684.37L424.70,684.39L425.70,684.40L426.70,684.41L427.70,684.42L428.70,684.43L429.70,684.45L430.70,684.46L431.70,684.47L432.70,684.48L433.70,684.50L434.70,684.51L435.70,684.52L436.70,684.53L437.70,684.55L438.70,684.56L439.70,684.57L440.70,684.58L441.70,684.60L442.70,684.61L443.70,684.62L444.70,684.63L445.70,684.65L446.70,684.66L447.70,684.67L448.70,684.69L449.70,684.70L450.70,684.71L451.70,684.73L452.70,684.74L453.70,684.75L454.70,684.77L455.70,684.78L456.70,684.79L457.70,684.81L458.70,684.82L459.70,684.84L460.70,684.85L461.70,684.86L462.70,684.88L463.70,684.89L464.70,684.91L465.70,684.92L466.70,684.93L467.70,684.95L468.70,684.96L469.70,684.98L470.70,684.99L471.70,685.01L472.70,685.02L473.70,685.03L474.70,685.05L475.70,685.06L476.70,685.08L477.70,685.09L478.70,685.11L479.70,685.12L480.70,685.14L481.70,685.15L482.70,685.17L483.70,685.18L484.70,685.20L485.70,685.21L486.70,685.23L487.70,685.24L488.70,685.26L489.70,685.28L490.70,685.29L491.70,685.31L492.70,685.32L493.70,685.34L494.70,685.35L495.70,685.37L496.70,685.38L497.70,685.40L498.70,685.42L499.70,685.43L500.70,685.45L501.70,685.46L502.70,685.48L503.70,685.50L504.70,685.51L505.70,685.53L506.70,685.55L507.70,685.56L508.70,685.58L509.70,685.59L510.70,685.61L511.70,685.63L512.70,685.64L513.70,685.66L514.70,685.68L515.70,685.69L516.70,685.71L517.70,685.73L518.70,685.74L519.70,685.76L520.70,685.78L521.70,685.80L522.70,685.81L523.70,685.83L524.70,685.85L525.70,685.86L526.70,685.88L527.70,685.90L528.70,685.92L529.70,685.93L530.70,685.95L531.70,685.97L532.70,685.99L533.70,686.00L534.70,686.02L535.70,686.04L536.70,686.06L537.70,686.07L538.70,686.09L539.70,686.11L540.70,686.13L541.70,686.15L542.70,686.16L543.70,686.18L544.70,686.20L545.70,686.22L546.70,686.24L547.70,686.25L548.70,686.27L549.70,686.29L550.70,686.31L551.70,686.33L552.70,686.35L553.70,686.36L554.70,686.38L555.70,686.40L556.70,686.42L557.70,686.44L558.70,686.46L559.70,686.47L560.70,686.49L561.70,686.51L562.70,686.53L563.70,686.55L564.70,686.57L565.70,686.59L566.70,686.61L567.70,686.63L568.70,686.64L569.70,686.66L570.70,686.68L571.70,686.70L572.70,686.72L573.70,686.74L574.70,686.76L575.70,686.78L576.70,686.80L577.70,686.82L578.70,686.84L579.70,686.86L580.70,686.88L581.70,686.90L582.70,686.92L583.70,686.94L584.70,686.96L585.70,686.97L586.70,686.99L587.70,687.01L588.70,687.03L589.70,687.05L590.70,687.07L591.70,687.09L592.70,687.11L593.70,687.13L594.70,687.15L595.70,687.17L596.70,687.19L597.70,687.21L598.70,687.23L599.70,687.25L600.70,687.28L601.70,687.30L602.70,687.32L603.70,687.34L604.70,687.36L605.70,687.38L606.70,687.40L607.70,687.42L608.70,687.44L609.70,687.46L610.70,687.48L611.70,687.50L612.70,687.52L613.70,687.54L614.70,687.56L615.70,687.58L616.70,687.60L617.70,687.63L618.70,687.65L619.70,687.67L620.70,687.69L621.70,687.71L622.70,687.73L623.70,687.75L624.70,687.77L625.70,687.79L626.70,687.81L627.70,687.84L628.70,687.86L629.70,687.88L630.70,687.90L631.70,687.92L632.70,687.94L633.70,687.96L634.70,687.98L635.70,688.01L636.70,688.03L637.70,688.05L638.70,688.07L639.70,688.09L640.70,688.11L641.70,688.14L642.70,688.16L643.70,688.18L644.70,688.20L645.70,688.22L646.70,688.24L647.70,688.27L648.70,688.29L649.70,688.31L650.70,688.33L651.70,688.35L652.70,688.38L653.70,688.40L654.70,688.42L655.70,688.44L656.70,688.46L657.70,688.49L658.70,688.51L659.70,688.53L660.70,688.55L661.70,688.58L662.70,688.60L663.70,688.62L664.70,688.65L665.70,688.67L666.70,688.69L667.70,688.72L668.70,688.74L669.70,688.76L670.70,688.79L671.70,688.81L672.70,688.83L673.70,688.86L674.70,688.88L675.70,688.91L676.70,688.93L677.70,688.95L678.70,688.98L679.70,689.00L680.70,689.03L681.70,689.05L682.70,689.08L683.70,689.10L684.70,689.13L685.70,689.16L686.70,689.18L687.70,689.21L688.70,689.23L689.70,689.26L690.70,689.29L691.70,689.31L692.70,689.34L693.70,689.37L694.70,689.40L695.70,689.42L696.70,689.45L697.70,689.48L698.70,689.51L699.70,689.53L700.70,689.56L701.70,689.59L702.70,689.62L703.70,689.65L704.70,689.68L705.70,689.71L706.70,689.74L707.70,689.77L708.70,689.80L709.70,689.83L710.70,689.86L711.70,689.89L712.70,689.92L713.70,689.95L714.70,689.99L715.70,690.02L716.70,690.05L717.70,690.08L718.70,690.11L719.70,690.15L720.70,690.18L721.70,690.21L722.70,690.25L723.70,690.28L724.70,690.32L725.70,690.35L726.70,690.39L727.70,690.42L728.70,690.46L729.70,690.49L730.70,690.53L731.70,690.57L732.70,690.60L733.70,690.64L734.70,690.68L735.70,690.72L736.70,690.75L737.70,690.79L738.70,690.83L739.70,690.87L740.70,690.91L741.70,690.95L742.70,690.99L743.70,691.03L744.70,691.07L745.70,691.11L746.70,691.15L747.70,691.19L748.70,691.24L749.70,691.28L750.70,691.32L751.70,691.37L752.70,691.41L753.70,691.45L754.70,691.50L755.70,691.54L756.70,691.59L757.70,691.63L758.70,691.68L759.70,691.73L760.70,691.77L761.70,691.82L762.70,691.87L763.70,691.92L764.70,691.96L765.70,692.01L766.70,692.06L767.70,692.11L768.70,692.16L769.70,692.21L770.70,692.26L771.70,692.31L772.70,692.37L773.70,692.42L774.70,692.47L775.70,692.52L776.70,692.58L777.70,692.63L778.70,692.69L779.70,692.74L780.70,692.80L781.70,692.85L782.70,692.91L783.70,692.97L784.70,693.02L785.70,693.08L786.70,693.14L787.70,693.20L788.70,693.26L789.70,693.32L790.70,693.38L791.70,693.44L792.70,693.50L793.70,693.57L794.70,693.63L795.70,693.69L796.70,693.76L797.70,693.82L798.70,693.89L799.70,693.95L800.70,694.02L801.70,694.09L802.70,694.16L803.70,694.22L804.70,694.29L805.70,694.36L806.70,694.43L807.70,694.51L808.70,694.58L809.70,694.65L810.70,694.72L811.70,694.80L812.70,694.87L813.70,694.95L814.70,695.02L815.70,695.10L816.70,695.18L817.70,695.26L818.70,695.34L819.70,695.42L820.70,695.50L821.70,695.58L822.70,695.66L823.70,695.74L824.70,695.83L825.70,695.91L826.70,696.00L827.70,696.08L828.70,696.17L829.70,696.26L830.70,696.35L831.70,696.44L832.70,696.53L833.70,696.62L834.70,696.71L835.70,696.80L836.70,696.90L837.70,696.99L838.70,697.09L839.70,697.19L840.70,697.28L841.70,697.38L842.70,697.48L843.70,697.58L844.70,697.68L845.70,697.79L846.70,697.89L847.70,697.99L848.70,698.10L849.70,698.20L850.70,698.31L851.70,698.42L852.70,698.53L853.70,698.64L854.70,698.75L855.70,698.86L856.70,698.97L857.70,699.09L858.70,699.20L859.70,699.32L860.70,699.44L861.70,699.55L862.70,699.67L863.70,699.80L864.70,699.92L865.70,700.04L866.70,700.17L867.70,700.30L868.70,700.43L869.70,700.57L870.70,700.70L871.70,700.84L872.70,700.98L873.70,701.13L874.70,701.28L875.70,701.43L876.70,701.58L877.70,701.74L878.70,701.90L879.70,702.06L880.70,702.23L881.70,702.41L882.70,702.58L883.70,702.76L884.70,702.95L885.70,703.14L886.70,703.33L887.70,703.53L888.70,703.74L889.70,703.95L890.70,704.16L891.70,704.38L892.70,704.60L893.70,704.84L894.70,705.07L895.70,705.31L896.70,705.56L897.70,705.82L898.70,706.08L899.70,706.34L900.70,706.61L901.70,706.89L902.70,707.18L903.70,707.47L904.70,707.77L905.70,708.08L906.70,708.40L907.70,708.72L908.70,709.05L909.70,709.38L910.70,709.73L911.70,710.08L912.70,710.44L913.70,710.81L914.70,711.19L915.70,711.57L916.70,711.97L917.70,712.37L918.70,712.78L919.70,713.20L920.70,713.63L921.70,714.07L922.70,714.52L923.70,714.98L924.70,715.45L925.70,715.93L926.70,716.41L927.70,716.91L928.70,717.42L929.70,717.94L930.70,718.47L931.70,719.01L932.70,719.56L933.70,720.12L934.70,720.69L935.70,721.28L936.70,721.87L937.70,722.48L938.70,723.10L939.70,723.74L940.70,724.39L941.70,725.07L942.70,725.76L943.70,726.48L944.70,727.22L945.70,727.99L946.70,728.78L947.70,729.60L948.70,730.46L949.70,731.34L950.70,732.26L951.70,733.21L952.70,734.20L953.70,735.23L954.70,736.30L955.70,737.41L956.70,738.56L957.70,739.75L958.70,740.98L959.70,742.25L960.70,743.56L961.70,744.91L962.70,746.30L963.70,747.74L964.70,749.21L965.70,750.73L966.70,752.29L967.70,753.89L968.70,755.54L969.70,757.25L970.70,759.01L971.70,760.83L972.70,762.73L973.70,764.69L974.70,766.73L975.70,768.85L976.70,771.06L977.70,773.35L978.70,775.75L979.70,778.28L980.70,780.98L981.70,783.88L982.70,787.00L983.70,790.38L984.70,794.05L985.70,798.03L986.70,802.37L987.70,807.10" stroke="#129CFF" stroke-width="5.0" stroke-linejoin="round" stroke-linecap="round" clip-path="url(#clipsb)"/>
</g>
<text x="126.55" y="1076.2" text-anchor="middle" font-size="32">0</text>
<text x="235.06" y="1076.2" text-anchor="middle" font-size="32">50</text>
<text x="343.56" y="1076.2" text-anchor="middle" font-size="32">100</text>
<text x="452.07" y="1076.2" text-anchor="middle" font-size="32">150</text>
<text x="560.58" y="1076.2" text-anchor="middle" font-size="32">200</text>
<text x="669.08" y="1076.2" text-anchor="middle" font-size="32">250</text>
<text x="777.59" y="1076.2" text-anchor="middle" font-size="32">300</text>
<text x="886.09" y="1076.2" text-anchor="middle" font-size="32">350</text>
<text x="994.60" y="1076.2" text-anchor="middle" font-size="32">400</text>
<text x="115.3" y="1045.20" text-anchor="end" font-size="32">0</text>
<text x="115.3" y="908.90" text-anchor="end" font-size="32">2000</text>
<text x="115.3" y="772.60" text-anchor="end" font-size="32">4000</text>
<text x="115.3" y="636.30" text-anchor="end" font-size="32">6000</text>
<text x="446.40" y="1115.8" font-size="31.5" textLength="140.20" lengthAdjust="spacingAndGlyphs">Frequency</text>
<text x="598.60" y="1115.8" font-size="31.5" textLength="74.20" lengthAdjust="spacingAndGlyphs">(kHz)</text>
<g transform="translate(33.6,0) rotate(-90)">
<text x="-979.00" y="0" font-size="31.5" textLength="88.20" lengthAdjust="spacingAndGlyphs">Group</text>
<text x="-880.50" y="0" font-size="31.5" textLength="105.00" lengthAdjust="spacingAndGlyphs">velocity</text>
<text x="-762.60" y="0" font-size="31.5" textLength="74.40" lengthAdjust="spacingAndGlyphs">(m/s)</text>
</g>
<rect x="345.3" y="790.9" width="385.90" height="113.90" fill="#fff" stroke="#4a4a4a" stroke-width="1.8"/>
<path d="M352.8,811.85H358.1M362.77000000000004,811.85H368.07000000000005M372.74,811.85H378.04M382.71000000000004,811.85H388.01000000000005M392.68,811.85H397.98M402.65000000000003,811.85H407.95000000000005M412.62,811.85H417.92M422.59000000000003,811.85H427.89000000000004" stroke="#0000FF" stroke-width="5.3" fill="none"/>
<text x="437.0" y="823.4" class="sans" font-size="27.5">A0 -0°</text>
<path d="M352.8,848.75H358.1M362.77000000000004,848.75H368.07000000000005M372.74,848.75H378.04M382.71000000000004,848.75H388.01000000000005M392.68,848.75H397.98M402.65000000000003,848.75H407.95000000000005M412.62,848.75H417.92M422.59000000000003,848.75H427.89000000000004" stroke="#FF0000" stroke-width="5.3" fill="none"/>
<text x="437.0" y="859.2" class="sans" font-size="27.5">A0 -45°</text>
<path d="M352.8,884.5H358.1M362.77000000000004,884.5H368.07000000000005M372.74,884.5H378.04M382.71000000000004,884.5H388.01000000000005M392.68,884.5H397.98M402.65000000000003,884.5H407.95000000000005M412.62,884.5H417.92M422.59000000000003,884.5H427.89000000000004" stroke="#000000" stroke-width="5.3" fill="none"/>
<text x="437.0" y="894.8" class="sans" font-size="27.5">A0 -90°</text>
<line x1="546.8" y1="811.9" x2="623.9" y2="811.9" stroke="#D95319" stroke-width="5.0"/>
<text x="631.0" y="823.4" class="sans" font-size="27.5">S0 -0°</text>
<line x1="546.8" y1="848.3" x2="623.9" y2="848.3" stroke="#7E2F8E" stroke-width="5.0"/>
<text x="631.0" y="859.2" class="sans" font-size="27.5">S0 -45°</text>
<line x1="546.8" y1="884.3" x2="623.9" y2="884.3" stroke="#129CFF" stroke-width="5.0"/>
<text x="631.0" y="894.8" class="sans" font-size="27.5">S0 -90°</text>
<text x="512.4" y="1188.3" text-anchor="middle" class="lab" font-size="41.2">(b)</text>
</svg>
</body></html>
